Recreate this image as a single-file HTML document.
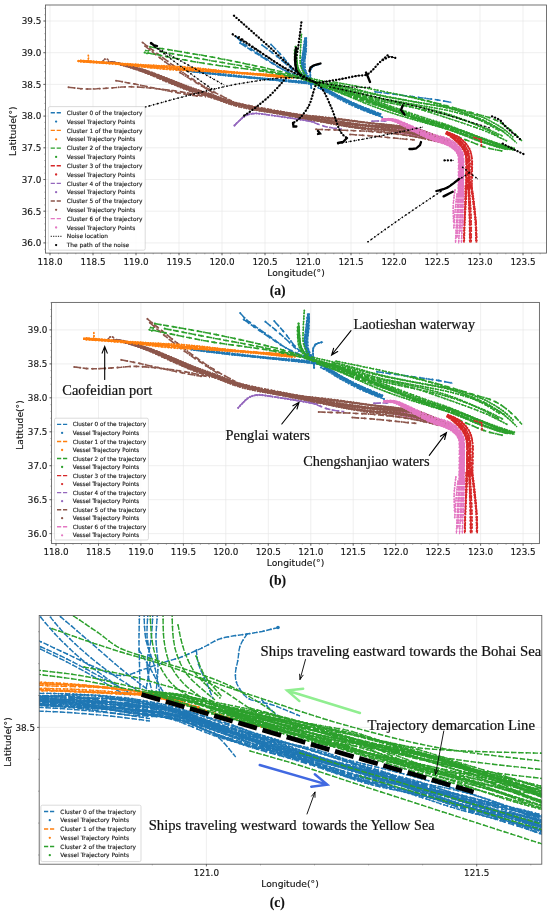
<!DOCTYPE html>
<html><head><meta charset="utf-8"><title>Vessel trajectory clustering</title>
<style>html,body{margin:0;padding:0;background:#fff}svg{display:block}text{stroke:#111;stroke-width:.12px}text.s{stroke-width:.2px}</style></head>
<body>
<svg width="550" height="916" viewBox="0 0 550 916" font-family="'DejaVu Sans','Liberation Sans',sans-serif" fill="#111">
<rect width="550" height="916" fill="#fff"/>
<defs><clipPath id="ca"><rect x="45.5" y="5" width="501" height="248.1"/></clipPath><clipPath id="cb"><rect x="51.6" y="302.4" width="487.8" height="241.2"/></clipPath><clipPath id="cc"><rect x="39.2" y="615.5" width="502.6" height="248.7"/></clipPath>
<path id="a_b_d1" d="M187 70.3l1.8 0.2 2.1 0.2 2.6 0.2 2.8 0.3 3.1 0.3 3.4 0.4 3.4 0.3 3.5 0.4 3.5 0.4 3.5 0.3 3.4 0.4 2.9 0.3 2.9 0.3 3 0.4 3.1 0.3 3.2 0.4 3.2 0.3 3.1 0.4 3.2 0.3 3.2 0.4 3.1 0.3 3.1 0.3 3 0.3 3 0.3 3.4 0.3 3.4 0.3 3.5 0.3 3.4 0.3 3.3 0.2 3.3 0.2 3.2 0.3 3.1 0.2 3 0.2 2.8 0.2 2.6 0.2 4 0.3 3.7 0.4 3.5 0.4 3.1 0.4 2.7 0.3 2.3 0.3 1.8 0.2M187 70.6l1.7 0.2 2.2 0.3 2.5 0.3 2.9 0.4 3.1 0.4 3.3 0.5 3.4 0.5 3.5 0.4 3.5 0.5 3.5 0.4 3.4 0.4 2.8 0.3 3 0.4 3 0.3 3.1 0.3 3.2 0.3 3.2 0.3 3.1 0.3 3.2 0.2 3.2 0.3 3.2 0.2 3 0.3 3.1 0.2 2.9 0.3 3.4 0.2 3.5 0.3 3.4 0.3 3.4 0.2 3.4 0.3 3.3 0.2 3.2 0.3 3 0.3 3 0.3 2.8 0.2 2.7 0.3 3.9 0.4 3.7 0.5 3.4 0.5 3.1 0.4 2.8 0.4 2.3 0.3 1.7 0.3M187 71l1.7 0.2 2.2 0.3 2.5 0.3 2.8 0.3 3.1 0.4 3.3 0.4 3.5 0.4 3.5 0.4 3.5 0.4 3.5 0.4 3.4 0.4 2.8 0.3 3 0.3 3 0.3 3.1 0.3 3.2 0.3 3.2 0.3 3.2 0.3 3.1 0.3 3.2 0.3 3.2 0.3 3 0.3 3.1 0.3 2.9 0.2 3.4 0.4 3.4 0.3 3.5 0.3 3.4 0.3 3.3 0.3 3.3 0.4 3.2 0.3 3.1 0.2 2.9 0.3 2.9 0.3 2.6 0.3 3.9 0.4 3.7 0.4 3.5 0.4 3.1 0.4 2.7 0.4 2.3 0.3 1.8 0.2M325.4 88.9l2.9 1.4 3 1.6 2.7 1.5 2.8 1.6 3.5 1.8 2.4 1.2 2.6 1.3 2.8 1.4 2.9 1.3 3 1.4 3.1 1.4 3.2 1.4 3.1 1.3 3.4 1.4 3.6 1.5 3.6 1.4 3.5 1.4 3.2 1.3M321.7 88.5l3.2 1.5 2.9 1.4 3 1.5 2.6 1.5 2.9 1.6 3.5 1.8 2.4 1.2 2.6 1.3 2.8 1.3 2.9 1.4 3.1 1.4 3.1 1.4 3.2 1.4 3.1 1.2 3.4 1.4 3.7 1.4 3.7 1.4 3.5 1.3 3.1 1.2M321.9 88.1l3.2 1.6 2.8 1.4 2.9 1.6 2.7 1.6 2.8 1.7 3.5 1.9 2.4 1.3 2.5 1.3 2.7 1.5 2.9 1.4 3 1.5 3.1 1.6 3.2 1.5 3 1.3 3.5 1.5 3.6 1.5 3.6 1.4 3.5 1.4M324.9 90.1l2.9 1.4 2.9 1.5 2.7 1.5 2.8 1.6 3.6 1.8 2.4 1.2 2.6 1.3 2.7 1.4 2.9 1.4 3.1 1.4 3.1 1.5 3.2 1.4 3 1.3 3.5 1.4 3.6 1.5 3.6 1.4 3.5 1.4 3.2 1.3M306.3 38.1l-0.2 3.8 -0.3 4.2 -0.3 3.9 -0.6 3.7 -0.6 3.6 -0.5 3.5 -0.2 3.2 0.2 3.7 0.7 3.4 1.2 3.1 2.1 3 2.6 2.7M305.3 41.9l-0.4 4.1 -0.5 3.9 -0.5 3.6 -0.6 3.7 -0.4 3.5 -0.1 3.3 0.4 3.8 0.9 3.4 1.3 3.1 2.4 2.9 2.7 2.6M304.8 41.8l-0.5 4.2 -0.6 3.9 -0.5 3.6 -0.7 3.6 -0.5 3.6 -0.3 3.4 0.4 3.9 0.8 3.6 1.4 3.3 2.5 3.1M311.5 88l-0.2-2.3 -0.3-3.3 -0.3-3.5 -0.2-2.9 -0.2-3.5 0.2-2.5 2.1-3.4 3.4-1.7 4.5-0.8"/>
<path id="a_b_d2" d="M187 70.6l1.7 0.2 2.2 0.3 2.5 0.3 2.9 0.3 3.1 0.4 3.3 0.4 3.4 0.5 3.5 0.4 3.5 0.4 3.5 0.4 3.4 0.4 2.9 0.4 2.9 0.3 3 0.3 3.1 0.3 3.2 0.4 3.2 0.3 3.2 0.3 3.1 0.4 3.2 0.3 3.1 0.3 3.1 0.3 3 0.3 3 0.3 3.4 0.4 3.4 0.3 3.5 0.4 3.4 0.3 3.3 0.3 3.3 0.4 3.2 0.3 3.1 0.3 2.9 0.3 2.8 0.2 2.7 0.3 3.9 0.4 3.7 0.4 3.5 0.4 3.1 0.4 2.7 0.3 2.3 0.3 1.8 0.2M187 71l1.7 0.2 2.1 0.3 2.6 0.3 2.8 0.3 3.1 0.4 3.3 0.4 3.5 0.4 3.5 0.4 3.5 0.4 3.5 0.4 3.4 0.4 2.8 0.2 3 0.3 3 0.3 3.1 0.3 3.2 0.2 3.2 0.3 3.2 0.3 3.2 0.2 3.1 0.3 3.2 0.2 3.1 0.3 3 0.2 2.9 0.3 3.5 0.3 3.4 0.2 3.4 0.3 3.4 0.3 3.4 0.3 3.3 0.2 3.2 0.3 3.1 0.2 2.9 0.3 2.8 0.3 2.7 0.2 3.9 0.4 3.7 0.4 3.5 0.4 3.1 0.4 2.7 0.4 2.3 0.3 1.8 0.2M322.1 87.6l3.3 1.4 2.9 1.4 3 1.5 2.7 1.5 2.9 1.6 3.5 1.8 2.4 1.1 2.6 1.3 2.8 1.3 2.9 1.3 3 1.4 3.2 1.4 3.2 1.3 3 1.3 3.5 1.3 3.6 1.4 3.6 1.4 3.5 1.4 3.2 1.2M325.5 88.8l2.9 1.4 3 1.6 2.6 1.5 2.9 1.6 3.5 1.9 2.3 1.2 2.6 1.4 2.7 1.4 2.9 1.4 3 1.5 3.1 1.5 3.1 1.5 3 1.4 3.4 1.5 3.6 1.5 3.7 1.5 3.4 1.4M316.2 84.7l2.8 1.3 3.2 1.4 3.2 1.5 3 1.4 2.9 1.6 2.7 1.5 2.9 1.6 3.5 1.8 2.3 1.2 2.6 1.3 2.8 1.4 2.9 1.4 3 1.4 3.1 1.5 3.1 1.4 3.1 1.4 3.4 1.4 3.6 1.5 3.6 1.5 3.4 1.5 3.2 1.3M318.2 87.7l3.1 1.6 3.2 1.6 2.8 1.5 2.9 1.6 2.6 1.6 2.9 1.6 3.5 1.9 2.4 1.2 2.6 1.3 2.7 1.4 3 1.4 3 1.4 3.2 1.5 3.2 1.4 3.1 1.2 3.5 1.4 3.6 1.3 3.7 1.4 3.5 1.3 3.2 1.1 2.7 1M306 38.1l-0.2 3.8 -0.4 4.2 -0.4 3.9 -0.5 3.6 -0.5 3.7 -0.5 3.5 -0.1 3.2 0.3 3.8 0.8 3.3 1.3 3 2.1 3 2.6 2.7M306.4 41.9l-0.1 4.2 -0.1 4 -0.4 3.7 -0.5 3.6 -0.4 3.5 0 3 0.2 3.6 0.6 3.2 1.1 2.8 1.8 3.1 2.3 2.8M304.9 38.1l-0.6 3.7 -0.6 4.2 -0.4 3.8 -0.5 3.6 -0.6 3.6 -0.5 3.7 -0.1 3.4 0.5 3.9 0.9 3.6 1.5 3.3 2.5 3 2.9 2.5M311.2 88l-0.2-2.3 -0.3-3.3 -0.2-3.5 -0.2-2.9 -0.2-3.5 0.3-2.6 2-3.5 3.6-1.6 4.5-0.8"/>
<path id="a_b_sp" d="M236.5 37l1.6 1.6 2.3 2.4 3.6 3 2 1.4 2.3 1.6 2.5 1.7 2.7 1.8 2.8 1.8 2.8 1.8 2.9 1.9 2.6 1.7 2.7 1.8 2.8 1.9 2.8 1.8 2.8 1.9 2.8 1.8 2.6 1.6 2.5 1.5 3 1.7 2.8 1.5 2.7 1.4 2.6 1.2 2.6 1.1 2.7 1.1 3.6 1.3 3.8 1.2 3.7 1 3.2 0.9 2.2 0.6M240 43l1.7 1.1 2.2 1.4 2.7 1.7 2.9 1.9 3.1 2 3.2 2.1 3.2 2 3 1.8 2.5 1.6 2.6 1.5 2.5 1.6 2.6 1.6 2.6 1.6 2.6 1.6 2.8 1.5 2.8 1.5 3 1.5 2.9 1.3 3.3 1.4 3.4 1.4 3.6 1.4 3.6 1.4 3.4 1.3 3.2 1.1 2.8 1.1 2.5 0.9 1.8 0.7M271 44.4l1.6 1.7 2.4 2.4 2.7 2.8 2.8 3 2.5 2.7 2.2 2.7 2.2 2.7 2.2 2.7 2.2 2.6 2.2 2.3 3.2 2.5 3.5 2.3 3.1 1.9 2.2 1.3M262 45l1.5 1.2 2.1 1.5 2.5 1.9 2.7 2 2.8 2.2 2.8 2.1 2.6 2.1 2.6 2.2 2.8 2.4 2.8 2.5 2.7 2.4 2.5 2.2 2.1 1.9 1.5 1.4M375 91.8l1.9 0.2 2.4 0.3 2.8 0.4 3.3 0.4 3.5 0.5 3.6 0.4 3.8 0.5 3.7 0.5 2.8 0.4 3.1 0.4 3.2 0.4 3.3 0.4 3.3 0.4 3.4 0.5 3.3 0.4 3.2 0.4 3.1 0.5 2.8 0.3 2.5 0.4 4.1 0.6 3.8 0.6 3.2 0.6 2.8 0.5 2.3 0.4 1.8 0.3"/>
<path id="a_o_d2" d="M80.7 60.4l2.7 0.2 3 0.2 3.2 0.2 3.5 0.3 3.8 0.3 4 0.3 4.1 0.4 2.5 0.2 2.7 0.3 2.8 0.3 2.9 0.2 3 0.3 3.2 0.3 3.2 0.4 3.3 0.3 3.3 0.3 3.3 0.3 3.4 0.2 3.3 0.3 3.2 0.2 3.2 0.2 3.1 0.2 3 0.2 2.9 0.2 2.7 0.1 3.6 0.2 3.4 0.2 3.3 0.2 3.1 0.1 3.1 0.2 3 0.1 2.9 0.2 2.9 0.1 2.9 0.2 2.9 0.1 2.9 0.2 3 0.2 3 0.2 3.1 0.3 3.1 0.2 3.2 0.3 3.1 0.2 3.1 0.3 3.2 0.3 3.1 0.3 3.1 0.3 3.1 0.3 3 0.3 3 0.3 3 0.3 2.9 0.3 3.4 0.3 3.4 0.3 3.4 0.4 3.4 0.3 3.4 0.3 3.2 0.2 3.2 0.3 3.1 0.2 3 0.2 2.8 0.2 2.7 0.2 4 0.3 3.9 0.2 3.6 0.3 3.3 0.2M80.7 60.7l2.7 0.1 3 0.2 3.2 0.2 3.5 0.3 3.8 0.3 4 0.3 4.1 0.4 2.5 0.3 2.6 0.2 2.8 0.3 3 0.3 3 0.3 3.2 0.4 3.2 0.3 3.3 0.3 3.3 0.3 3.3 0.3 3.3 0.3 3.3 0.2 3.3 0.2 3.2 0.2 3.1 0.2 3 0.2 2.9 0.1 2.7 0.1 3.6 0.2 3.4 0.1 3.3 0.1 3.1 0.2 3.1 0.1 3 0.1 2.9 0.2 2.9 0.1 2.9 0.2 2.9 0.2 2.9 0.2 3 0.2 3 0.2 3.1 0.3 3.1 0.2 3.2 0.3 3.1 0.3 3.1 0.3 3.2 0.3 3.1 0.2 3.1 0.3 3.1 0.3 3 0.2 3 0.3 3 0.2 2.9 0.2 3.4 0.3 3.5 0.2 3.4 0.2 3.4 0.3 3.3 0.2 3.3 0.1 3.2 0.2 3.1 0.2 3 0.2 2.8 0.1 2.7 0.2 4 0.3 3.9 0.3 3.6 0.4 3.3 0.3 2.9 0.4M78.2 61.3l2.4 0.2 2.7 0.1 3 0.2 3.3 0.2 3.5 0.2 3.7 0.2 4 0.2 4.2 0.3 2.5 0.2 2.6 0.2 2.8 0.2 3 0.2 3 0.2 3.2 0.3 3.2 0.2 3.3 0.3 3.3 0.3 3.3 0.3 3.3 0.4 3.3 0.3 3.3 0.3 3.2 0.3 3.1 0.3 3 0.3 2.8 0.3 2.7 0.2 3.6 0.4 3.4 0.3 3.3 0.2 3.1 0.3 3.1 0.3 3 0.2 2.9 0.2 2.9 0.2 2.9 0.2 2.9 0.2 2.9 0.2 3 0.2 3 0.1 3.1 0.2 3.1 0.2 3.2 0.1 3.1 0.2 3.2 0.2 3.1 0.1 3.1 0.2 3.1 0.2 3.1 0.1 3.1 0.2 3 0.2 3 0.2 2.9 0.2 3.4 0.2 3.4 0.2 3.4 0.3 3.4 0.3 3.4 0.2 3.2 0.3 3.2 0.3 3.1 0.3 3 0.3 2.8 0.3 2.7 0.2 4 0.4 3.8 0.4 3.7 0.4 3.3 0.3M80.6 61.8l2.7 0.1 3 0.2 3.2 0.3 3.6 0.2 3.7 0.2 4 0.3 4.2 0.3 2.4 0.2 2.7 0.2 2.8 0.2 2.9 0.3 3.1 0.2 3.1 0.3 3.3 0.3 3.2 0.4 3.3 0.3 3.4 0.4 3.3 0.3 3.3 0.4 3.2 0.3 3.2 0.4 3.1 0.3 3 0.3 2.8 0.3 2.8 0.3 3.5 0.3 3.4 0.2 3.3 0.3 3.2 0.2 3 0.2 3 0.2 3 0.1 2.9 0.2 2.9 0.1 2.9 0.1 2.9 0.1 3 0.1 3 0.1 3.1 0.1 3.1 0.1 3.2 0.1 3.1 0.1 3.2 0.1 3.1 0.1 3.1 0.2 3.1 0.1 3.1 0.2 3.1 0.2 3 0.2 3 0.2 2.9 0.2 3.4 0.3 3.4 0.2 3.4 0.4 3.4 0.3 3.3 0.3 3.3 0.4 3.2 0.3 3.1 0.4 2.9 0.3 2.9 0.3 2.6 0.3 4 0.4 3.9 0.3 3.6 0.3 3.3 0.3 2.9 0.2"/>
<path id="a_o_d1" d="M80.7 60.6l2.7 0.1 3 0.2 3.2 0.3 3.5 0.2 3.8 0.3 4 0.3 4.1 0.3 2.5 0.2 2.7 0.2 2.8 0.3 2.9 0.2 3.1 0.2 3.1 0.3 3.2 0.2 3.3 0.2 3.3 0.2 3.4 0.2 3.3 0.2 3.3 0.1 3.3 0.2 3.2 0.1 3.1 0.1 3 0.1 2.9 0.2 2.7 0.1 3.6 0.1 3.4 0.2 3.3 0.2 3.1 0.1 3.1 0.2 3 0.2 2.9 0.2 2.9 0.3 2.9 0.2 2.9 0.2 2.9 0.3 3 0.3 3 0.3 3.1 0.3 3.1 0.4 3.1 0.3 3.1 0.4 3.2 0.4 3.1 0.3 3.1 0.4 3.1 0.3 3.1 0.3 3 0.4 3 0.3 3 0.2 2.9 0.3 3.4 0.3 3.4 0.3 3.4 0.3 3.4 0.3 3.4 0.2 3.2 0.3 3.2 0.2 3.1 0.2 3 0.2 2.8 0.1 2.7 0.2 4.1 0.3 3.8 0.2 3.6 0.4 3.3 0.3 2.9 0.2M78.3 60.6l2.4 0.1 2.7 0.2 3 0.2 3.2 0.2 3.5 0.3 3.8 0.2 4 0.3 4.1 0.3 2.5 0.2 2.7 0.2 2.8 0.2 2.9 0.2 3.1 0.3 3.1 0.2 3.2 0.3 3.3 0.2 3.3 0.3 3.4 0.3 3.3 0.2 3.3 0.3 3.2 0.2 3.2 0.3 3.1 0.2 3 0.3 2.9 0.2 2.7 0.2 3.6 0.3 3.4 0.2 3.3 0.3 3.1 0.2 3.1 0.3 3 0.2 2.9 0.2 2.9 0.2 2.9 0.2 2.9 0.2 2.9 0.3 3 0.2 3 0.2 3.1 0.2 3.1 0.2 3.1 0.3 3.2 0.2 3.1 0.2 3.1 0.3 3.2 0.2 3.1 0.2 3.1 0.2 3 0.3 3 0.2 3 0.2 2.9 0.2 3.4 0.3 3.4 0.3 3.5 0.2 3.3 0.3 3.4 0.3 3.3 0.2 3.1 0.3 3.1 0.2 3 0.3 2.8 0.2 2.7 0.2 4 0.4 3.9 0.3 3.6 0.4 3.3 0.3 2.9 0.2 2.4 0.3M78.3 61.2l2.3 0.2 2.7 0.2 3 0.2 3.3 0.2 3.5 0.2 3.7 0.2 4 0.2 4.2 0.2 2.5 0.1 2.6 0.1 2.9 0.1 2.9 0.1 3.1 0.2 3.1 0.1 3.3 0.2 3.2 0.1 3.4 0.2 3.3 0.2 3.3 0.3 3.3 0.2 3.3 0.3 3.2 0.3 3.1 0.3 3 0.3 2.8 0.3 2.7 0.3 3.6 0.4 3.4 0.3 3.2 0.4 3.2 0.4 3.1 0.3 2.9 0.4 3 0.3 2.8 0.3 2.9 0.3 2.9 0.3 2.9 0.3 3 0.2 3 0.3 3.1 0.3 3.1 0.2 3.1 0.2 3.2 0.3 3.1 0.2 3.2 0.2 3.1 0.2 3.1 0.2 3.1 0.2 3 0.2 3 0.2 3 0.2 2.9 0.3 3.4 0.2 3.5 0.3 3.4 0.2 3.4 0.3 3.3 0.3 3.3 0.3 3.2 0.3 3 0.4 3 0.3 2.8 0.3 2.7 0.2 4 0.4 3.9 0.3 3.6 0.3 3.3 0.3M88 61l0.6-3.5 -0.4-3"/>
<path id="a_g_sp" d="M148 53l1.7 0.3 1.9 0.4 2.3 0.4 2.5 0.5 2.7 0.5 2.9 0.6 3.1 0.6 3.2 0.6 3.3 0.6 3.5 0.7 3.5 0.6 3.5 0.7 3.5 0.6 3.5 0.7 3.5 0.6 3.4 0.6 3.3 0.6 3.2 0.5 3 0.5 3.1 0.5 3.2 0.5 3.2 0.4 3.2 0.4 3.2 0.5 3.2 0.4 3.2 0.4 3.2 0.4 3.2 0.3 3.1 0.4 3.1 0.4 3 0.4 3 0.3 2.9 0.4 2.8 0.4 2.7 0.3 2.7 0.4 2.5 0.4 4 0.6 3.7 0.7 3.6 0.6 3.4 0.6 3.3 0.6 3.1 0.7 3 0.6 2.9 0.6 2.7 0.6 2.7 0.5 2.6 0.6 4 0.9 3.8 0.9 3.5 0.9 3.2 0.9 2.8 0.8 2.4 0.6 1.8 0.5M150 46.8l1.7 0.3 2 0.3 2.3 0.4 2.6 0.4 2.8 0.4 3 0.5 3.2 0.5 3.3 0.5 3.4 0.6 3.6 0.5 3.5 0.6 3.6 0.6 3.6 0.6 3.6 0.6 3.5 0.6 3.4 0.6 3.3 0.5 3.1 0.6 3.1 0.6 3.1 0.5 3.2 0.6 3.2 0.6 3.2 0.7 3.2 0.6 3.2 0.6 3.2 0.6 3.1 0.7 3.2 0.6 3.1 0.6 3 0.7 3 0.6 2.9 0.6 2.9 0.6 2.7 0.6 2.7 0.5 2.5 0.6 3.6 0.8 3.5 0.8 3.3 0.8 3.2 0.7 3 0.7 3 0.8 2.8 0.7 2.7 0.7 2.6 0.7 2.5 0.6 2.4 0.7 2.4 0.7 4 1.2 3.8 1.2 3.5 1.3 3.2 1.2 2.8 1 2.4 0.9 1.8 0.7M160 51.5l1.7 0.3 2 0.4 2.3 0.4 2.6 0.5 2.9 0.5 3 0.5 3.2 0.6 3.4 0.6 3.4 0.6 3.5 0.7 3.5 0.6 3.5 0.6 3.4 0.6 3.4 0.6 3.2 0.6 3 0.5 3.1 0.6 3.2 0.5 3.2 0.5 3.2 0.6 3.3 0.5 3.2 0.6 3.3 0.5 3.3 0.6 3.2 0.5 3.2 0.6 3.1 0.5 3.1 0.5 2.9 0.6 2.9 0.5 2.8 0.5 3.6 0.7 3.6 0.7 3.5 0.7 3.4 0.7 3.3 0.7 3.2 0.7 3.1 0.6 3 0.7 2.8 0.6 2.7 0.6 2.5 0.6 2.3 0.5 4.8 1.2 3.9 1.1 3.1 0.9 2.4 0.7 1.8 0.6M448 133l2 0.8 2.9 1.1 3.3 1.3 3.6 1.4 3.7 1.4 3.5 1.3 3 1.2 3.6 1.4 3.2 1.3 3.1 1.2 3 1.1 3.1 1 3.5 0.9 3.7 0.8 3.6 0.8 3 0.6 2.2 0.4M410 96.5l1.8 0.4 2.3 0.6 2.7 0.7 3.1 0.7 3.3 0.9 3.5 0.8 3.5 0.9 3.4 0.9 3.3 0.8 3.1 0.8 3.2 0.9 3.3 0.8 3.2 0.9 3.2 0.9 3.2 0.8 3.2 0.9 3.1 0.9 3.1 0.8 3 0.9 3.4 0.9 3.4 1 3.4 0.9 3.3 0.9 3.3 0.9 3.1 0.9 2.9 1 2.7 1.1 3.3 1.5 2.9 1.6 2.6 1.7 2.5 1.7 2.4 1.8 2.3 1.8 2.8 2.4 2.9 2.7 2.6 2.6 2.1 2.2 1.6 1.6"/>
<path id="a_g_d1" d="M147 53.5l-2.5-1 1-2 3.5 0.5M311.4 80.1l4.1 1.2 4.1 1.1 3.5 0.8 3.6 0.9 4 1.1 2.8 1 3 1.2 3.1 1.2 3.1 1.2 3 1.3 2.5 1 2 0.9 2.3 1 3.2 1.3 4.7 2 2.1 0.9 2.3 1 2.7 1.1 2.8 1.2 3.1 1.3 3.1 1.3 3.3 1.3 3.2 1.3 3.3 1.2 3.3 1.3 3.1 1.1 3.1 1.1 2.8 1 2.6 0.9 2.4 0.8 4.3 1.3 3.6 1.1 3.1 1 2.7 0.8 2.7 0.7 2.6 0.7 3 0.8 3.1 0.8 3.2 0.8 3.2 0.8 3.2 0.8 3.1 0.8 3 0.8 3 0.8 3.3 0.9 3.1 1 3.1 1 3 1 2.9 0.9 2.8 1 3.2 1.1 2.9 1.1 2.8 1.1 2.9 1 3.3 1.2 2.6 0.9 2.8 1 2.9 1.1 3 1 3 1 2.8 1 2.7 0.8 3.8 1.2 3.9 1.2 3.6 1 3.2 0.8M315.1 82.5l4.1 1.2 3.5 1 3.6 0.8 4 1.2 2.7 0.9 3 1.1 3.1 1.1 3.2 1.1 3.1 1.1 2.5 0.9 2.1 0.8 2.3 0.8 3.2 1.1 4.9 1.7 2.1 0.7 2.5 0.9 2.7 0.9 2.9 1 3.1 1.1 3.2 1.1 3.3 1.1 3.3 1.2 3.4 1.1 3.3 1.1 3.1 1.1 3.1 1.1 2.8 0.9 2.6 0.9 2.4 0.8 4.2 1.5 3.6 1.2 3 1 2.8 0.8 2.6 0.9 2.6 0.8 2.9 0.9 3.1 0.9 3.2 0.9 3.1 1 3.2 0.9 3 0.9 3.1 0.9 2.9 0.9 3.2 1 3.2 1.1 3 1.1 3 1 2.8 1.1 2.8 1 3.1 1.2 2.9 1.2 2.8 1.1 2.9 1.2 3.3 1.2 2.5 1 2.8 1.1 2.9 1.1 3 1.1 2.9 1.1 2.9 1 2.7 0.9 3.8 1.2 3.9 1.1 3.7 1M314.8 83.3l4.1 1.4 3.5 1 3.5 0.9 4 1.2 2.8 0.9 3 1 3.1 1 3.2 1.1 3.1 1 2.5 0.9 2.1 0.6 2.4 0.8 3.3 1 4.9 1.5 2.1 0.7 2.5 0.8 2.7 0.8 3 1 3.1 1 3.2 1 3.4 1.1 3.3 1.1 3.4 1.1 3.2 1.1 3.2 1.1 3.1 1 2.8 1 2.6 0.9 2.3 0.9 4.3 1.5 3.5 1.2 3 1.1 2.7 1 2.6 0.9 2.6 0.9 2.9 1 3.1 1.1 3.1 1 3.1 1.1 3.1 1 3 1.1 3 1 2.8 1 3.2 1.2 3.1 1.2 3 1.2 2.9 1.1 2.8 1.2 2.8 1.1 3.1 1.2 2.8 1.2 2.8 1.2 2.9 1.3 3.3 1.2 2.6 1 2.8 1 3 1 3 1 3 0.9 2.9 0.9 2.8 0.8 3.9 0.9 4 0.8M314.7 83.5l4.2 1.2 3.5 0.9 3.6 0.8 4 1.1 2.8 0.8 3 1 3.2 1 3.1 1 3.1 1.1 2.6 0.8 2.1 0.7 2.3 0.8 3.3 1.1 4.8 1.7 2.2 0.7 2.4 0.9 2.7 1 2.9 1 3 1.2 3.2 1.2 3.3 1.2 3.3 1.3 3.3 1.2 3.2 1.3 3.1 1.2 3 1.2 2.8 1.1 2.6 1 2.3 0.9 4.2 1.6 3.6 1.3 3 1.1 2.7 1 2.6 0.9 2.7 0.9 2.8 0.9 3.2 1 3.1 1 3.1 1 3.2 0.9 3 0.9 3 1 2.9 0.9 3.2 1.1 3.1 1.1 3 1 2.9 1.1 2.9 1.1 2.7 1 3.1 1.3 2.8 1.1 2.8 1.2 3 1.2 3.2 1.3 2.7 1 2.8 0.9 3 1.1 3 1 3 1 2.9 0.9 2.8 0.8 3.9 1 4 0.8M314.8 83.3l4.1 1.4 3.5 1.1 3.5 1.1 3.9 1.3 2.6 1.1 3 1.2 3 1.3 3.1 1.4 3 1.3 2.4 1.1 2.1 0.8 2.3 1 3.1 1.4 4.8 2 2.1 0.8 2.3 1 2.7 1.1 2.9 1.1 3 1.2 3.2 1.2 3.3 1.2 3.3 1.2 3.3 1.2 3.3 1.1 3.2 1.1 3.1 0.9 2.9 1 2.6 0.8 2.4 0.7 4.3 1.3 3.6 1.1 3.1 0.9 2.8 0.8 2.6 0.7 2.7 0.8 3 0.8 3.1 0.9 3.2 0.9 3.2 0.8 3.1 0.9 3.1 0.9 3 0.9 2.8 0.9 3.3 1 3.1 1.1 3 1.1 2.9 1.1 2.8 1 2.8 1.1 3.1 1.1 2.8 1.2 2.8 1.1 3 1.2 3.3 1.2 2.7 0.9 2.8 0.9 3 1 3 0.9 3.1 0.9 2.9 0.9 2.8 0.7 4 0.8 4 0.8 3.8 0.6 3.2 0.5M309.2 78.1l4 0.9 4.3 0.9 2.9 0.6 3 0.6 3.3 0.7 3.9 0.9 2.5 0.6 2.8 0.7 3 0.7 3 0.8 3.2 0.8 3.3 0.8 3.3 0.9 2.9 0.7 3 0.8 3 0.8 3.2 0.9 3.1 0.8 3.2 0.8 3.3 0.8 3.2 0.7 2.9 0.7 2.7 0.6 2.8 0.6 2.8 0.6 2.9 0.5 3.1 0.6 3.3 0.6 3.5 0.7 3.8 0.7 2.7 0.5 2.8 0.6 3 0.5 3.2 0.5 3.2 0.6 3.4 0.5 3.3 0.6 3.4 0.5 3.4 0.6 3.4 0.5 3.3 0.6 3.2 0.5 3 0.6 3 0.5 3.5 0.8 3.5 0.9 3.4 0.8 3.3 0.9 3.3 0.9 3.1 0.9 3 1 2.9 0.9 2.8 1 2.7 0.9 2.6 0.9 3.7 1.7 3.3 1.7 3.1 1.6 2.8 1.6 2.6 1.5 2.3 1.5 2.4 1.5 2.9 2.3 2.7 2.2 2.4 2.1 2.1 2M330 85.1l2.5 0.7 2.7 0.8 3 0.8 3 0.9 3.2 0.9 3.2 0.9 3.3 0.9 2.9 0.8 2.9 0.9 3.1 0.8 3.1 0.8 3.2 0.9 3.2 0.8 3.3 0.8 3.3 0.7 2.9 0.6 2.8 0.5 2.8 0.6 2.8 0.4 3 0.5 3 0.6 3.3 0.5 3.5 0.6 3.8 0.7 2.7 0.5 2.8 0.5 3 0.5 3.2 0.6 3.2 0.5 3.3 0.6 3.4 0.6 3.4 0.6 3.4 0.6 3.3 0.6 3.3 0.6 3.1 0.6 3.1 0.6 2.9 0.6 3.5 0.8 3.4 0.8 3.4 0.9 3.3 0.9 3.2 0.9 3.1 0.9 3 0.9 2.9 1 2.7 0.9 2.7 0.9 2.6 0.9 3.6 1.5 3.4 1.6 3 1.5 2.8 1.4 2.6 1.5 2.4 1.3 2.4 1.4 3 2.1M330.1 84.7l2.5 0.7 2.8 0.7 2.9 0.8 3.1 0.8 3.1 0.9 3.3 0.8 3.2 1 2.9 0.8 3 0.8 3.1 0.9 3.1 0.9 3.1 0.9 3.2 0.9 3.2 0.9 3.3 0.8 2.9 0.7 2.8 0.7 2.8 0.6 2.8 0.6 2.9 0.6 3 0.6 3.3 0.7 3.4 0.7 3.8 0.9 2.7 0.5 2.8 0.6 3 0.7 3.1 0.6 3.2 0.7 3.3 0.8 3.3 0.7 3.3 0.8 3.3 0.8 3.3 0.8 3.2 0.8 3.1 0.9 2.9 0.8 2.8 0.9 3.4 1.1 3.4 1.1 3.2 1.1 3.2 1.2 3 1.2 3 1.1 2.9 1.2 2.7 1.2 2.7 1.1 2.5 1.1 2.4 1.1 3.5 1.5 3.2 1.5 2.9 1.5 2.7 1.4 2.5 1.3 2.4 1.3 2.4 1.3M296.3 50.2l0.1 4.1 0.3 3.7 0.3 3.2 0.3 3 0.6 2.9 1 2.6 1.9 3.1 2.5 2.8 2.6 2.3 3 2 3.1 1.5M295.9 46.6l0.1 3.6 0.2 4.1 0.3 3.7 0.3 3.2 0.4 3.1 0.6 2.8 1 2.6 1.9 3.2 2.5 2.8 2.7 2.3 2.9 2.1M295.9 46.6l0.1 3.6 0 4.1 0.2 3.7 0.3 3.2 0.4 3.1 0.6 2.9 0.9 2.7 2 3.2 2.6 2.8 2.7 2.4 3 2 3.1 1.5M301.5 34.5l-0.2 2.1 -0.2 3 -0.2 3.5 -0.3 3.6 -0.1 3.3 -0.1 3.2 -0.2 3.2 -0.1 3.3 0.1 3 0.4 2.8 1.6 4.3 2.2 3.7 1.6 2.5"/>
<path id="a_g_d2" d="M310.9 81.5l4.1 1.2 4.1 1.2 3.6 0.9 3.5 0.8 4.1 1 2.8 0.9 3 0.9 3.2 1 3.2 1.1 3.1 1 2.5 0.8 2.2 0.7 2.3 0.7 3.3 1.1 4.8 1.5 2.2 0.7 2.4 0.8 2.8 0.9 2.9 0.9 3.1 1 3.2 1.1 3.4 1.1 3.3 1.1 3.3 1.2 3.3 1.1 3.2 1.1 3 1 2.9 1 2.6 0.9 2.3 0.8 4.3 1.5 3.5 1.2 3 1 2.8 0.9 2.5 0.9 2.7 0.9 2.9 0.9 3.1 1 3.1 1 3.1 0.9 3.1 1 3.1 0.9 3 1 2.9 1 3.2 1.1 3.1 1.2 3.1 1.1 2.9 1.2 2.8 1.1 2.8 1.1 3.1 1.3 2.8 1.2 2.8 1.3 2.9 1.2 3.2 1.3 2.6 1.1 2.7 1.1 2.9 1.1 3 1.2 2.9 1.1 2.9 1 2.7 0.9 3.8 1.2 3.9 1.1M315.2 82.3l4 1.3 3.5 1 3.5 1 4 1.2 2.8 1 2.9 1.1 3.1 1.2 3.2 1.2 3 1.1 2.5 1 2.1 0.8 2.3 0.8 3.2 1.2 4.9 1.8 2.1 0.7 2.4 0.9 2.7 1 2.9 1 3.1 1.2 3.2 1.1 3.3 1.2 3.3 1.2 3.3 1.2 3.3 1.2 3.1 1.1 3.1 1.1 2.8 1 2.6 0.9 2.3 0.8 4.3 1.4 3.6 1.2 3 1 2.8 0.9 2.6 0.8 2.6 0.9 2.9 0.9 3.2 0.9 3.1 0.9 3.2 0.9 3.1 0.9 3.1 0.9 3 0.8 2.9 0.9 3.3 1 3.1 1 3.1 1.1 2.9 1 2.9 1 2.8 0.9 3.1 1.2 2.9 1.1 2.9 1.1 2.9 1.1 3.3 1.1 2.6 0.9 2.8 1 3 1 2.9 1.1 3 0.9 2.9 1 2.7 0.8 3.9 1.1 3.9 1 3.7 0.9 3.2 0.7M314.5 84.2l4.1 1.5 3.5 1.1 3.5 1.1 3.9 1.2 2.7 1 2.9 1 3.1 1.2 3.2 1.1 3 1.2 2.6 0.8 2.1 0.8 2.3 0.8 3.3 1.1 4.8 1.6 2.2 0.7 2.4 0.8 2.7 0.9 3 1 3.1 1 3.2 1.1 3.3 1.1 3.4 1.1 3.3 1.1 3.3 1.2 3.2 1.1 3 1 2.9 1 2.6 0.9 2.3 0.8 4.3 1.5 3.5 1.2 3.1 1.1 2.7 0.9 2.6 0.9 2.7 0.8 2.9 1 3.1 1 3.1 1 3.1 1 3.1 1 3.1 0.9 3 1 2.8 0.9 3.2 1.1 3.1 1.1 3 1.1 3 1.1 2.8 1 2.8 1.1 3.1 1.1 2.8 1.1 2.8 1.2 3 1.1 3.3 1.2 2.7 0.8 2.8 0.9 3 1 3.1 0.9 3 0.9 2.9 0.8 2.8 0.7 4 0.9 4 0.7 3.8 0.7 3.2 0.5M314.6 83.8l4.1 1.5 3.5 1.1 3.5 1 3.9 1.2 2.8 0.9 2.9 1.1 3.1 1.1 3.2 1.1 3.1 1.1 2.5 0.9 2.1 0.7 2.4 0.7 3.2 1.1 4.9 1.6 2.2 0.7 2.4 0.8 2.7 1 2.9 0.9 3.1 1.1 3.2 1.2 3.3 1.1 3.3 1.2 3.4 1.3 3.2 1.2 3.1 1.2 3 1.1 2.9 1.1 2.5 1 2.4 0.9 4.2 1.6 3.5 1.3 3 1.1 2.8 1 2.5 0.9 2.7 0.9 2.9 0.9 3.1 1.1 3.2 0.9 3.1 1 3.1 0.9 3.1 0.9 3 0.8 2.9 0.9 3.2 1 3.1 1 3 1.1 3 1 2.9 1 2.7 1 3.1 1.1 2.9 1.2 2.8 1.1 3 1.2 3.2 1.3 2.7 0.9 2.8 1 3 1 3 1 3 1 2.9 1 2.7 0.8 4 1 4 0.9M333.5 81.9l2.8 0.5 3 0.6 3.2 0.6 3.2 0.6 3.3 0.6 3.3 0.6 3 0.5 3.1 0.7 3.1 0.6 3.2 0.6 3.2 0.6 3.2 0.6 3.2 0.6 3.3 0.6 2.8 0.6 2.8 0.6 2.7 0.5 2.8 0.6 2.9 0.6 3.1 0.6 3.3 0.7 3.5 0.7 3.8 0.9 2.7 0.6 2.8 0.6 2.9 0.7 3.1 0.8 3.3 0.7 3.2 0.8 3.3 0.9 3.4 0.8 3.3 0.9 3.3 0.9 3.2 1 3.1 0.9 3 0.9 2.8 1 3.4 1.2 3.4 1.3 3.2 1.2 3.2 1.3 3.1 1.3 3 1.2 2.9 1.2 2.8 1.2 2.7 1.2 2.6 1.2 2.4 1.1 3.6 1.8 3.2 1.7 2.9 1.6 2.8 1.6 2.5 1.5 2.4 1.5M330.4 83.6l2.5 0.6 2.8 0.7 2.9 0.8 3.1 0.8 3.2 0.8 3.2 0.8 3.3 0.9 2.9 0.7 3 0.8 3.1 0.8 3.1 0.8 3.2 0.7 3.2 0.8 3.3 0.7 3.3 0.7 2.8 0.6 2.8 0.6 2.8 0.5 2.8 0.5 3 0.5 3 0.5 3.3 0.6 3.5 0.6 3.9 0.7 2.6 0.5 2.9 0.4 3 0.6 3.2 0.5 3.2 0.6 3.3 0.5 3.4 0.6 3.4 0.6 3.4 0.6 3.3 0.7 3.3 0.6 3.1 0.6 3.1 0.7 2.9 0.7 3.5 0.9 3.4 1 3.4 1 3.2 1 3.2 1 3.1 1.1 2.9 1 2.9 1.1 2.7 1 2.6 1.1 2.6 1 3.6 1.7 3.3 1.7 2.9 1.7 2.8 1.6 2.5 1.6 2.4 1.5 2.3 1.4 2.9 2.2 2.7 2.1 2.4 1.9 2.2 1.9 2 1.7 3 2.9M317 82l2.9 0.7 2.9 0.7 3.3 0.9 3.8 1 2.5 0.7 2.8 0.9 2.9 0.8 3 1 3.1 1 3.2 1 3.3 1.1 2.8 0.9 3 1 3 1 3 1.1 3.2 1 3.1 1 3.3 1 3.2 1 2.9 0.7 2.9 0.7 2.7 0.6 2.9 0.6 2.9 0.6 3 0.6 3.2 0.6 3.5 0.7 3.8 0.7 2.6 0.6 2.9 0.5 3 0.6 3.1 0.6 3.2 0.6 3.3 0.7 3.4 0.6 3.3 0.7 3.3 0.7 3.3 0.8 3.2 0.7 3.1 0.8 3 0.7 2.8 0.8 3.4 0.9 3.4 1 3.3 1 3.1 1 3.2 1.1 3 1 2.9 1 2.8 1 2.7 1 2.6 0.9 2.5 0.9 3.6 1.4 3.3 1.3 3 1.3 2.7 1.2 2.6 1.3 2.5 1.2 2.5 1.1 3.2 1.6M322.7 84.1l3.2 1 3.8 1.1 2.5 0.8 2.7 0.8 2.9 0.9 3.1 0.9 3.1 0.9 3.3 0.9 3.2 0.9 2.9 0.8 3 0.8 3.1 0.8 3.1 0.8 3.2 0.8 3.2 0.8 3.3 0.8 3.3 0.7 2.9 0.6 2.8 0.6 2.8 0.5 2.9 0.6 2.9 0.6 3 0.6 3.2 0.7 3.5 0.8 3.7 1 2.6 0.7 2.8 0.8 3 0.8 3 0.9 3.2 0.9 3.2 0.9 3.3 1 3.2 1 3.3 1 3.2 1.1 3.1 1 3.1 0.9 2.8 1 2.8 0.9 3.3 1.1 3.3 1 3.3 1.1 3.1 1.1 3.1 1 3 1 2.9 1 2.8 1 2.7 0.9 2.6 0.9 2.4 0.9 3.6 1.3 3.2 1.2 3 1.2 2.7 1.2 2.6 1.2 2.5 1.2 2.4 1.1 3.2 1.5 2.9 1.4 2.6 1.3M295.4 46.6l0 3.7 0.1 4 0.2 3.7 0.4 3.2 0.4 3.2 0.7 2.9 1 2.7 2.1 3.2 2.6 2.8 2.7 2.3 3.1 1.9 3.2 1.5M294.6 50.3l-0.1 4.1 0.1 3.7 0.3 3.3 0.3 3.2 0.7 3.1 1.1 2.9 2.2 3.4 2.8 2.9 2.9 2.4 3.3 1.8 3.3 1.4"/>
<path id="a_r_d2" d="M446.9 132.1l3.6 1.5 3.3 1.3 3.4 1.7 3.4 2.3 3.4 2.8 3 3.4 2.6 4.1 1.2 3.2 0.8 3.4 0.5 3.9 0.2 2.9 0 3.1 0 3.1 -0.1 3.2 0 3.1 -0.1 3.2 -0.1 3.4 -0.1 3.4 -0.1 2.9M446.7 132.6l3.5 1.6 3.1 1.6 3.2 1.8 3.2 2.4 3.1 2.8 2.7 3.3 2.3 3.9 1 3 0.7 3.2 0.4 3.7 0.1 2.7 0 3 -0.1 3.2 -0.1 3.1 -0.1 3.1 -0.1 3.2 0 3.5 -0.1 3.4 0 2.9M446.7 132.7l3.4 1.7 2.9 1.9 2.9 2.2 3 2.4 2.9 2.8 2.6 3.2 2.1 3.7 1 2.7 0.7 3.1 0.4 3.6 0.1 2.7 0.1 2.9 -0.1 3.1 0 3.2 -0.1 3.1 0.1 3.2 0 3.5 0.1 3.4 0 2.9M446.5 133l3.4 1.7 2.9 1.9 2.9 2.1 3 2.4 2.9 2.8 2.6 3.1 2.1 3.7 0.9 2.7 0.6 3 0.4 3.6 0.1 2.7 -0.1 2.9 -0.1 3.1 -0.2 3.2 -0.1 3.1 -0.1 3.2 0 3.5 -0.1 3.4 0 2.9M446.4 133.3l3.2 1.9 2.9 1.9 2.7 2.2 2.9 2.5 2.8 2.8 2.4 3.1 2 3.5 0.8 2.5 0.5 2.9 0.4 3.5 0 2.6 0 2.9 -0.2 3.1 -0.1 3.2 -0.1 3.1 -0.1 3.2 0 3.5 0 3.4 0 2.8M446.3 133.4l3.2 2 2.7 2.1 2.6 2.4 2.8 2.5 2.6 2.8 2.3 3 1.9 3.4 0.8 2.4 0.5 2.7 0.4 3.5 0.1 2.5 0 2.9 -0.1 3.1 0 3.1 0 3.2 0 3.2 0.1 3.5 0.1 3.4 0.1 2.8M466 186l0 2.1 -0.1 2.8 -0.1 3.4 -0.2 3.6 -0.1 3.7 -0.2 3.4 -0.2 3.3 -0.2 3.4 -0.2 3.4 -0.2 3.4 -0.1 3.3 -0.2 3.2 -0.1 3.9 -0.2 4.1 -0.1 3.9 0 3.3 -0.1 2.3M469.1 186l0.1 2 0.3 2.9 0.2 3.3 0.3 3.6 0.3 3.7 0.2 3.5 0.2 3.3 0.1 3.4 0.2 3.4 0.1 3.4 0.1 3.3 0.1 3.2 0 3.9 0 4.1 0 3.9 -0.1 3.3 0 2.3M468 186l0.1 2.1 0.2 2.8 0.1 3.4 0.2 3.6 0.2 3.7 0.1 3.4 0.1 3.3 0.2 3.4 0.1 3.4 0.1 3.4 0.1 3.3 0 3.2 0.1 3.9 0 4.1 0.1 3.9 0 3.3 0 2.3M471.3 186l0.3 2 0.5 2.9 0.5 3.3 0.5 3.7 0.5 3.6 0.5 3.5 0.4 3.3 0.4 3.3 0.4 3.5 0.4 3.3 0.3 3.4 0.2 3.2 0.3 3.9 0.1 4.1 0.1 3.9 0 3.3 0.1 2.3"/>
<path id="a_r_d1" d="M447.1 131.9l3.6 1.3 3.3 1.4 3.5 1.7 3.4 2.3 3.3 2.9 3 3.5 2.5 4.1 1.1 3.3 0.7 3.4 0.4 4 0 2.8 -0.1 3.1 -0.2 3.1 -0.2 3.2 -0.2 3 -0.2 3.3 -0.2 3.4 -0.2 3.4 -0.2 2.9M446.9 132.2l3.5 1.6 3 1.8 3.1 2 3.1 2.5 3 2.9 2.6 3.3 2.2 3.9 0.9 2.9 0.7 3.1 0.3 3.8 0.1 2.6 -0.1 3 -0.1 3.1 -0.1 3.2 -0.1 3.1 -0.1 3.2 0 3.5 -0.1 3.4 0 2.9M446.9 132.3l3.4 1.6 3.1 1.8 3 2 3.2 2.4 2.9 2.9 2.7 3.4 2.1 3.9 1 2.8 0.6 3.2 0.3 3.7 0 2.6 -0.1 3 -0.1 3.1 -0.2 3.2 -0.1 3.1 -0.1 3.2 -0.1 3.5 -0.1 3.4 0 2.9M446.4 133.2l3.3 1.9 2.8 1.9 2.8 2.2 2.9 2.5 2.7 2.8 2.4 3.1 1.9 3.6 0.8 2.6 0.5 2.8 0.3 3.6 0.1 2.5 -0.1 2.9 -0.2 3.1 -0.1 3.1 -0.1 3.2 -0.1 3.2 0 3.5 0 3.4 0 2.8M446.1 133.7l3.2 2.1 2.7 2 2.7 2.3 2.8 2.4 2.6 2.7 2.4 3 2 3.4 0.8 2.4 0.6 2.7 0.4 3.5 0.1 2.5 0 2.9 0 3.1 -0.1 3.1 0 3.2 0.1 3.2 0 3.5 0.1 3.4 0.1 2.8M466.8 186l-0.1 2.1 -0.2 2.8 -0.1 3.4 -0.2 3.6 -0.2 3.7 -0.2 3.4 -0.2 3.3 -0.2 3.4 -0.2 3.4 -0.2 3.4 -0.1 3.3 -0.2 3.2 -0.1 3.9 -0.1 4.1 -0.1 3.9 -0.1 3.3 0 2.3M465.4 186l-0.1 2 0 2.9 -0.1 3.3 0 3.7 -0.1 3.6 0 3.5 -0.1 3.3 -0.1 3.4 -0.1 3.4 -0.1 3.4 0 3.3 -0.1 3.2 -0.1 3.9 -0.1 4.1 0 3.9 -0.1 3.3 0 2.3M468.6 186l0.1 2.1 0.1 2.8 0.2 3.4 0.2 3.6 0.1 3.7 0.2 3.4 0.1 3.3 0.1 3.4 0.1 3.4 0.1 3.4 0.1 3.3 0.1 3.2 0.1 3.9 0 4.1 0.1 3.9 0 3.3 0.1 2.3M471.8 185.9l0.3 2.1 0.4 2.8 0.5 3.4 0.5 3.6 0.4 3.7 0.4 3.4 0.4 3.4 0.3 3.3 0.3 3.5 0.3 3.4 0.2 3.3 0.2 3.2 0.1 3.9 0.1 4.1 0 3.9 0 3.3 0 2.3M470.8 186.1l0.3 2 0.4 2.9 0.5 3.3 0.5 3.6 0.5 3.7 0.4 3.4 0.4 3.3 0.4 3.4 0.4 3.4 0.4 3.4 0.3 3.3 0.2 3.2 0.2 4 0.1 4 0.1 3.9 0 3.3 0.1 2.3M474 137.5l3.5 1 3.5 1M481 139.5l0.3 3.5 0.2 4"/>
<path id="a_p_d2" d="M234.5 125.5l2.3-2.5 3.2-3 2.7-2.6 3.3-2.1 2.7-1 3.2-0.7 4.1-0.3 2.6 0.2 3 0.3 3.3 0.5 3.3 0.5 3.4 0.5 3.4 0.5 3.2 0.5 3.4 0.5 3.3 0.5 3.4 0.5 3.3 0.5 3.4 0.5 3.5 0.6 3.9 0.6 3.8 0.6 3.6 0.6 3 0.5 2.2 0.3"/>
<path id="a_p_d1" d="M234.5 125.5l2.4-2.4 3.2-3 2.7-2.5 3.3-2.1 2.7-1 3.1-0.7 4.1-0.3 2.6 0.2 3 0.3 3.2 0.4 3.4 0.5 3.4 0.5 3.4 0.4 3.2 0.5 3.4 0.4 3.3 0.5 3.4 0.5 3.3 0.5 3.4 0.5 3.6 0.5 3.8 0.6 3.8 0.7 3.6 0.6 3 0.5 2.2 0.4"/>
<path id="a_p_sp" d="M372 121.3l3.5-0.2 4.5-0.1 4.5 0 3.5 0M306 119.5l2.3 0.9 3.4 1.3 3.3 1.3 3 1.1 3 1.1 3 1 3 0.7 3 0.6 3 0.5 3.3 0.4 3.4 0.4 2.3 0.2"/>
<path id="a_br_d2" d="M115.5 62.6l4.6 0.9 2.5 0.6 2.7 0.7 3 0.7 3 0.9 3.2 0.8 3.1 1 3.2 0.9 3 1 3 1 3 1 3.1 1.2 3 1.1 3 1.2 2.9 1.2 3 1.2 2.9 1.1 2.9 1.2 2.9 1.2 2.9 1.1 2.8 1.2 2.8 1.1 2.9 1.2 2.7 1 2.8 1.1 3.1 1.1 3.1 1.1 3.1 1 3.1 1 3.1 1 3.1 1 3.1 1.1 3.1 1.1 3.1 1.1 3.2 1.1 3.1 1.1 3.1 1.1 3.1 1 3.1 0.9 3.1 0.8 3.1 0.8 3.1 0.7 3.1 0.7 3.1 0.6 3.1 0.6 3.1 0.6 3.1 0.6 3.1 0.6 3.1 0.5 3.1 0.5 3.2 0.5 3.1 0.4 3.2 0.5 3.2 0.5 3.2 0.5 3.3 0.5 3.3 0.4 3.3 0.5 3.2 0.5 3.3 0.4 3.2 0.4 3.1 0.3 3.2 0.3 3.1 0.3 3.1 0.3 3.1 0.3 3.1 0.3 3.2 0.4 3.1 0.3 3.2 0.4 3.1 0.3 3.1 0.4 3.2 0.4 3.1 0.4 3.1 0.4 3.1 0.4 3.1 0.4 3.1 0.5 3.1 0.4 3 0.4 3.1 0.4 3.1 0.5 3.1 0.4 3.1 0.4 3.1 0.4 3.1 0.4 3.1 0.4 3.2 0.4 3.2 0.5 3.3 0.5 3.3 0.6 3.3 0.5 3.2 0.5 2.9 0.5 2.7 0.5 3.8 0.9 3.1 0.9 2.9 0.9 3.1 1.1 2.8 0.9 3 1.1 3.1 1.1 3 1.1 3 1 3.9 1.4 4 1.4M111.6 61.9l4 0.5 4.5 0.9 2.5 0.6 2.8 0.7 2.9 0.7 3.1 0.9 3.1 0.9 3.2 0.9 3.1 1 3 1 3 1.1 3 1.1 3 1.2 3 1.3 2.9 1.2 3 1.3 2.9 1.2 2.9 1.2 2.9 1.2 2.9 1.2 2.9 1.2 2.8 1.2 2.8 1.1 2.8 1.1 2.8 1.1 2.8 1 3.2 1.1 3.1 1 3.1 0.9 3.1 1 3.2 0.9 3.1 0.9 3.1 0.9 3.2 1 3.1 1.1 3.2 1 3.1 1 3.2 1 3.1 0.9 3.1 0.8 3.1 0.8 3.1 0.7 3.1 0.6 3.1 0.7 3.1 0.6 3.1 0.6 3.1 0.6 3.1 0.6 3.1 0.5 3.1 0.6 3.1 0.5 3.1 0.6 3.1 0.6 3.2 0.5 3.2 0.6 3.2 0.6 3.3 0.6 3.2 0.7 3.3 0.6 3.2 0.6 3.2 0.6 3.2 0.5 3.1 0.5 3.1 0.5 3.1 0.5 3.1 0.5 3.1 0.6 3.1 0.5 3.1 0.5 3.1 0.5 3.1 0.5 3.2 0.5 3.1 0.5 3.1 0.5 3.1 0.4 3.1 0.5 3.1 0.4 3.1 0.4 3.1 0.4 3.2 0.4 3.1 0.4 3.1 0.3 3.1 0.3 3.1 0.3 3.1 0.3 3.1 0.2 3.1 0.3 3.2 0.2 3.1 0.3 3.2 0.3 3.3 0.3 3.4 0.4 3.3 0.3 3.2 0.4 3 0.3 2.7 0.4 3.8 0.7 3.1 0.8 2.9 0.8 3.2 0.9 2.9 0.9 3 1 3.1 1 3 1.1 3 1 3.8 1.4 4 1.5M111.5 62.2l4 0.5 4.5 0.9 2.6 0.5 2.7 0.7 3 0.7 3 0.8 3.2 0.8 3.2 0.8 3.2 0.9 3 0.9 3.1 1 3 1 3 1.1 3.1 1.2 3 1.2 2.9 1.2 3 1.1 2.9 1.2 2.9 1.2 2.9 1.2 2.8 1.2 2.8 1.2 2.9 1.2 2.7 1.2 2.8 1.1 2.7 1.1 3.1 1.2 3.1 1.2 3.1 1.1 3 1.1 3.1 1 3.1 1.1 3.1 1.1 3 1.2 3.1 1.2 3.1 1.1 3.2 1.2 3.1 1.1 3.1 1 3.1 0.9 3.1 0.9 3.1 0.8 3.1 0.7 3.1 0.6 3.2 0.6 3.1 0.6 3.1 0.6 3.1 0.6 3.1 0.5 3.1 0.5 3.1 0.5 3.1 0.5 3.2 0.5 3.2 0.5 3.2 0.5 3.2 0.6 3.3 0.5 3.3 0.6 3.2 0.5 3.3 0.6 3.2 0.5 3.1 0.6 3.1 0.6 3.1 0.5 3.1 0.6 3.1 0.5 3.1 0.6 3.1 0.5 3.1 0.6 3.1 0.5 3.2 0.5 3.1 0.5 3.1 0.5 3.1 0.4 3.2 0.4 3.1 0.4 3.1 0.4 3.1 0.3 3.2 0.3 3.1 0.3 3.1 0.2 3.1 0.2 3.2 0.2 3.1 0.1 3.1 0.1 3.1 0.1 3.2 0.1 3.1 0.1 3.2 0.2 3.2 0.1 3.3 0.2 3.4 0.2 3.4 0.2 3.2 0.3 3 0.3 2.7 0.3 3.9 0.7 3.2 0.8 2.9 0.8 3.2 1 2.8 1 3 1.1 3.1 1.1 3 1.2 2.9 1.2 3.8 1.6 3.9 1.7 3.5 1.6M111.5 62.5l3.9 0.7 4.5 1 2.5 0.7 2.7 0.7 2.9 0.8 3 0.9 3.1 1 3.2 1 3.1 1 3 1 2.9 1.1 3 1.1 3 1.1 3 1.2 3 1.2 3 1.2 2.9 1.2 3 1.1 2.9 1.2 2.9 1.1 2.8 1.1 2.9 1.2 2.8 1.1 2.9 1.1 2.8 1 2.8 1.1 3.1 1.1 3.2 1 3.1 1 3.1 1 3.1 1 3 1 3.1 1.1 3.2 1 3.1 1.2 3.1 1.1 3.1 1.1 3.1 1.1 3.1 1.1 3.2 0.9 3.1 0.9 3.1 0.8 3.1 0.8 3.1 0.7 3.1 0.6 3.1 0.7 3.1 0.6 3.1 0.7 3.1 0.6 3.1 0.5 3.1 0.6 3.2 0.5 3.1 0.5 3.2 0.5 3.2 0.5 3.2 0.6 3.3 0.5 3.3 0.5 3.3 0.5 3.2 0.5 3.2 0.4 3.2 0.5 3.1 0.4 3.2 0.5 3.1 0.4 3.1 0.4 3.1 0.4 3.1 0.4 3.1 0.5 3.2 0.4 3.1 0.4 3.2 0.4 3.1 0.4 3.1 0.3 3.2 0.4 3.1 0.4 3.1 0.3 3.1 0.4 3.1 0.3 3.1 0.4 3.2 0.3 3.1 0.4 3.1 0.3 3.1 0.3 3.1 0.2 3.1 0.3 3.1 0.3 3.1 0.3 3.2 0.4 3.2 0.3 3.3 0.4 3.3 0.4 3.3 0.5 3.2 0.4 3 0.4 2.6 0.4 3.8 0.8 3.1 0.8 2.8 0.8 3.2 1 2.9 0.9 3 1 3 1 3.1 1.1 3 1 3.9 1.4 4 1.4M115.5 62.9l4.5 0.9 2.5 0.6 2.7 0.7 2.9 0.8 3.1 0.9 3.1 1 3.1 1 3.1 1 3 1.1 3 1.2 2.9 1.2 2.9 1.2 3 1.4 2.9 1.3 3 1.3 2.9 1.3 2.9 1.2 2.9 1.2 2.8 1.2 2.9 1.2 2.8 1.2 2.9 1.1 2.8 1.1 2.8 1.1 2.8 0.9 3.2 1.1 3.2 1 3.1 0.9 3.2 0.9 3.1 0.8 3.1 0.9 3.2 0.9 3.1 1 3.2 0.9 3.1 1 3.2 1 3.2 1 3.1 0.9 3.1 0.8 3.1 0.8 3.2 0.8 3.1 0.7 3.1 0.6 3.1 0.7 3.1 0.6 3.1 0.7 3.1 0.7 3.1 0.6 3 0.6 3.1 0.7 3.1 0.6 3.1 0.6 3.2 0.6 3.2 0.6 3.2 0.7 3.3 0.6 3.2 0.6 3.3 0.6 3.2 0.6 3.2 0.5 3.2 0.5 3.1 0.5 3.2 0.5 3.1 0.4 3.1 0.4 3.1 0.5 3.1 0.4 3.1 0.4 3.2 0.4 3.1 0.4 3.1 0.4 3.2 0.4 3.1 0.4 3.1 0.3 3.2 0.4 3.1 0.4 3.1 0.4 3.1 0.4 3.1 0.4 3.1 0.4 3.1 0.4 3.1 0.4 3.1 0.4 3.1 0.3 3.1 0.4 3.1 0.5 3.1 0.4 3.1 0.5 3.2 0.5 3.3 0.5 3.3 0.6 3.3 0.6 3.1 0.5 2.9 0.6 2.6 0.5 3.7 0.8 3 0.8 2.8 0.8 3.1 1 2.9 0.8 3 0.9 3.1 0.9 3.1 1 3 0.8 4 1.2 4.1 1.2 3.6 1M111.5 62.4l4 0.7 4.4 1 2.5 0.6 2.7 0.8 2.9 0.9 3.1 0.9 3.1 1 3.1 1 3 1.1 3 1.1 3 1.1 2.9 1.2 2.9 1.2 3 1.3 2.9 1.3 3 1.3 2.9 1.3 2.9 1.2 2.9 1.2 2.8 1.2 2.9 1.2 2.8 1.2 2.9 1.2 2.8 1.1 2.8 1.1 2.8 1.1 3.2 1.1 3.1 1 3.2 1 3.1 1 3.1 0.9 3.1 0.9 3.1 1 3.1 1 3.2 1 3.1 1 3.2 1.1 3.2 0.9 3.1 1 3.2 0.8 3.1 0.8 3.2 0.6 3.1 0.7 3.2 0.6 3.1 0.5 3.1 0.6 3.1 0.5 3.2 0.6 3.1 0.5 3.1 0.5 3.1 0.4 3.1 0.5 3.1 0.5 3.2 0.5 3.2 0.5 3.3 0.5 3.3 0.5 3.2 0.6 3.3 0.5 3.3 0.5 3.2 0.5 3.1 0.5 3.2 0.5 3.1 0.5 3.1 0.4 3.1 0.5 3.1 0.5 3.1 0.5 3.1 0.5 3.1 0.5 3.2 0.5 3.1 0.5 3.1 0.5 3.1 0.4 3.1 0.5 3.1 0.5 3.2 0.5 3.1 0.5 3.1 0.4 3.1 0.5 3.1 0.4 3.1 0.5 3.1 0.4 3.1 0.5 3.1 0.4 3.1 0.4 3.1 0.4 3.1 0.5 3.1 0.4 3.1 0.5 3.3 0.6 3.3 0.5 3.3 0.6 3.1 0.6 2.9 0.5 2.6 0.6 3.7 0.7 2.9 0.8 2.8 0.8 3.1 1 2.9 0.8 3 0.9 3.1 0.9 3.1 1 3 0.8 3.9 1.2 4.1 1.2 3.7 1.1M111.5 62.7l3.9 0.7 4.5 1.1 2.4 0.6 2.7 0.8 2.9 0.8 3.1 0.9 3.1 1 3.1 1 3.1 1 3 1 2.9 1.1 3 1.1 3 1.2 2.9 1.2 3 1.2 3 1.2 3 1.2 2.9 1.2 2.9 1.1 2.9 1.2 2.8 1.1 2.9 1.2 2.8 1.1 2.9 1.1 2.8 1.1 2.8 1 3.2 1.1 3.1 1.1 3.1 1 3.1 0.9 3.1 1 3.1 1 3.1 1 3.1 1.1 3.1 1.1 3.1 1.1 3.2 1.1 3.1 1.1 3.1 1 3.2 0.9 3.1 0.9 3.1 0.8 3.1 0.7 3.2 0.7 3.1 0.7 3.1 0.7 3.1 0.6 3.1 0.7 3.1 0.6 3.1 0.6 3.1 0.6 3.1 0.5 3.1 0.6 3.2 0.6 3.2 0.6 3.2 0.6 3.3 0.6 3.2 0.6 3.3 0.6 3.2 0.5 3.2 0.6 3.2 0.6 3.1 0.6 3.1 0.6 3.1 0.6 3.1 0.6 3.1 0.5 3.1 0.6 3.1 0.5 3.1 0.5 3.1 0.6 3.2 0.5 3.1 0.5 3.1 0.4 3.2 0.5 3.1 0.4 3.1 0.4 3.2 0.4 3.1 0.3 3.1 0.4 3.1 0.3 3.1 0.3 3.2 0.3 3.1 0.3 3.1 0.3 3.1 0.2 3.1 0.3 3.1 0.3 3.1 0.3 3.2 0.4 3.3 0.3 3.4 0.4 3.2 0.5 3.2 0.4 2.9 0.4 2.6 0.5 3.7 0.6 3 0.7 2.8 0.7 3.1 0.9 2.9 0.7 3.1 0.9 3.1 0.9 3.1 0.9 3 0.9 3.9 1.2 4.1 1.3M111.5 62.7l3.9 0.7 4.4 1.1 2.5 0.7 2.7 0.7 2.9 0.9 3 0.9 3.1 1 3.1 1.1 3.1 1.1 3 1.1 2.9 1.1 2.9 1.2 3 1.2 2.9 1.3 3 1.3 2.9 1.2 2.9 1.3 2.9 1.2 2.9 1.2 2.9 1.2 2.9 1.1 2.8 1.2 2.9 1.2 2.8 1.1 2.8 1 2.8 1.1 3.2 1.1 3.2 1 3.1 1 3.1 0.9 3.2 0.9 3.1 0.9 3.1 1 3.1 1 3.2 1 3.1 1 3.2 1 3.1 1 3.2 0.9 3.2 0.8 3.1 0.8 3.2 0.7 3.1 0.6 3.1 0.6 3.2 0.6 3.1 0.5 3.1 0.6 3.1 0.6 3.1 0.5 3.1 0.5 3.1 0.5 3.2 0.6 3.1 0.5 3.2 0.5 3.2 0.6 3.2 0.6 3.3 0.6 3.2 0.6 3.3 0.6 3.2 0.5 3.2 0.6 3.2 0.7 3.1 0.6 3.1 0.7 3 0.6 3.1 0.7 3.1 0.6 3.1 0.7 3.1 0.6 3.1 0.7 3.1 0.7 3.1 0.6 3.1 0.7 3.1 0.6 3.1 0.6 3.1 0.6 3.1 0.6 3.1 0.5 3.2 0.5 3.1 0.5 3.1 0.6 3.1 0.5 3.1 0.4 3.1 0.4 3.1 0.4 3.1 0.4 3.1 0.4 3.1 0.4 3.1 0.5 3.1 0.4 3.3 0.4 3.3 0.5 3.3 0.5 3.1 0.4 2.9 0.5 2.5 0.4 3.6 0.6 2.9 0.5 2.8 0.6 3.1 0.8 3 0.6 3 0.6 3.2 0.7 3.1 0.7 3.1 0.7 4.1 0.9 4.2 0.9"/>
<path id="a_br_d1" d="M111.6 62l3.9 0.6 4.6 0.9 2.5 0.6 2.7 0.7 2.9 0.8 3.1 0.8 3.2 0.9 3.1 0.9 3.2 0.9 3 0.9 3 1 3.1 1.1 3 1.1 3 1.1 3.1 1.1 3 1.1 3 1.1 2.9 1.1 2.9 1.1 2.9 1.1 2.9 1.1 2.9 1.1 2.8 1.1 2.9 1.1 2.7 1 2.8 1 3.1 1.1 3.2 1.1 3 1 3.1 1 3.1 1 3.1 1 3.1 1 3.1 1.2 3.1 1.1 3.1 1.2 3.1 1.1 3.1 1.1 3.1 1.1 3.1 1 3 0.9 3.1 0.8 3.1 0.8 3.1 0.7 3.1 0.7 3.1 0.7 3.1 0.7 3.1 0.6 3.1 0.6 3 0.5 3.1 0.6 3.1 0.5 3.2 0.5 3.2 0.5 3.2 0.5 3.2 0.5 3.3 0.5 3.3 0.5 3.3 0.5 3.2 0.5 3.2 0.4 3.2 0.4 3.2 0.3 3.1 0.3 3.1 0.4 3.1 0.3 3.2 0.4 3.1 0.3 3.1 0.4 3.2 0.3 3.1 0.4 3.1 0.4 3.2 0.4 3.1 0.4 3.1 0.3 3.1 0.4 3.1 0.4 3.1 0.4 3.1 0.4 3.1 0.4 3.1 0.4 3.1 0.3 3.1 0.4 3.1 0.3 3.1 0.3 3.1 0.3 3.1 0.3 3.2 0.4 3.1 0.3 3.2 0.4 3.3 0.4 3.4 0.4 3.3 0.4 3.2 0.5 3 0.4 2.7 0.4 3.9 0.9 3.1 0.8 2.9 0.9 3.1 1 2.9 1 3 1.1 3.1 1.2 3 1.1 2.9 1.2 3.9 1.4 4 1.6 3.5 1.4M115.5 63.1l4.4 1 2.5 0.7 2.7 0.7 2.9 0.9 3 0.9 3.2 1 3.1 1 3.1 1 3 1.1 2.9 1 3 1.2 3 1.1 3 1.2 3 1.2 3 1.1 2.9 1.2 3 1.1 2.9 1.1 2.9 1.1 2.9 1.1 2.9 1.1 2.8 1 2.9 1.1 2.8 1 2.8 1 3.2 1 3.1 1 3.2 1 3.1 0.9 3.1 1 3.1 0.9 3.1 1 3.1 1.1 3.1 1.1 3.1 1.1 3.2 1.1 3.1 1.1 3.1 1.1 3.1 0.9 3.1 0.9 3.1 0.8 3.1 0.7 3.1 0.8 3.1 0.6 3.1 0.7 3.1 0.6 3.1 0.6 3.1 0.6 3.1 0.5 3.1 0.6 3.1 0.5 3.2 0.4 3.1 0.5 3.2 0.5 3.3 0.5 3.3 0.5 3.3 0.4 3.3 0.5 3.2 0.4 3.2 0.5 3.2 0.3 3.2 0.3 3.1 0.4 3.1 0.3 3.2 0.4 3.1 0.3 3.1 0.3 3.1 0.4 3.2 0.3 3.1 0.4 3.2 0.3 3.1 0.4 3.1 0.4 3.2 0.3 3.1 0.4 3.1 0.4 3.1 0.3 3.1 0.4 3.1 0.3 3.1 0.3 3.1 0.4 3.1 0.3 3.1 0.3 3.1 0.2 3.1 0.3 3.1 0.2 3.2 0.3 3.1 0.3 3.3 0.3 3.3 0.4 3.3 0.3 3.4 0.4 3.2 0.4 3 0.3 2.7 0.4 3.9 0.9 3.2 0.8 2.9 0.9 3.1 1 2.9 1.1 3 1.1 3 1.2 3.1 1.2 2.9 1.1 3.8 1.6 4 1.6M108.3 61.7l3.2 0.4 4 0.6 4.5 1 2.5 0.7 2.7 0.7 2.9 0.8 3.1 0.9 3.1 1 3.2 0.9 3.1 1 3 1 3 1 3 1.1 3 1.1 3 1.2 3 1.1 3 1.1 3 1.2 3 1.1 2.9 1.1 2.9 1.1 2.9 1.1 2.8 1.1 2.9 1.1 2.8 1.1 2.8 1.1 2.7 1.1 3.2 1.1 3.1 1.1 3.1 1.1 3 1 3.1 1.1 3.1 1 3.1 1.1 3.1 1.2 3 1.1 3.1 1.2 3.1 1.2 3.2 1.1 3.1 1 3.1 1 3.1 0.9 3.1 0.7 3.1 0.7 3.1 0.7 3.1 0.6 3.2 0.6 3.1 0.5 3.1 0.6 3.1 0.5 3.1 0.4 3.1 0.5 3.2 0.4 3.1 0.5 3.2 0.5 3.2 0.5 3.3 0.5 3.2 0.5 3.3 0.5 3.3 0.6 3.2 0.5 3.2 0.6 3.2 0.5 3.1 0.6 3.1 0.5 3.1 0.6 3.1 0.6 3.1 0.5 3.1 0.6 3.1 0.5 3.1 0.6 3.1 0.5 3.1 0.5 3.1 0.5 3.2 0.5 3.1 0.4 3.1 0.5 3.1 0.3 3.1 0.4 3.2 0.3 3.1 0.3 3.1 0.3 3.1 0.3 3.1 0.2 3.2 0.2 3.1 0.2 3.1 0.1 3.1 0.2 3.2 0.2 3.1 0.3 3.2 0.3 3.3 0.3 3.4 0.3 3.3 0.4 3.2 0.4 2.9 0.5 2.7 0.4 3.8 0.9 3.1 0.8 2.8 0.9 3.2 1 2.8 1 3 1.1 3 1.2 3.1 1.1 2.9 1.2 3.8 1.4 4 1.6M108.3 62.1l3.2 0.4 4 0.6 4.5 0.8 2.5 0.6 2.7 0.7 2.9 0.7 3.1 0.8 3.2 0.9 3.1 0.9 3.2 0.9 3 0.9 3 1 3 1.1 3.1 1.1 3 1.2 3 1.1 3 1.2 2.9 1.2 3 1.1 2.9 1.1 2.9 1.2 2.8 1.1 2.9 1.2 2.8 1.1 2.8 1.1 2.8 1.1 2.8 1 3.1 1.1 3.2 1.1 3 1 3.1 1 3.1 1 3.1 1 3.1 1.1 3.1 1.1 3.1 1.1 3.1 1.2 3.1 1.2 3.1 1.1 3.1 1 3.1 1 3.1 0.9 3.1 0.9 3.1 0.8 3.1 0.7 3.1 0.8 3.1 0.7 3 0.7 3.1 0.6 3.1 0.7 3.1 0.6 3.1 0.6 3.1 0.6 3.1 0.6 3.2 0.6 3.2 0.5 3.2 0.6 3.3 0.6 3.3 0.6 3.2 0.6 3.3 0.5 3.2 0.6 3.1 0.6 3.1 0.5 3.2 0.6 3 0.5 3.1 0.6 3.1 0.5 3.1 0.5 3.2 0.5 3.1 0.5 3.1 0.5 3.1 0.5 3.2 0.5 3.1 0.4 3.1 0.4 3.2 0.4 3.1 0.3 3.1 0.3 3.1 0.4 3.2 0.2 3.1 0.3 3.1 0.2 3.2 0.3 3.1 0.1 3.1 0.2 3.1 0.1 3.2 0.2 3.1 0.2 3.1 0.2 3.2 0.2 3.4 0.2 3.3 0.3 3.3 0.3 3.2 0.2 3 0.4 2.7 0.3 3.9 0.7 3.1 0.7 2.8 0.8 3.2 0.9 2.9 0.9 3 1 3.1 1.1 3 1.1 2.9 1.1 3.9 1.5 4 1.6 3.5 1.4M111.5 62.3l4 0.6 4.5 0.9 2.5 0.6 2.7 0.7 2.9 0.8 3.1 0.9 3.1 0.9 3.2 1 3.1 1 3 1 2.9 1.1 3 1.1 3 1.2 3 1.2 3 1.2 3 1.3 2.9 1.2 2.9 1.1 2.9 1.2 2.9 1.2 2.9 1.1 2.8 1.2 2.8 1.1 2.9 1.1 2.8 1.1 2.7 1.1 3.2 1.1 3.1 1 3.1 1.1 3.1 1 3.1 0.9 3.1 1 3.1 1.1 3.1 1 3.1 1.1 3.2 1.2 3.1 1.1 3.1 1 3.1 1.1 3.1 0.9 3.2 0.9 3.1 0.7 3.1 0.8 3.1 0.7 3.1 0.6 3.1 0.7 3.1 0.6 3.1 0.7 3.1 0.6 3.1 0.6 3.1 0.6 3.1 0.5 3.1 0.6 3.2 0.6 3.2 0.6 3.2 0.6 3.3 0.6 3.2 0.6 3.3 0.6 3.2 0.6 3.2 0.6 3.2 0.6 3.1 0.6 3.1 0.6 3.1 0.6 3.1 0.5 3.1 0.5 3.1 0.5 3.1 0.5 3.1 0.4 3.2 0.5 3.1 0.4 3.2 0.3 3.1 0.4 3.2 0.3 3.1 0.3 3.1 0.2 3.2 0.2 3.1 0.2 3.2 0.2 3.1 0.2 3.1 0.1 3.1 0.2 3.2 0.1 3.1 0.1 3.1 0.1 3.2 0.1 3.1 0.1 3.2 0.2 3.2 0.3 3.3 0.2 3.4 0.3 3.3 0.3 3.2 0.4 3 0.4 2.7 0.4 3.8 0.8 3.1 0.9 2.9 0.9 3.1 1 2.9 1 3 1.1 3 1.2 3 1.2 2.9 1.1 3.9 1.5 4 1.6 3.5 1.3M111.5 62.6l3.9 0.6 4.5 1 2.5 0.7 2.7 0.7 2.9 0.9 3 0.9 3.1 1 3.2 1 3 1 3 1 3 1.1 2.9 1.2 3 1.2 3 1.2 3 1.2 2.9 1.2 3 1.2 2.9 1.2 2.9 1.2 2.9 1.1 2.9 1.2 2.8 1.1 2.9 1.1 2.8 1.1 2.8 1.1 2.8 1 3.2 1.1 3.2 1 3.1 0.9 3.1 1 3.1 0.9 3.1 1 3.1 0.9 3.2 1 3.1 1.1 3.1 1 3.2 1.1 3.1 1 3.2 1 3.1 0.9 3.1 0.8 3.1 0.7 3.1 0.7 3.2 0.6 3.1 0.7 3.1 0.6 3.1 0.6 3.1 0.6 3.1 0.6 3.1 0.6 3.1 0.6 3.1 0.5 3.1 0.6 3.2 0.6 3.2 0.6 3.2 0.6 3.3 0.6 3.2 0.7 3.3 0.6 3.2 0.6 3.2 0.6 3.1 0.6 3.2 0.7 3 0.6 3.1 0.6 3.1 0.6 3.1 0.6 3.1 0.6 3.1 0.6 3.1 0.6 3.1 0.6 3.1 0.6 3.2 0.6 3.1 0.6 3.1 0.5 3.1 0.5 3.1 0.5 3.1 0.4 3.2 0.5 3.1 0.4 3.1 0.4 3.1 0.4 3.1 0.4 3.2 0.4 3.1 0.3 3.1 0.3 3.1 0.3 3.1 0.4 3.1 0.3 3.1 0.4 3.3 0.4 3.4 0.4 3.2 0.4 3.2 0.4 2.9 0.4 2.5 0.5 3.7 0.5 3 0.7 2.8 0.6 3.2 0.9 2.9 0.6 3 0.8 3.2 0.8 3.1 0.8 3 0.8 4 1 4.2 1.1M108.2 62.2l3.3 0.5 3.9 0.7 4.4 1.1 2.5 0.7 2.7 0.8 2.9 0.8 3 1 3.1 1 3.1 1 3.1 1 3 1 2.9 1.1 3 1.1 3 1.1 3 1.2 3 1.1 3 1.2 3 1.2 2.9 1.1 3 1.1 2.9 1.1 2.8 1.1 2.9 1.1 2.9 1.1 2.8 1.1 2.8 1.1 2.8 1 3.1 1.2 3.2 1.1 3.1 1 3 1.1 3.1 1 3.1 1.1 3 1.1 3.1 1.2 3.1 1.2 3.1 1.2 3.1 1.2 3.1 1.1 3.1 1.1 3.2 1 3.1 0.9 3.1 0.8 3.2 0.7 3.1 0.7 3.1 0.6 3.1 0.6 3.2 0.6 3.1 0.5 3.1 0.5 3.1 0.5 3.2 0.4 3.1 0.5 3.1 0.4 3.2 0.5 3.2 0.5 3.3 0.5 3.3 0.5 3.2 0.5 3.3 0.5 3.3 0.5 3.2 0.6 3.1 0.6 3.1 0.7 3.1 0.7 3.1 0.7 3 0.6 3.1 0.7 3.1 0.7 3.1 0.6 3.1 0.7 3.1 0.6 3.1 0.7 3.1 0.6 3.2 0.5 3.1 0.6 3.1 0.4 3.1 0.5 3.2 0.4 3.1 0.3 3.1 0.3 3.1 0.3 3.2 0.3 3.1 0.2 3.2 0.2 3.1 0.2 3.1 0.2 3.1 0.1 3.1 0.2 3.2 0.2 3.2 0.2 3.3 0.3 3.3 0.3 3.3 0.3 3.2 0.4 2.9 0.4 2.6 0.4 3.7 0.7 3 0.7 2.8 0.8 3.2 0.9 2.8 0.8 3.1 1 3 1 3.1 1 3 1 3.9 1.3 4 1.3M103 61l1.5-1.7 2.5-0.3 2 1.5"/>
<path id="a_br_sp" d="M142.5 42.4l1.5 1.1 1.9 1.5 2.3 1.7 2.5 1.9 2.7 2 2.9 2.2 2.9 2.2 2.8 2.1 2.8 2 2.5 1.9 2.7 2 2.7 2 2.7 1.9 2.6 2 2.7 1.9 2.6 1.9 2.6 1.8 2.6 1.8 2.5 1.7 2.8 1.8 2.7 1.8 2.7 1.7 2.6 1.6 2.7 1.6 2.6 1.6 2.5 1.4 2.6 1.5 3.1 1.7 3.2 1.7 3.3 1.6 3.2 1.6 2.8 1.4 2.4 1.1 1.8 0.9M145 46l1.6 1.3 2.1 1.7 2.5 2.1 2.9 2.3 2.9 2.3 3 2.3 2.3 1.7 2.3 1.8 2.5 1.8 2.6 1.9 2.6 1.9 2.6 1.9 2.6 1.8 2.5 1.7 2.9 1.9 3 1.9 2.9 1.9 3 1.8 2.9 1.7 2.7 1.7 2.6 1.6 3.6 2.2 3.5 2.1 3.2 1.9 2.7 1.6 2 1.2M68.4 87.3l2 0.2 2.7 0.3 3.2 0.4 3.5 0.4 3.6 0.3 3.6 0.1 3.1 0 3.2-0.1 3.4-0.1 3.4-0.2 3.3-0.2 3.4-0.2 3.2-0.2 3-0.2 2.9-0.2 2.8-0.3 2.8-0.2 3-0.2 3.1-0.1 3.4 0 2.9 0.1 3.1 0.1 3.2 0.2 3.4 0.3 3.3 0.2 3.4 0.3 3.4 0.4 3.2 0.3 3.1 0.3 3.3 0.4 3.3 0.4 3.2 0.4 3.2 0.4 3.1 0.5 3 0.4 3 0.5 2.9 0.5 3.4 0.6 3.5 0.7 3.5 0.8 3.3 0.7 2.9 0.7 2.5 0.6 1.9 0.4M116 80.7l2.2 0.4 3 0.5 3.6 0.6 3.7 0.7 3.5 0.6 3.1 0.6 3 0.6 3.1 0.7 3.6 0.7 4.2 0.9 2.5 0.5 2.8 0.6 3 0.6 3.2 0.6 3.3 0.7 3.2 0.7 3.3 0.6 3.1 0.6 2.9 0.6 2.7 0.5 3.7 0.7 3.6 0.6 3.4 0.6 3.2 0.5 2.9 0.4 2.4 0.4 1.8 0.3M316 129.3l2 0.1 2.6 0.1 3.1 0.1 3.4 0.1 3.7 0.1 3.8 0.1 3.7 0.1 3.5 0.2 3.2 0.1 3.3 0.1 3.1 0.1 3 0.2 3 0.1 3 0.1 3.1 0.2 3.2 0.2 3.3 0.2 2.8 0.2 2.9 0.3 2.9 0.2 3 0.3 3.1 0.3 3.1 0.3 3 0.3 3.1 0.3 3.1 0.4 3 0.4 3.1 0.4 3.4 0.6 3.4 0.5 3.5 0.6 3.5 0.6 3.3 0.6 3 0.5 2.7 0.5 2.3 0.4 1.8 0.3M350 134.5l2 0.1 2.7 0.2 3.2 0.2 3.5 0.2 3.7 0.3 3.6 0.2 3.3 0.3 3.1 0.3 3.1 0.2 3.1 0.3 3.1 0.3 3.1 0.3 3 0.3 3.1 0.3 3.3 0.3 3.5 0.3 3.5 0.4 3.4 0.3 3.2 0.3 2.6 0.2 1.9 0.2"/>
<path id="a_pk0_d1" d="M393.4 126.7l3-0.1 4.1 0 2.8 0 3.1 0.2 3.7 0.3 3.1 0.7 3.2 0.8 3.4 0.9 3.5 1.1 3.1 1.2 3.4 1.4 3.3 1.5 2.9 1.2 2 0.9M393.1 128.6l3 0.3 4.1 0.5 2.7 0.3 3.1 0.4 3.4 0.5 2.9 0.8 3.2 0.8 3.3 0.9 3.5 1 3 1 3.5 1.2 3.4 1.2 2.9 1 2.1 0.7M392.9 130.4l2.9 0.6 4 0.8 2.8 0.3 3 0.4 3.3 0.6 2.9 0.5 3.2 0.7 3.3 0.8 3.4 0.8 3.1 0.9 3.5 0.9 3.5 1.1 2.9 0.9 2.1 0.6M392.8 130.9l2.9 0.7 4 0.9 2.8 0.5 2.9 0.5 3.3 0.7 2.8 0.7 3.1 0.7 3.3 0.9 3.4 0.9 3.1 0.8 3.5 1 3.4 1 3 0.8 2.1 0.6"/>
<path id="a_pk0_d2" d="M393.1 128.5l3 0.2 4.1 0.3 2.8 0.1 3.1 0.3 3.5 0.4 3 0.6 3.1 0.7 3.4 0.9 3.5 1 3.1 1 3.5 1.2 3.3 1.2 3 1.1 2 0.7M393.2 128.4l2.9 0.3 4.1 0.5 2.7 0.3 3.1 0.3 3.5 0.6 2.9 0.6 3.2 0.8 3.3 0.9 3.5 1 3.1 1.1 3.4 1.2 3.4 1.2 2.9 1 2.1 0.7M392.8 131l2.9 0.6 4 0.8 2.8 0.4 3 0.4 3.3 0.7 2.8 0.5 3.2 0.7 3.3 0.8 3.4 0.8 3.1 0.9 3.5 1 3.4 1 3 0.9 2.1 0.6"/>
<path id="a_pk_d2" d="M382.3 119l3.4-0.1 3.8 0 3.4 0.3 3.8 1.1 3.7 1.5 3.6 1.6 2.8 1.1 2.8 1.2 2.8 1.2 2.8 1.2 3.7 1.4 3.8 1.4 3.6 1.3 3.8 1.2 3.7 1.1 3.6 1 3.4 0.9 3.4 0.9 3.2 1 3.8 1.9 3.3 2.1 4.8 4.4 3 4.9 1 3.1 0.3 4.1 0.1 2.8 -0.1 3.2 -0.1 3.5 -0.1 3.8 -0.2 3.9 -0.1 3.1 -0.2 3.5 -0.2 3.7 -0.1 3.6 -0.2 3.3 -0.1 2.8M382.3 118.9l3.4-0.1 3.8-0.1 3.4 0.3 4 0.9 3.7 1.4 3.7 1.5 2.8 1.1 2.8 1.3 2.8 1.2 2.7 1.2 3.7 1.6 3.7 1.5 3.6 1.4 3.7 1.3 3.6 1.2 3.6 1.2 3.3 1 3.4 1 3.1 1.1 3.7 2 3.2 2.1 4.6 4.3 2.8 4.8 0.9 2.8 0.3 4 0.1 2.7 -0.1 3.2 0 3.5 -0.1 3.8 -0.1 3.9 -0.1 3.1 -0.1 3.5 -0.1 3.7 -0.1 3.6 -0.1 3.3 -0.1 2.8M385.7 118.9l3.8 0 3.4 0.3 3.9 0.9 3.7 1.5 3.6 1.5 2.8 1.2 2.7 1.3 2.8 1.3 2.7 1.3 3.7 1.7 3.6 1.6 3.7 1.5 3.6 1.3 3.7 1.2 3.6 1.1 3.4 1.1 3.3 0.9 3.1 1 3.7 1.8 3.2 2 4.7 4.1 3 4.6 1 2.7 0.4 4.1 0.2 2.7 0.1 3.2 0.1 3.5 0.1 3.8 0 3.9 0.1 3.1 0 3.5 0 3.7 -0.1 3.6 0 3.4 -0.1 2.8M382.3 119.2l3.4-0.1 3.7 0 3.4 0.4 3.8 1.1 3.6 1.5 3.6 1.7 2.7 1.3 2.8 1.3 2.7 1.4 2.7 1.3 3.6 1.8 3.6 1.8 3.6 1.6 3.6 1.5 3.7 1.4 3.5 1.4 3.4 1.2 3.2 1.1 2.9 1.1 3.5 1.7 2.8 1.8 4.5 3.7 2.7 4.1 0.7 2 0.4 3.7 0.1 2.6 0 3.2 -0.1 3.5 0 3.8 -0.1 3.9 -0.1 3.1 -0.1 3.4 -0.1 3.7 -0.1 3.6 -0.1 3.3 -0.1 2.8M382.3 119.3l3.4 0 3.7 0 3.4 0.3 3.8 1.2 3.5 1.5 3.6 1.7 2.7 1.3 2.7 1.4 2.7 1.5 2.7 1.4 3.5 1.9 3.6 1.9 3.5 1.8 3.7 1.6 3.6 1.6 3.5 1.5 3.3 1.4 3.2 1.2 2.7 1.2 3.3 1.7 2.6 1.6 4.1 3.5 2.5 3.7 0.5 1.5 0.4 3.5 0 2.5 0.1 3.1 -0.1 3.5 0 3.8 0 3.9 -0.1 3 0 3.5 -0.1 3.7 0 3.6 -0.1 3.3M382.3 119.5l3.4-0.1 3.7 0 3.4 0.3 3.8 1.1 3.5 1.5 3.6 1.6 2.7 1.3 2.8 1.4 2.7 1.4 2.7 1.4 3.5 1.8 3.6 1.9 3.6 1.8 3.6 1.6 3.6 1.6 3.5 1.4 3.3 1.4 3.2 1.2 2.7 1.2 3.4 1.8 2.6 1.7 4.1 3.5 2.6 3.8 0.5 1.5 0.4 3.6 0.1 2.5 0 3.1 0 3.5 0 3.8 0 3.9 -0.1 3 -0.1 3.5 -0.1 3.7 -0.1 3.6 -0.1 3.3 -0.1 2.8M382.4 120l3.3 0 3.7 0.2 3.2 0.4 3.5 1.3 3.4 1.8 3.5 1.8 2.7 1.3 2.7 1.4 2.7 1.4 2.7 1.4 3.6 1.9 3.6 1.8 3.7 1.7 3.7 1.5 3.7 1.4 3.5 1.2 3.5 1.2 3.2 1 2.8 0.9 3.5 1.5 2.8 1.4 4.5 3.3 2.8 3.8 0.8 1.8 0.5 3.7 0.2 2.5 0.1 3.2 0.1 3.5 0.1 3.8 0 3.9 0 3.1 -0.1 3.5 -0.1 3.6 0 3.6 -0.1 3.4 -0.1 2.8"/>
<path id="a_pk_d1" d="M382.3 119.1l3.4-0.1 3.7 0.1 3.4 0.4 3.8 1.1 3.6 1.6 3.6 1.7 2.7 1.2 2.7 1.3 2.8 1.4 2.7 1.3 3.7 1.6 3.6 1.7 3.7 1.5 3.7 1.3 3.7 1.2 3.6 1.2 3.4 1 3.3 0.9 3 1 3.7 1.7 3.1 1.9 4.7 3.9 2.9 4.5 0.9 2.5 0.4 3.9 0.2 2.7 0.1 3.2 0 3.5 0.1 3.8 0 3.9 0 3.1 0 3.5 0 3.7 -0.1 3.6 0 3.3 0 2.8M382.3 119l3.4-0.2 3.8 0 3.4 0.4 3.9 1 3.6 1.6 3.6 1.6 2.7 1.3 2.7 1.4 2.7 1.4 2.7 1.4 3.6 1.7 3.6 1.7 3.7 1.6 3.6 1.5 3.7 1.3 3.5 1.2 3.4 1.1 3.3 1 3 1 3.6 1.8 3 1.8 4.6 3.8 2.9 4.3 0.8 2.4 0.5 3.8 0.2 2.7 0.1 3.2 0.1 3.5 0.1 3.8 0 3.9 0.1 3.1 0 3.5 0 3.7 0 3.6 -0.1 3.3 0 2.8M382.3 119.4l3.4 0 3.7 0.2 3.3 0.4 3.7 1.3 3.4 1.7 3.5 1.9 2.7 1.4 2.6 1.4 2.7 1.4 2.7 1.5 3.6 1.8 3.6 1.8 3.6 1.7 3.7 1.6 3.7 1.4 3.6 1.3 3.4 1.1 3.2 1 2.8 1 3.5 1.5 2.8 1.6 4.4 3.4 2.9 3.8 0.7 1.8 0.5 3.7 0.2 2.5 0.1 3.2 0.1 3.5 0.1 3.8 0 3.9 0 3.1 0 3.5 -0.1 3.6 0 3.6 -0.1 3.4 -0.1 2.8M382.3 119.1l3.4-0.1 3.7 0 3.4 0.4 3.8 1.2 3.6 1.6 3.5 1.7 2.7 1.4 2.7 1.4 2.7 1.4 2.7 1.4 3.6 1.8 3.6 1.7 3.7 1.6 3.6 1.5 3.7 1.3 3.6 1.2 3.4 1.1 3.3 1 2.9 1 3.6 1.7 2.9 1.7 4.6 3.7 2.9 4.1 0.8 2.3 0.5 3.8 0.2 2.6 0.1 3.2 0.1 3.5 0 3.8 0 3.9 -0.1 3.1 -0.1 3.5 -0.1 3.7 -0.1 3.6 -0.2 3.3 -0.1 2.8M382.3 119.2l3.4-0.1 3.7 0.1 3.4 0.4 3.7 1.2 3.5 1.7 3.5 1.8 2.7 1.4 2.7 1.5 2.7 1.4 2.6 1.5 3.6 1.8 3.6 1.8 3.6 1.7 3.7 1.5 3.7 1.4 3.6 1.3 3.4 1.2 3.2 1 2.8 1 3.5 1.6 2.9 1.6 4.4 3.5 2.8 3.9 0.8 2 0.5 3.7 0.1 2.5 0 3.2 0 3.5 0 3.8 -0.1 3.9 -0.2 3.1 -0.1 3.4 -0.3 3.7 -0.2 3.6 -0.2 3.3 -0.2 2.8M382.4 119.9l3.3 0 3.7 0.3 3.2 0.5 3.5 1.3 3.3 1.8 3.5 1.9 2.7 1.4 2.6 1.4 2.7 1.4 2.7 1.4 3.6 1.8 3.7 1.8 3.6 1.7 3.8 1.6 3.7 1.4 3.5 1.3 3.5 1.1 3.2 1.1 2.7 1 3.4 1.4 2.8 1.4 4.4 3.3 2.7 3.7 0.6 1.6 0.5 3.6 0.1 2.6 0 3.1 0 3.5 -0.1 3.8 -0.1 3.9 0 3 -0.2 3.5 -0.1 3.7 -0.1 3.6 -0.1 3.3M457 194l-0.3 2.3 -0.4 3.3 -0.4 3.8 -0.4 3.9 -0.4 3.7 -0.3 3.7 -0.3 3.9 -0.3 3.8 -0.2 3.3 -0.2 2.3M458.1 194l-0.1 1.9 -0.2 2.5 -0.1 3 -0.2 3.3 -0.2 3.5 -0.2 3.6 -0.2 3.5 -0.2 3.2 -0.2 3.2 -0.1 3.5 -0.2 3.6 -0.2 3.5 -0.1 3.3 -0.2 3 -0.1 2.5 -0.1 1.9M459.2 194l-0.1 2 -0.1 2.7 -0.2 3.2 -0.2 3.5 -0.2 3.7 -0.2 3.6 -0.1 3.3 -0.2 3.3 -0.2 3.6 -0.1 3.7 -0.2 3.5 -0.2 3.2 -0.1 2.7 -0.1 2M460.3 194l0 1.9 -0.1 2.5 0 3.1 -0.1 3.3 0 3.6 -0.1 3.6 -0.1 3.5 -0.1 3.3 -0.1 3.2 -0.2 3.5 -0.1 3.6 -0.2 3.6 -0.2 3.3 -0.2 3.1 -0.1 2.5 -0.1 1.9M461.4 194l0 2.1 -0.1 2.8 -0.1 3.4 0 3.7 -0.1 3.6 -0.1 3.4 -0.2 3.4 -0.2 3.6 -0.1 3.7 -0.2 3.4 -0.2 2.8 -0.1 2.1M462.5 194l0 1.9 -0.1 2.5 0 3 0 3.3 -0.1 3.5 -0.1 3.6 0 3.5 -0.1 3.2 0 3.2 -0.1 3.5 -0.1 3.6 -0.1 3.5 -0.1 3.3 -0.1 3 -0.1 2.5 0 1.9M463.6 194l-0.1 2.2 -0.2 3 -0.1 3.6 -0.2 3.7 -0.1 3.5 0 3.5 0 3.7 0 3.6 0.1 3 0 2.2M455 190l-0.3 2 -0.4 2.8 -0.4 3.3 -0.4 3.5 -0.2 3.4 -0.1 3.5 0.1 4 0.1 3.8 0.1 3.4 0.1 2.3"/>
<path id="a_k_n2" d="M234 15.7l1.4 1.2 1.7 1.5 1.9 1.7 2.3 2 2.4 2.1 2.5 2.2 2.7 2.4 2.8 2.4 2.7 2.5 2.8 2.4 2.7 2.4 2.6 2.3 2.5 2.2 2.4 2.2 2.5 2.2 2.5 2.3 2.5 2.4 2.5 2.3 2.5 2.4 2.5 2.3 2.4 2.3 2.4 2.1 2.4 2.1 2.2 2 2.2 1.8 2 1.6 3.7 2.7 3.5 2.2 3.4 2 3.1 1.6 2.7 1.4 2.3 1.2 1.8 0.9M232.7 34.3l1.6 1.1 2.1 1.3 2.5 1.6 2.8 1.9 3 1.9 3.2 2 3.1 2.1 3.2 2 3 2 2.8 1.8 2.6 1.7 2.6 1.7 2.6 1.7 2.5 1.7 2.5 1.7 2.5 1.7 2.6 1.6 2.6 1.6 2.7 1.6 2.8 1.6 2.7 1.4 3 1.5 3.1 1.6 3.2 1.5 3.3 1.5 3.1 1.5 3.1 1.3 2.8 1.3 2.4 1.1 2.2 0.9 1.6 0.8M301.4 22.3l-0.3 2.1 -0.3 2.8 -0.4 3.3 -0.5 3.7 -0.5 3.8 -0.5 3.6 -0.4 3.4 -0.5 3.2 -0.6 3.3 -0.6 3.2 -0.5 3.2 -0.5 3 -0.3 2.7 0 2.4 1.1 4.2 2 2.9 1.4 1.9M316.5 83l2.1-0.3 3-0.5 3.5-0.5 3.9-0.6 3.8-0.7 3.6-0.6 3.2-0.5 3.8-0.7 3.5-0.7 3.2-0.7 3-0.6 2.9-0.6 3.3-0.4 3-0.1 2.9-0.4 2.8-1.1 2.3-1.7 2.2-2.2 2.3-2.4 2.1-2.5 2.1-2.2 2.7-2.5 2.7-2.4 2.4-2.1 1.7-1.5M383 60l3.2-1.8 3.8-1.7 5.5 1.5M286 78l-1.3 1.5 -1.9 2.1 -2.1 2.5 -2.4 2.7 -2.5 2.7 -2.5 2.7 -2.3 2.3 -2.6 2.5 -2.8 2.4 -2.7 2.3 -2.8 2.2 -2.6 2.1 -2.5 2 -3 2.2 -3 2.2 -2.9 1.9 -2.4 1.5 -1.7 1.2M316.5 83l-0.9 2.5 -1.6 4.5 -0.8 2.6 -0.8 3.1 -1 3.4 -1.1 3.4 -1.3 3 -1.6 2.8 -1.8 2.8 -2 2.6 -1.9 2.3 -1.7 2 -4.1 3.3 -2.9 1.7M316.5 83l1.8 1.6 2.5 2.5 2.8 3.9 1.2 2.2 1.3 2.6 1.4 2.9 1.3 3.1 1.4 3.1 1.3 3.1 1.2 3 1.1 3 1.1 3.1 1.1 3.2 1 3 1 2.9 1 2.6 1 2.2 2.6 3.6 2.6 2.1 1.8 1.3M444.5 160.4l3 0 3.1 0 3 0M492 116.4l3.6 1.4 4.4 2.2 1.8 1.9 1.6 2.2 2.6 2.9 2.2 2 2.7 2.4 3 2.5 2.9 2.5 2.5 2.1 1.7 1.5M502.7 143.6l2.6 1.4 3.8 2 3.9 2 3.1 1.5 3.3 1.6 3 1.4 2.1 1"/>
<path id="a_k_n1" d="M239 36.8l1.6 1.1 2 1.4 2.3 1.7 2.7 1.8 2.8 2 3 2.1 3.1 2.2 2.9 2 2.9 2 2.7 1.9 2.7 1.8 2.8 1.9 2.9 2 2.9 2 2.8 1.9 2.7 1.9 2.6 1.7 2.2 1.5 1.9 1.3 1.5 1M145.5 107l1.7-0.5 2-0.5 2.3-0.6 2.5-0.8 2.8-0.7 3-0.9 3.2-0.8 3.3-0.9 3.4-1 3.4-0.9 3.5-0.9 3.4-0.9 3.4-0.9 3.4-0.9 3.2-0.8 2.8-0.7 2.8-0.7 2.9-0.7 2.9-0.7 2.9-0.8 2.9-0.7 2.9-0.7 3-0.7 3-0.7 3-0.7 3-0.7 3-0.7 3-0.6 2.9-0.6 3-0.6 3-0.6 3-0.5 3-0.5 3.1-0.5 3.2-0.5 3.2-0.5 3.2-0.5 3.3-0.5 3.2-0.5 3.2-0.4 3.2-0.4 3.2-0.4 3-0.3 3-0.3 2.9-0.3 2.8-0.2 2.7-0.1 2.5-0.2 2.3 0 4.6 0.2 4.2 0.5 3.8 0.8 3.3 0.9 3 0.9 2.6 0.9 2.2 0.8 1.8 0.5M150.7 43.5l1.4 1.1 1.9 1.4 2.2 1.7 2.4 1.9 2.7 2 2.8 2.1 2.8 2.2 2.8 2.1 2.7 2.1 2.6 1.9 2.5 1.9 2.6 1.9 2.7 2 2.6 2 2.7 2 2.6 1.9 2.5 1.9 2.5 1.7 2.2 1.7 2.1 1.5 3.8 2.7 3.5 2.5 3 2.1 2.5 1.7 1.8 1.3M155 47l1.5 0.8 2 1.1 2.2 1.2 2.5 1.3 2.7 1.5 2.9 1.6 3 1.6 3.1 1.7 3.2 1.7 3.1 1.7 3.1 1.7 2.9 1.6 2.8 1.5 2.8 1.5 2.9 1.7 3.1 1.7 3.1 1.7 3.2 1.8 3.1 1.7 3 1.7 2.9 1.6 2.7 1.5 2.5 1.4 2.2 1.3 2 1 1.5 0.9M338 143.6l1.7-0.3 2.4-0.4 3.4-0.6 4.5-0.8 2.2-0.4 2.4-0.4 2.7-0.5 2.8-0.5 3-0.5 3.1-0.6 3.3-0.6 3.4-0.6 3.5-0.7 3.6-0.7 2.8-0.6 3-0.6 3.3-0.7 3.5-0.7 3.6-0.7 3.6-0.8 3.6-0.7 3.5-0.8 3.4-0.7 3.2-0.7 2.9-0.6 2.6-0.6 2.2-0.4 1.8-0.4M368 241.8l1.4-1 1.7-1.2 1.9-1.4 2.2-1.6 2.4-1.7 2.6-1.9 2.7-1.9 2.8-2 2.8-2 2.9-2.1 2.9-2 2.9-2 2.8-2 2.3-1.6 2.4-1.6 2.5-1.7 2.5-1.7 2.6-1.8 2.6-1.8 2.6-1.8 2.7-1.7 2.6-1.8 2.7-1.8 2.5-1.7 2.6-1.7 2.5-1.7 2.4-1.6 2.3-1.5 2.2-1.5 3.2-2.1 3.1-2.1 3.2-2.1 3.1-2 3-1.9 2.8-1.9 2.7-1.7 2.4-1.6 2.1-1.4 1.9-1.2 1.5-1M462.7 167.3l1.8 1.4 2.7 2.1 2.8 2.2 3.2 2.5 3.4 2.6 2.4 1.9M330 87l1.6 0.4 2 0.4 2.2 0.5 2.5 0.5 2.7 0.6 3 0.6 3 0.7 3.2 0.7 3.3 0.7 3.4 0.8 3.4 0.7 3.5 0.8 3.4 0.7 3.3 0.8 3.3 0.7 3.2 0.7 3 0.7 2.9 0.7 2.9 0.6 2.9 0.7 2.9 0.6 2.8 0.7 2.8 0.6 2.9 0.7 2.8 0.6 2.9 0.7 2.9 0.7 2.9 0.7 3 0.7 2.9 0.7 3.1 0.8 3.1 0.8 3.1 0.8 3.2 0.9 2.8 0.8 3.1 0.8 3.1 0.9 3.3 1 3.4 1 3.5 1 3.4 1.1 3.6 1 3.5 1.1 3.4 1.1 3.4 1 3.3 1 3.2 1 3.1 0.9 2.9 0.9 2.7 0.9 2.5 0.7 2.2 0.7 1.9 0.6 1.7 0.5M315 82l1.8 0.3 2.3 0.4 2.8 0.4 3.1 0.5 3.3 0.6 3.5 0.5 3.5 0.6 3.4 0.5 3.3 0.4 3 0.3 3.3 0.3 3.4 0.2 3.5 0.1 3.5 0.1 3.3 0.1 3.1 0.1 2.8 0 2.3 0.1 1.8 0"/>
<path id="a_k_n3" d="M296 48l-0.2 2.2 -0.4 3.1 -0.3 3.5 -0.1 3.2 0.4 4.1 0.6 4.1 0.5 2.8M366 72.5l2 4.5 2 5M309.5 71l1-3.5 3-2 3.7-1.1 3.3-0.9M151 43l2.5 2 3.5 1M293 123l0.5 3.5 2.9 0M347 138l-4 4 -5 1M318 131l2 2.5 -2 0.5M402.7 105.5l-1.7 4.5 3.5 4.5M409.4 149l3 0 3.6-0.5 4-3.5 1-3M436.4 191l2.8-0.7 4-1.1 4.1-1.6 3.1-2 3.4-2.5 3.1-2.4 2.1-1.7M443.6 196.4l3-1.5 3.1-1.6 3-1.5"/>
<path id="c_b_c1" d="M13.8 693.2l5.2 0 6.2-0.1 6.9 0.1 7.1 0.2 4.6 0 4.7 0 5 0.1 5.1 0.1 5.3 0.1 5.4 0.2 5.6 0.2 5.7 0.3 4.7 0.3 4.9 0.4 5.1 0.3 5.1 0.4 5.2 0.4 5.3 0.4 5.2 0.4 5.1 0.5 5.1 0.4 4.9 0.5 5.1 1 5 0.8 5 0.9 4.9 0.9 5 0.9 4.9 1 5 1.1 5.1 1.3 5.1 1.3 5.2 1.4 5.1 1.6 5.1 1.7 5 1.7 5 1.9 5 1.8 5.1 1.8 5.1 1.8 5.4 1.8 4.5 1.4 4.8 1.5 4.9 1.5 5.1 1.5 5.1 1.6 5.1 1.5 5.1 1.5 5.1 1.6 4.9 1.5 4.9 1.4 4.6 1.5 5.5 1.7 5.5 1.6 5.4 1.7 5.2 1.5 5.2 1.6 5 1.5 4.8 1.4 4.5 1.3 4.4 1.3 5.7 1.5 4.9 1.3 4.3 1.1 4.4 1.2 5 1.3 6 1.5 4.3 1 4.5 1.2 4.9 1.2 5.1 1.2 5.2 1.3 5.4 1.3 5.4 1.4 5.4 1.3 5.2 1.4 5.2 1.3 5 1.3 5.1 1.4 5 1.4 5 1.4 5.1 1.4 5 1.5 5 1.5 5 1.5 4.9 1.5 5 1.6 5 1.5 5 1.7 4.9 1.6 5 1.6 4.9 1.7 4.9 1.6 5 1.7 4.9 1.6 4.9 1.6 4.9 1.6 5.2 1.6 5.5 1.8 5.7 1.7 5.8 1.7 5.7 1.7 5.4 1.5 5.1 1.4 4.5 1.3 3.8 1 3 0.8M25.2 697.7l6.8-0.3 7.1-0.4 4.5-0.3 4.8-0.4 4.9-0.3 5.2-0.4 5.3-0.4 5.5-0.2 5.6-0.2 5.7-0.1 4.7 0 5 0.2 5 0.2 5.2 0.4 5.2 0.5 5.2 0.6 5.2 0.7 5.1 0.7 5 0.9 4.8 0.8 5.1 1.4 5 1.3 4.9 1.2 4.8 1.2 4.9 1.2 4.8 1.2 4.9 1.3 4.9 1.4 5 1.5 5.1 1.5 4.9 1.7 5 1.8 4.9 1.8 4.9 1.9 5 1.9 5.1 1.9 5.2 1.9 5.4 1.8 4.7 1.4 4.8 1.4 5 1.4 5.1 1.3 5.2 1.3 5.2 1.3 5.2 1.2 5.2 1.1 5.1 1 4.9 1.1 4.8 0.9 5.7 1.1 5.6 1.1 5.5 1.2 5.4 1.1 5.3 1.1 5.1 1.2 4.8 1.3 4.6 1.2 4.4 1.3 5.7 1.7 4.7 1.5 4.3 1.5 4.3 1.6 4.7 1.9 5.8 2.3 4.1 1.7 4.3 1.8 4.7 2 4.8 2 5.1 2.1 5.1 2.1 5.2 2 5.2 1.9 5.1 1.8 5.1 1.7 5 1.5 5 1.5 5 1.3 5.1 1.3 5.1 1.2 5.1 1.2 5.1 1.1 5.1 1.1 5.1 1.1 5.1 1.1 5.1 1 5.2 1.1 5.1 1.2 5.1 1.1 5.1 1.2 5 1.1 5.1 1.2 5.1 1.2 5 1.2 5.1 1.2 5.2 1.2 5.6 1.3 5.8 1.4 5.9 1.4 5.7 1.5 5.5 1.4 5.1 1.4 4.5 1.2 3.8 1.2 3 0.9M13.8 696.8l5.2 0.1 6.2 0 6.8-0.1 7.1-0.1 4.5-0.2 4.8-0.2 4.9-0.3 5.2-0.2 5.3-0.3 5.4-0.2 5.7-0.1 5.7 0 4.7 0.2 4.9 0.3 5 0.3 5.1 0.5 5.2 0.7 5.2 0.7 5.2 0.8 5.1 0.8 5 0.8 4.8 0.9 5.1 1.1 5 1.1 5 1 4.9 1 4.8 0.9 4.9 1 5 1 4.9 1.2 5.1 1.3 5 1.5 5 1.6 5 1.8 4.9 2 4.9 2 4.9 2.1 5 2.1 5.2 2.1 5.3 2 4.6 1.5 4.8 1.6 5 1.4 5.1 1.4 5.2 1.2 5.2 1.2 5.2 1.1 5.3 1 5.1 1 4.9 0.9 4.8 0.9 5.7 1.2 5.6 1.2 5.5 1.3 5.3 1.4 5.2 1.4 5 1.5 4.7 1.4 4.6 1.5 4.3 1.4 5.7 1.8 4.7 1.4 4.3 1.4 4.4 1.3 4.9 1.5 6 1.7 4.2 1.2 4.5 1.3 4.8 1.3 5.1 1.4 5.2 1.5 5.2 1.6 5.3 1.7 5.3 1.7 5.1 1.8 5 1.9 4.9 1.9 4.9 1.9 4.9 1.9 4.8 1.9 4.9 1.9 4.9 1.9 4.9 1.7 5 1.7 4.9 1.5 5.1 1.5 5 1.3 5.1 1.3 5.1 1.2 5.1 1.1 5.1 1.2 5.1 1.1 5.1 1.1 5 1.1 5.1 1.2 5.1 1.1 5.2 1.3 5.6 1.4 5.8 1.5 5.9 1.4 5.7 1.4 5.5 1.4 5.1 1.1 4.6 1.1 3.9 0.8 3 0.6M10 695.3l3.8 0 5.2 0.1 6.2 0.1 6.9 0.2 7 0.4 4.5 0.2 4.8 0.2 4.9 0.2 5.1 0.2 5.3 0.2 5.4 0.2 5.6 0.3 5.7 0.2 4.7 0.1 4.9 0.2 5 0.2 5.2 0.1 5.2 0.2 5.2 0.2 5.3 0.3 5.1 0.2 5.1 0.4 4.8 0.4 5.2 0.8 5 0.7 5 0.9 4.9 0.9 4.9 1 5 1.1 4.9 1.2 4.9 1.4 5.1 1.5 5 1.7 5 1.7 5 1.9 4.9 2 4.9 1.9 5 2 5.1 1.9 5.2 1.8 5.4 1.7 4.6 1.4 4.8 1.4 5 1.4 5.1 1.4 5.1 1.3 5.2 1.4 5.2 1.5 5 1.4 5 1.4 4.8 1.5 4.7 1.5 5.5 1.7 5.4 1.8 5.3 1.9 5.2 1.8 5.1 1.8 4.9 1.7 4.7 1.6 4.5 1.6 4.3 1.5 5.6 1.8 4.7 1.6 4.3 1.4 4.4 1.3 4.9 1.5 6 1.7 4.2 1.2 4.6 1.3 4.8 1.3 5.1 1.3 5.2 1.4 5.3 1.4 5.4 1.5 5.3 1.5 5.2 1.5 5.1 1.6 5 1.5 5 1.6 4.9 1.6 5 1.7 4.9 1.7 4.9 1.6 5 1.7 4.9 1.7 5 1.7 4.9 1.6 5 1.6 5 1.5 5 1.5 5 1.5 5 1.4 5 1.4 5.1 1.3 5 1.3 5.1 1.2 5 1.3 5.3 1.2 5.6 1.4 5.8 1.4 5.9 1.4 5.7 1.4 5.5 1.5 5.1 1.3 4.5 1.3 3.8 1 3 0.9M13.7 700.7l5.2 0.1 6.2 0.1 6.8 0.1 7 0 4.5 0.2 4.7 0.1 4.9 0.1 5.1 0.1 5.3 0.1 5.4 0.1 5.5 0.1 5.7 0.1 4.7 0.1 4.9 0.1 5 0.1 5.2 0.1 5.2 0 5.2 0.1 5.3 0.1 5.1 0.1 5.1 0.1 4.9 0.1 5.2 0.4 5.1 0.4 5 0.5 5 0.5 4.9 0.7 5 0.7 4.9 0.9 5.1 1.1 5.1 1.3 5.1 1.3 5.1 1.6 5 1.7 4.9 1.9 4.9 2.1 5 2.1 5 2.1 5 2.2 5.3 2.2 4.4 1.9 4.7 2 4.8 2 4.9 2 5 2.1 4.9 2.1 5 2.1 4.9 2 4.8 2 4.7 1.8 4.6 1.8 5.4 2 5.4 1.9 5.3 1.8 5.3 1.6 5.1 1.5 5 1.4 4.9 1.2 4.6 1.1 4.4 1 5.8 1.3 4.9 1 4.4 0.8 4.6 0.9 5.1 0.8 6.2 1 4.3 0.7 4.7 0.8 5 0.7 5.2 0.9 5.4 0.9 5.5 0.9 5.4 1.1 5.5 1.1 5.3 1.2 5.2 1.2 5.1 1.3 5 1.4 5 1.4 5 1.5 5 1.6 4.9 1.6 5 1.7 4.9 1.7 4.9 1.8 4.9 1.8 4.9 1.8 4.9 1.9 4.9 1.9 4.8 1.9 4.9 1.9 4.9 2 4.8 1.9 4.9 1.9 4.9 1.9 4.8 1.9 5.1 1.9 5.5 2 5.6 2.1 5.7 2 5.6 2 5.4 1.9 5 1.6 4.5 1.5 3.7 1.1 3 0.9M10 699.1l3.8 0 5.1 0 6.2-0.1 6.9 0 7 0.1 4.5 0 4.7 0.1 5 0 5.1 0.1 5.2 0.1 5.4 0.2 5.6 0.2 5.7 0.3 4.6 0.2 4.9 0.3 5 0.3 5.2 0.4 5.2 0.4 5.2 0.4 5.2 0.5 5.1 0.5 5 0.5 4.8 0.6 5.2 0.8 5 0.7 5 0.8 4.9 0.8 4.8 0.9 4.9 1 4.9 1 4.9 1.2 5 1.3 5 1.4 5 1.6 4.9 1.8 4.9 1.8 4.9 1.9 5 1.9 5.1 2 5.2 1.9 5.4 1.8 4.7 1.5 4.8 1.6 4.9 1.5 5 1.6 5.2 1.5 5.1 1.6 5.1 1.5 5.1 1.5 4.9 1.5 4.9 1.4 4.6 1.4 5.6 1.6 5.5 1.5 5.4 1.5 5.3 1.5 5.2 1.3 5 1.4 4.8 1.2 4.7 1.2 4.3 1.1 5.8 1.4 4.8 1.3 4.4 1.1 4.4 1.1 5 1.3 6 1.5 4.3 1.2 4.5 1.2 4.8 1.3 5.1 1.5 5.1 1.5 5.3 1.7 5.3 1.6 5.3 1.8 5.1 1.8 5 1.7 4.9 1.8 5 1.8 4.9 1.8 4.9 1.8 4.9 1.7 4.9 1.8 4.9 1.8 5 1.7 4.9 1.6 5 1.6 4.9 1.6 5 1.5 5.1 1.4 5 1.4 5 1.3 5.1 1.2 5.1 1.2 5.1 1.1 5.1 1.1 5.1 1.1 5.3 1 5.7 1.1 5.9 1.2 5.9 1.2 5.8 1.2 5.6 1.2 5.1 1.2 4.5 1.1 3.9 1 3 0.8M25.1 700l6.9-0.2 7-0.1 4.5 0 4.7 0 4.9 0.1 5.1 0.1 5.3 0.2 5.4 0.3 5.5 0.4 5.7 0.5 4.6 0.4 4.9 0.4 5 0.5 5.1 0.4 5.2 0.5 5.2 0.5 5.1 0.4 5.2 0.4 5 0.3 4.8 0.3 5.3 0.5 5 0.4 5.1 0.4 4.9 0.4 4.9 0.5 5 0.6 4.9 0.7 5.1 0.9 5.1 1.1 5.1 1.3 5 1.5 5 1.7 4.9 1.8 5 1.9 4.9 2 5.1 2.1 5.1 2 5.4 2 4.5 1.6 4.8 1.6 4.9 1.6 5.1 1.5 5.1 1.6 5.1 1.4 5.2 1.5 5.1 1.4 5 1.3 4.8 1.3 4.7 1.3 5.6 1.6 5.5 1.5 5.4 1.6 5.2 1.7 5.1 1.6 5 1.6 4.7 1.7 4.5 1.6 4.2 1.5 5.6 2.1 4.6 1.8 4.3 1.6 4.2 1.6 4.9 1.9 5.8 2.1 4.2 1.5 4.4 1.5 4.8 1.6 5 1.6 5.2 1.6 5.2 1.5 5.4 1.6 5.3 1.5 5.2 1.5 5.1 1.5 5 1.5 5 1.5 5 1.5 4.9 1.6 5 1.6 4.9 1.7 5 1.7 4.9 1.7 4.9 1.8 5 1.7 4.9 1.7 4.9 1.7 5 1.7 4.9 1.6 5 1.6 5 1.5 5 1.5 5 1.3 5.1 1.3 5.1 1.3 5.3 1.2 5.6 1.2 5.9 1.3 5.9 1.3 5.8 1.2 5.6 1.2 5.1 1.2 4.5 1.1 3.9 0.9 3 0.8M13.8 699.2l5.1-0.2 6.2-0.1 6.9-0.1 7 0 4.5 0.1 4.7 0 5 0.1 5.1 0.1 5.2 0.1 5.5 0.2 5.5 0.2 5.7 0.3 4.7 0.2 4.8 0.3 5.1 0.4 5.1 0.3 5.2 0.4 5.2 0.5 5.2 0.5 5.1 0.5 5 0.5 4.8 0.6 5.2 0.8 5 0.7 5 0.8 4.9 0.7 4.9 0.9 4.8 1 4.9 1 4.9 1.2 5 1.4 5 1.5 4.9 1.7 4.9 1.8 4.9 1.9 4.9 2 5 2 5 2 5.2 2 5.4 2 4.6 1.6 4.8 1.6 5 1.6 5 1.6 5.1 1.6 5.1 1.6 5.1 1.6 5.1 1.5 4.9 1.5 4.8 1.5 4.6 1.5 5.5 1.7 5.5 1.6 5.4 1.7 5.2 1.6 5.2 1.6 4.9 1.5 4.8 1.4 4.6 1.4 4.3 1.3 5.6 1.8 4.8 1.5 4.3 1.3 4.3 1.4 4.9 1.6 6 1.8 4.2 1.3 4.5 1.3 4.8 1.5 5 1.5 5.2 1.6 5.3 1.6 5.3 1.6 5.3 1.6 5.2 1.6 5.1 1.5 4.9 1.6 5 1.5 5 1.5 5 1.6 5 1.5 4.9 1.6 5 1.5 5 1.6 5 1.5 5 1.5 5 1.5 5 1.6 4.9 1.5 5 1.5 5 1.5 5 1.5 5 1.4 5.1 1.5 5 1.4 5 1.4 5.2 1.4 5.6 1.5 5.9 1.5 5.8 1.4 5.8 1.5 5.5 1.3 5.1 1.2 4.6 1.1 3.8 0.9 3 0.7M25.1 699.3l6.9 0.3 7 0.4 4.5 0.2 4.7 0.2 4.9 0.1 5.1 0.2 5.2 0.1 5.5 0.1 5.5 0.2 5.7 0.2 4.6 0.2 4.9 0.2 5 0.4 5.1 0.4 5.2 0.6 5.2 0.6 5.1 0.8 5.1 0.8 4.9 1 4.8 0.9 5.1 1.1 5.1 1 4.9 0.9 4.8 1 4.8 0.9 4.8 1 4.8 1 4.8 1.1 5 1.1 4.9 1.4 4.8 1.4 4.9 1.6 4.9 1.8 5 1.8 5 1.8 5.1 2 5.3 2 5.4 1.9 4.6 1.7 4.8 1.7 4.9 1.7 5 1.8 5.1 1.7 5.1 1.7 5.1 1.7 5 1.5 5 1.5 4.8 1.3 4.7 1.2 5.6 1.5 5.5 1.3 5.5 1.3 5.4 1.2 5.2 1.2 5.1 1.2 4.8 1.2 4.7 1.2 4.3 1.1 5.7 1.6 4.8 1.5 4.3 1.3 4.3 1.4 5 1.5 5.9 1.9 4.2 1.3 4.5 1.3 4.8 1.4 5.1 1.4 5.2 1.3 5.4 1.4 5.4 1.3 5.4 1.2 5.3 1.2 5.2 1.2 5.1 1.1 5.1 1.2 5 1.3 5.1 1.3 5 1.4 5 1.5 5 1.5 5 1.6 4.9 1.7 4.9 1.7 5 1.7 4.9 1.8 4.9 1.7 4.9 1.8 5 1.6 4.9 1.7 5 1.5 5 1.5 5 1.5 5 1.4 5.2 1.4 5.6 1.5 5.8 1.6 5.8 1.7 5.7 1.6 5.4 1.7 5 1.6 4.5 1.4 3.8 1.3 2.9 1M13.7 701l5.2-0.2 6.2-0.1 6.8-0.1 7.1 0 4.4 0.2 4.7 0.2 4.9 0.2 5.1 0.2 5.3 0.3 5.4 0.3 5.5 0.3 5.6 0.4 4.7 0.3 4.9 0.4 5 0.3 5.1 0.3 5.2 0.4 5.2 0.3 5.2 0.4 5.1 0.3 5 0.4 4.9 0.3 5.2 0.5 5 0.5 5 0.4 5 0.6 4.9 0.5 4.9 0.7 4.9 0.8 5 1 5 1.2 5.1 1.3 4.9 1.6 5 1.7 4.9 1.8 4.9 2 4.9 2 5.1 2.1 5.1 2.1 5.4 2.1 4.5 1.8 4.7 1.8 4.9 1.8 5 1.9 5 1.9 5 1.9 5.1 1.8 4.9 1.9 4.9 1.7 4.7 1.7 4.6 1.7 5.4 1.9 5.4 1.9 5.4 1.8 5.2 1.7 5.1 1.6 4.9 1.6 4.8 1.5 4.6 1.4 4.3 1.3 5.6 1.8 4.7 1.5 4.3 1.4 4.3 1.4 5 1.6 5.9 1.9 4.2 1.3 4.6 1.3 4.8 1.5 5 1.5 5.1 1.6 5.3 1.6 5.3 1.6 5.3 1.6 5.2 1.5 5.1 1.5 5 1.5 5 1.4 5 1.4 5.1 1.4 5 1.3 5.1 1.4 5 1.2 5.1 1.2 5.1 1.2 5.1 1.2 5.1 1.1 5.1 1.1 5.2 1 5.1 1.1 5.1 1 5.2 1 5.1 1 5.1 1.1 5.1 1 5.1 1 5.4 1.1 5.6 1.2 5.9 1.2 5.9 1.4 5.8 1.3 5.5 1.3 5.1 1.3 4.5 1.2 3.8 1.1 3 0.8M13.7 700.5l5.2 0.6 6.2 0.7 6.8 0.8 7 0.8 4.4 0.5 4.7 0.6 4.8 0.6 5.1 0.5 5.2 0.5 5.4 0.4 5.4 0.4 5.6 0.5 4.7 0.3 4.8 0.3 5 0.4 5.1 0.3 5.2 0.4 5.2 0.4 5.1 0.4 5.1 0.4 5 0.4 4.8 0.4 5.2 0.3 5.2 0.2 5 0.2 4.9 0.3 4.9 0.3 4.9 0.3 4.9 0.5 5 0.5 5 0.7 5.1 0.9 5.1 1.2 5.1 1.2 5 1.5 5.1 1.6 5 1.7 5.2 1.9 5.2 1.9 5.3 2 4.5 1.7 4.7 1.9 4.9 2 4.9 2 4.9 2.1 5 2.1 5 2.1 4.9 2 4.8 1.9 4.7 1.9 4.5 1.7 5.5 2 5.4 1.9 5.3 1.8 5.2 1.7 5.1 1.6 5 1.6 4.7 1.5 4.6 1.4 4.3 1.3 5.6 1.9 4.7 1.6 4.2 1.4 4.4 1.5 4.9 1.6 6 1.9 4.2 1.2 4.6 1.2 4.8 1.2 5.2 1.2 5.3 1.1 5.4 1.1 5.5 1 5.5 0.8 5.4 0.9 5.3 0.7 5.2 0.8 5.2 0.8 5.2 0.8 5.2 1 5.1 1 5.1 1.1 5.1 1.2 5.1 1.3 5 1.5 4.9 1.5 5 1.7 4.9 1.7 4.9 1.8 4.9 1.9 4.9 1.9 4.9 1.9 4.9 1.8 4.8 1.9 4.9 1.8 4.9 1.8 5.1 1.9 5.5 1.9 5.7 2 5.7 2.1 5.6 2 5.3 1.9 5 1.9 4.4 1.6 3.7 1.4 2.9 1.1M18.9 703.8l6.2-0.1 6.7 0 7 0.1 4.5 0.2 4.7 0.2 4.9 0.2 5 0.2 5.3 0.2 5.4 0.3 5.5 0.2 5.6 0.4 4.6 0.3 4.9 0.3 5 0.3 5.1 0.4 5.2 0.4 5.1 0.5 5.2 0.4 5.1 0.5 4.9 0.6 4.9 0.5 5.2 0.5 5.1 0.4 4.9 0.5 4.9 0.6 4.9 0.6 4.8 0.7 4.8 0.8 4.9 0.9 4.9 1.1 5 1.3 4.9 1.4 4.9 1.6 4.9 1.7 5 1.7 5 1.7 5.2 1.8 5.4 1.7 5.5 1.6 4.7 1.3 4.9 1.3 5 1.2 5.2 1.3 5.2 1.3 5.2 1.3 5.2 1.3 5.1 1.2 5 1.3 4.9 1.3 4.7 1.2 5.5 1.5 5.5 1.5 5.4 1.6 5.3 1.5 5.2 1.5 4.9 1.6 4.8 1.4 4.6 1.5 4.3 1.4 5.6 1.8 4.7 1.6 4.2 1.5 4.4 1.5 4.8 1.7 5.9 2.1 4.2 1.4 4.4 1.5 4.8 1.7 4.9 1.7 5.2 1.7 5.2 1.8 5.2 1.8 5.3 1.7 5.2 1.7 5 1.7 4.9 1.6 5 1.7 5 1.6 4.9 1.6 5 1.6 5 1.6 4.9 1.6 5 1.6 5 1.5 4.9 1.6 5 1.6 5 1.6 4.9 1.7 5 1.6 4.9 1.7 5 1.6 4.9 1.7 5 1.7 4.9 1.7 5 1.7 5.1 1.7 5.5 1.9 5.7 1.9 5.8 1.9 5.6 1.9 5.4 1.8 5 1.6 4.5 1.5 3.7 1.2 2.9 1M10 701.8l3.7 0.1 5.2 0 6.2 0 6.8-0.1 7 0 4.5 0.1 4.7 0.2 4.9 0.1 5.1 0.2 5.2 0.3 5.4 0.4 5.5 0.5 5.6 0.7 4.6 0.6 4.9 0.7 4.9 0.8 5.1 0.8 5.1 0.9 5.1 0.9 5.1 0.9 5 0.9 5 0.9 4.7 0.8 5.2 0.6 5.1 0.6 4.9 0.5 4.9 0.5 4.8 0.5 4.8 0.6 4.8 0.7 4.9 0.8 4.9 1 4.8 1.3 4.8 1.5 4.8 1.7 4.8 1.9 4.8 2.1 5 2.1 5 2.2 5.3 2.2 5.4 2.1 4.7 1.7 4.8 1.7 4.9 1.7 5.1 1.6 5.1 1.6 5.2 1.5 5.1 1.4 5.1 1.4 5 1.3 4.9 1.3 4.6 1.2 5.6 1.5 5.5 1.5 5.4 1.6 5.3 1.5 5.1 1.6 4.9 1.6 4.8 1.6 4.5 1.6 4.2 1.4 5.6 2.1 4.6 1.8 4.2 1.6 4.3 1.6 4.9 1.7 5.9 2 4.2 1.3 4.6 1.4 4.8 1.3 5.1 1.4 5.2 1.4 5.3 1.4 5.4 1.3 5.4 1.4 5.2 1.4 5.1 1.4 5.1 1.4 5 1.5 4.9 1.5 5 1.6 5 1.6 4.9 1.6 5 1.7 4.9 1.6 5 1.7 4.9 1.6 5 1.5 5 1.5 5 1.5 5.1 1.3 5 1.4 5.1 1.2 5.1 1.3 5.1 1.2 5.1 1.1 5.1 1.2 5.3 1.2 5.7 1.3 5.8 1.4 5.9 1.5 5.7 1.5 5.5 1.5 5 1.4 4.5 1.3 3.8 1.1 3 0.9M25.1 704l6.7 0.4 7 0.4 4.4 0.4 4.7 0.4 4.9 0.3 5.1 0.3 5.2 0.2 5.4 0.2 5.5 0.1 5.6 0.1 4.7 0 4.8 0.1 5.1 0 5.1 0.1 5.2 0.2 5.2 0.3 5.2 0.3 5.1 0.4 4.9 0.5 4.9 0.5 5.2 0.5 5 0.6 5 0.6 4.9 0.6 4.8 0.6 4.9 0.7 4.8 0.8 4.9 0.9 5 1 5 1.2 4.9 1.3 5 1.5 4.9 1.6 5 1.7 5 1.9 5.1 1.9 5.3 2 5.3 2.1 4.6 1.7 4.7 1.9 4.9 1.9 4.9 2 5 2 5 2 5 2 5 1.8 4.8 1.8 4.8 1.7 4.5 1.6 5.5 1.8 5.4 1.8 5.4 1.7 5.3 1.6 5.1 1.6 4.9 1.6 4.8 1.6 4.5 1.5 4.2 1.5 5.6 2 4.6 1.9 4.2 1.6 4.2 1.8 4.9 1.9 5.8 2.2 4.2 1.5 4.5 1.5 4.8 1.5 5 1.5 5.2 1.4 5.4 1.4 5.4 1.2 5.4 1.2 5.3 1.1 5.2 1 5.2 1.1 5.1 1 5.1 1.1 5.1 1.1 5.1 1.2 5.1 1.2 5 1.3 5.1 1.3 5.1 1.3 5 1.3 5 1.3 5.1 1.3 5.1 1.2 5.1 1.2 5.1 1.2 5.1 1 5.1 1.1 5.2 1 5.1 1 5.1 0.9 5.4 1.1 5.7 1.1 5.8 1.3 5.9 1.5 5.7 1.5 5.5 1.5 5 1.6 4.5 1.4 3.7 1.3 2.9 1"/>
<path id="c_b_c2" d="M10 696.1l3.8 0.3 5.2 0.4 6.2 0.4 6.8 0.5 7 0.6 4.5 0.3 4.7 0.3 4.9 0.4 5.1 0.4 5.3 0.4 5.4 0.4 5.5 0.5 5.6 0.5 4.7 0.4 4.9 0.4 5 0.5 5.1 0.4 5.2 0.5 5.2 0.4 5.1 0.4 5.2 0.3 5 0.3 4.8 0.3 5.3 0.4 5.1 0.3 5 0.3 5 0.3 4.9 0.3 5 0.4 5 0.5 5.1 0.7 5.2 0.8 5.3 0.9 5.3 1.1 5.2 1.2 5.1 1.4 5.2 1.4 5.1 1.5 5.1 1.6 5.3 1.6 5.3 1.7 4.5 1.5 4.8 1.6 4.8 1.7 5 1.8 5 1.9 4.9 2 5 2.1 4.9 2 4.8 2.1 4.7 2 4.4 2 5.4 2.3 5.3 2.3 5.2 2.2 5.1 2 5 1.9 4.9 1.8 4.8 1.7 4.5 1.5 4.3 1.4 5.6 1.7 4.8 1.4 4.3 1.3 4.4 1.2 5 1.3 6.1 1.5 4.2 1 4.6 1.1 4.9 1.1 5.2 1.1 5.3 1.2 5.4 1.1 5.4 1.2 5.4 1.1 5.4 1.1 5.2 1 5.2 1.1 5.1 1 5.1 1 5.2 1 5.1 1.1 5.1 1 5.2 1 5.1 1 5.1 1.1 5.1 1.1 5.1 1.2 5.1 1.2 5.1 1.3 5 1.4 5 1.5 4.9 1.6 5 1.6 4.9 1.8 4.8 1.8 4.9 1.9 5 2.1 5.3 2.3 5.6 2.4 5.5 2.4 5.5 2.5 5.3 2.3 4.8 2.1 4.4 1.9 3.7 1.5 2.9 1.2M10 695.2l3.8 0.1 5.2 0 6.2 0 6.9 0.1 7 0.2 4.6 0 4.7 0.1 4.9 0.1 5.2 0.1 5.2 0.2 5.5 0.2 5.6 0.2 5.6 0.4 4.7 0.3 4.9 0.4 5 0.4 5.2 0.4 5.2 0.5 5.2 0.5 5.2 0.5 5.1 0.5 5 0.6 4.8 0.6 5.2 0.8 5 0.8 5 0.8 4.9 0.8 4.9 0.9 5 0.9 4.9 1 5 1.1 5.1 1.3 5.1 1.3 5.1 1.5 5 1.7 5 1.7 5 1.8 5 1.8 5.2 1.7 5.2 1.8 5.4 1.6 4.6 1.4 4.8 1.3 5 1.4 5.1 1.4 5.1 1.4 5.2 1.4 5.1 1.5 5.1 1.4 5 1.3 4.9 1.4 4.6 1.4 5.6 1.6 5.5 1.6 5.3 1.6 5.3 1.6 5.2 1.5 4.9 1.5 4.8 1.5 4.6 1.4 4.3 1.4 5.7 1.6 4.7 1.5 4.4 1.3 4.3 1.4 4.9 1.5 6 1.8 4.1 1.3 4.5 1.4 4.8 1.5 5 1.5 5.2 1.6 5.3 1.6 5.3 1.6 5.3 1.6 5.2 1.5 5.1 1.5 5 1.5 5 1.5 5 1.4 5 1.5 5 1.4 5.1 1.4 5 1.5 5 1.4 5 1.3 5.1 1.4 5 1.4 5 1.3 5.1 1.4 5 1.3 5 1.4 5.1 1.3 5 1.4 5 1.3 5.1 1.3 5 1.3 5.2 1.3 5.6 1.4 5.8 1.5 5.8 1.5 5.7 1.4 5.5 1.5 5.1 1.3 4.5 1.2 3.9 1 2.9 0.8M19 696.8l6.2 0.1 6.8 0.2 7.1 0.3 4.5 0.2 4.7 0.2 4.9 0.1 5.1 0.2 5.3 0.1 5.4 0.1 5.6 0 5.7 0 4.7 0 4.9 0 5.1 0 5.2 0 5.2 0.1 5.3 0 5.2 0.2 5.2 0.2 5 0.3 4.9 0.4 5.2 0.8 5 0.8 5 0.9 4.9 1 4.9 1 4.9 1.2 4.9 1.3 5 1.3 5 1.6 5.1 1.5 5.1 1.7 5 1.7 4.9 1.8 5 1.9 5 1.8 5.1 1.8 5.3 1.7 5.4 1.7 4.5 1.4 4.8 1.5 5 1.6 5 1.6 5.1 1.6 5 1.7 5.1 1.8 5 1.8 4.8 1.8 4.8 1.7 4.5 1.7 5.5 2 5.3 2 5.4 1.8 5.2 1.8 5.1 1.6 4.9 1.6 4.8 1.4 4.6 1.3 4.4 1.3 5.7 1.5 4.8 1.3 4.3 1.2 4.4 1.3 5 1.3 6 1.7 4.2 1.2 4.5 1.4 4.8 1.4 5 1.5 5.2 1.6 5.2 1.7 5.3 1.7 5.3 1.6 5.2 1.6 5.1 1.5 5 1.4 5 1.4 5.1 1.3 5.1 1.3 5.1 1.1 5.1 1.2 5.1 1.1 5.1 1.1 5.1 1 5.1 1.1 5.1 1.1 5.2 1.2 5 1.1 5.1 1.3 5.1 1.3 5 1.3 5 1.4 5 1.5 5 1.4 4.9 1.4 5.2 1.5 5.6 1.6 5.8 1.5 5.8 1.6 5.7 1.4 5.5 1.3 5.2 1.2 4.5 1.1 3.9 0.8 3 0.7M18.9 700.2l6.2 0 6.8 0.1 7.1 0 4.5 0.1 4.7 0.1 4.9 0 5.1 0.1 5.2 0.1 5.5 0.1 5.5 0.1 5.7 0.2 4.7 0.1 4.8 0.2 5.1 0.2 5.1 0.3 5.2 0.2 5.2 0.3 5.2 0.4 5.2 0.4 5 0.4 4.8 0.4 5.2 0.6 5.1 0.6 5 0.6 4.9 0.7 4.9 0.7 4.9 0.9 4.9 0.9 5 1.1 5 1.2 5.1 1.4 5.1 1.5 4.9 1.6 5 1.7 5 1.7 5.1 1.8 5.1 1.7 5.3 1.7 5.5 1.6 4.6 1.2 4.9 1.3 5 1.3 5.1 1.3 5.2 1.3 5.2 1.3 5.1 1.2 5.2 1.3 5 1.3 4.9 1.3 4.7 1.2 5.5 1.6 5.5 1.5 5.4 1.6 5.3 1.6 5.2 1.5 4.9 1.6 4.8 1.5 4.5 1.4 4.3 1.5 5.7 1.8 4.7 1.6 4.3 1.4 4.3 1.5 4.9 1.6 5.9 2 4.1 1.4 4.4 1.5 4.8 1.6 5 1.7 5.1 1.7 5.2 1.7 5.3 1.7 5.3 1.7 5.2 1.7 5 1.6 5 1.6 5 1.5 5 1.6 4.9 1.5 5 1.6 5 1.5 5 1.6 5 1.5 4.9 1.6 5 1.6 5 1.5 5 1.6 4.9 1.7 5 1.6 4.9 1.6 5 1.7 4.9 1.7 4.9 1.7 5 1.6 4.9 1.7 5.1 1.7 5.5 1.8 5.7 1.9 5.8 1.9 5.6 1.8 5.5 1.7 5 1.6 4.5 1.4 3.7 1.1 3 0.9M10 696.3l3.8 0.2 5.2 0.1 6.2 0.3 6.8 0.2 7.1 0.3 4.5 0.2 4.7 0.1 4.9 0.1 5.1 0.1 5.3 0.1 5.4 0.2 5.6 0.2 5.7 0.2 4.7 0.3 4.8 0.3 5.1 0.4 5.1 0.5 5.2 0.5 5.2 0.6 5.1 0.7 5.1 0.7 5 0.9 4.8 0.8 5.1 1.1 5 1 4.9 1 4.9 1.1 4.8 1 4.8 1.1 4.9 1.2 4.8 1.3 4.9 1.3 5 1.5 4.9 1.6 4.9 1.7 4.9 1.7 4.9 1.8 5.1 1.9 5.1 1.8 5.3 1.7 5.5 1.7 4.7 1.4 4.8 1.5 5 1.5 5 1.5 5.2 1.6 5.1 1.5 5.1 1.6 5 1.7 4.9 1.6 4.8 1.5 4.6 1.5 5.5 1.8 5.4 1.8 5.4 1.7 5.3 1.6 5.1 1.5 5 1.4 4.8 1.4 4.6 1.2 4.4 1.1 5.7 1.5 4.8 1.2 4.4 1.1 4.4 1.1 5.1 1.3 6 1.4 4.3 1.1 4.6 1.1 4.8 1.2 5.1 1.3 5.2 1.4 5.3 1.4 5.4 1.5 5.3 1.6 5.2 1.5 5.1 1.5 5 1.5 5 1.4 5 1.5 5.1 1.4 5 1.5 5 1.3 5.1 1.4 5 1.2 5.1 1.3 5.1 1.2 5 1.2 5.1 1.2 5.1 1.1 5.1 1.2 5.1 1.2 5.1 1.2 5.1 1.2 5 1.2 5 1.3 5.1 1.3 5.2 1.4 5.5 1.5 5.8 1.6 5.8 1.7 5.7 1.7 5.4 1.6 5 1.5 4.5 1.3 3.8 1.1 3 0.9M18.9 699.4l6.2 0.2 6.9 0.1 7 0.3 4.5 0.2 4.7 0.3 4.9 0.3 5 0.3 5.3 0.4 5.4 0.6 5.5 0.5 5.6 0.7 4.6 0.5 4.9 0.6 5 0.5 5.1 0.5 5.1 0.5 5.2 0.3 5.2 0.3 5.1 0.2 5.1 0.2 4.8 0 5.3 0.1 5.1 0.1 5.1 0 5 0.2 5 0.2 4.9 0.4 5 0.6 5.1 0.8 5.1 1.1 5.1 1.3 5.1 1.5 4.9 1.8 4.9 2 4.9 2.1 4.9 2.2 5 2.2 5.1 2.2 5.2 2.2 4.6 1.8 4.7 1.7 4.9 1.8 5 1.7 5 1.7 5.1 1.7 5.1 1.6 5 1.7 5 1.5 4.8 1.6 4.6 1.6 5.4 1.8 5.4 1.9 5.3 1.9 5.2 1.8 5.1 1.8 4.9 1.7 4.7 1.6 4.6 1.5 4.3 1.4 5.6 1.6 4.8 1.4 4.4 1.1 4.4 1.1 5.1 1.1 6.1 1.2 4.4 0.7 4.6 0.8 5 0.8 5.2 0.9 5.4 0.9 5.5 0.9 5.5 1.1 5.4 1.1 5.3 1.2 5.1 1.4 5.1 1.4 5 1.4 5 1.6 4.9 1.6 5 1.6 4.9 1.7 5 1.7 4.9 1.7 4.9 1.6 5 1.7 4.9 1.7 5 1.6 4.9 1.7 5 1.7 4.9 1.7 4.9 1.8 4.9 1.8 4.9 1.8 4.9 1.9 4.8 1.8 5.1 2 5.5 2.1 5.6 2.1 5.7 2.2 5.6 1.9 5.4 1.8 5 1.6 4.5 1.2 3.8 1.1 3 0.7M10 697.1l3.8 0.1 5.2 0.2 6.2 0.1 6.8 0.2 7.1 0.3 4.5 0 4.7 0.1 4.9 0 5.1 0 5.3 0 5.4 0.1 5.6 0.1 5.7 0.3 4.7 0.3 4.8 0.4 5 0.5 5.2 0.6 5.1 0.8 5.2 0.8 5.1 1 5.1 1 4.9 1 4.8 1 5.1 1.2 5 1 4.9 1 4.9 0.9 4.8 1 4.8 0.9 4.8 1 4.9 1 4.9 1.2 5 1.4 4.9 1.6 4.8 1.7 4.9 1.8 4.9 2 4.9 2.1 5.1 2.2 5.2 2.1 5.3 2.2 4.6 1.7 4.8 1.8 4.9 1.8 5 1.7 5.1 1.7 5.1 1.5 5.2 1.5 5.1 1.4 5 1.3 4.9 1.1 4.7 1.1 5.6 1.3 5.6 1.3 5.5 1.3 5.3 1.3 5.2 1.3 5.1 1.3 4.8 1.3 4.6 1.3 4.3 1.2 5.6 1.7 4.8 1.5 4.3 1.3 4.4 1.4 4.9 1.4 6.1 1.6 4.2 1.1 4.6 1.1 4.9 1.1 5.1 1.1 5.3 1.1 5.5 1 5.5 1.1 5.4 1 5.4 1.1 5.2 1.1 5.1 1.2 5 1.3 5.1 1.3 5 1.4 5 1.5 5 1.5 5 1.6 4.9 1.6 5 1.5 5 1.6 5 1.6 5 1.5 5 1.4 5 1.5 5 1.4 5 1.3 5.1 1.4 5 1.3 5 1.4 5 1.3 5.2 1.5 5.5 1.7 5.7 1.8 5.7 1.9 5.7 2 5.3 2 4.9 1.8 4.5 1.7 3.7 1.4 2.9 1M25.1 700.4l6.8 0 7.1 0.2 4.4 0.1 4.7 0.2 4.9 0.2 5.1 0.3 5.3 0.4 5.4 0.4 5.5 0.5 5.6 0.6 4.6 0.5 4.9 0.6 4.9 0.6 5.1 0.6 5.2 0.7 5.1 0.6 5.2 0.6 5.1 0.6 4.9 0.6 4.8 0.5 5.3 0.5 5 0.5 5 0.4 5 0.4 4.8 0.4 4.9 0.5 4.9 0.6 5 0.8 5 0.9 5 1.1 5 1.4 5 1.5 5 1.6 5 1.8 5 1.8 5.1 2 5.2 1.9 5.4 2 4.6 1.6 4.7 1.7 4.9 1.7 5 1.8 5.1 1.8 5 1.8 5.1 1.7 5 1.7 4.9 1.6 4.8 1.5 4.6 1.5 5.5 1.7 5.5 1.7 5.4 1.5 5.3 1.6 5.2 1.4 4.9 1.4 4.9 1.4 4.5 1.3 4.4 1.2 5.6 1.7 4.8 1.4 4.3 1.4 4.3 1.4 5 1.5 5.9 1.9 4.2 1.3 4.5 1.4 4.8 1.5 5 1.6 5.2 1.5 5.3 1.6 5.3 1.5 5.3 1.5 5.3 1.4 5.1 1.4 5.1 1.2 5 1.3 5.1 1.2 5.1 1.2 5.1 1.2 5.1 1.1 5.1 1.2 5.1 1.2 5 1.2 5.1 1.3 5.1 1.3 5 1.4 5 1.4 5 1.5 5 1.5 4.9 1.6 5 1.7 4.9 1.7 4.9 1.7 5 1.7 5.1 1.8 5.5 1.9 5.7 1.9 5.7 1.9 5.6 1.8 5.5 1.7 5 1.5 4.5 1.4 3.8 1.1 3 0.8M10 699.9l3.7 0.1 5.2 0.3 6.2 0.3 6.8 0.3 7 0.5 4.5 0.4 4.7 0.4 4.9 0.4 5 0.5 5.3 0.5 5.3 0.6 5.5 0.6 5.6 0.7 4.6 0.5 4.9 0.6 4.9 0.6 5.1 0.7 5.1 0.6 5.2 0.7 5.1 0.7 5.1 0.7 4.9 0.7 4.8 0.7 5.2 0.5 5.1 0.5 4.9 0.4 4.9 0.5 4.9 0.6 4.8 0.6 4.8 0.7 4.8 0.8 4.9 0.9 4.9 1.3 4.9 1.4 4.9 1.6 4.9 1.6 4.9 1.8 5.1 1.7 5.2 1.8 5.3 1.8 5.6 1.7 4.7 1.3 4.9 1.4 5 1.3 5.1 1.4 5.2 1.4 5.2 1.3 5.1 1.4 5.1 1.3 5 1.3 4.9 1.3 4.7 1.2 5.6 1.5 5.5 1.4 5.4 1.5 5.3 1.4 5.2 1.4 5 1.3 4.9 1.3 4.6 1.3 4.3 1.2 5.7 1.5 4.8 1.4 4.3 1.2 4.4 1.3 5 1.4 6 1.7 4.2 1.2 4.5 1.3 4.8 1.4 5.1 1.5 5.1 1.5 5.3 1.6 5.3 1.7 5.3 1.6 5.2 1.7 5 1.6 5 1.7 4.9 1.7 5 1.7 4.9 1.7 4.9 1.7 4.9 1.8 5 1.7 4.9 1.8 4.9 1.8 4.9 1.8 4.9 1.8 4.9 1.8 4.9 1.8 4.9 1.8 4.9 1.7 4.9 1.8 5 1.8 4.9 1.7 5 1.7 4.9 1.6 5.2 1.7 5.5 1.7 5.8 1.8 5.8 1.7 5.7 1.6 5.5 1.5 5 1.4 4.6 1.2 3.8 1 3 0.7M18.9 701.5l6.2-0.2 6.8-0.1 7-0.1 4.5 0.2 4.7 0.1 4.9 0.2 5.1 0.2 5.3 0.3 5.3 0.4 5.6 0.4 5.6 0.5 4.6 0.5 4.9 0.5 5 0.5 5.1 0.6 5.1 0.5 5.2 0.6 5.1 0.5 5.1 0.6 5 0.5 4.8 0.6 5.2 0.5 5.1 0.5 5 0.4 4.9 0.5 4.9 0.5 4.8 0.6 4.9 0.6 5 0.8 5 1 5.1 1.1 5 1.3 4.9 1.5 5 1.6 5 1.7 5.1 1.7 5.2 1.8 5.2 1.8 5.5 1.8 4.6 1.4 4.8 1.6 4.9 1.5 5.1 1.6 5 1.7 5.2 1.6 5 1.6 5.1 1.6 4.9 1.6 4.8 1.5 4.6 1.5 5.5 1.7 5.5 1.7 5.4 1.6 5.2 1.6 5.2 1.5 5 1.4 4.8 1.4 4.6 1.3 4.3 1.2 5.7 1.7 4.7 1.4 4.4 1.3 4.3 1.3 5 1.5 5.9 1.9 4.2 1.3 4.5 1.4 4.8 1.5 4.9 1.7 5.2 1.7 5.2 1.8 5.2 1.9 5.2 1.8 5.2 1.9 5 1.8 4.9 1.8 4.9 1.8 4.9 1.8 4.9 1.8 4.9 1.7 4.9 1.7 5 1.7 4.9 1.7 5 1.6 5 1.6 4.9 1.6 5 1.5 5 1.5 5 1.5 5 1.5 5 1.5 5 1.5 5 1.5 5 1.5 5 1.5 5.2 1.5 5.6 1.7 5.7 1.7 5.8 1.8 5.7 1.7 5.4 1.7 5 1.6 4.5 1.4 3.8 1.2 2.9 0.9M25.1 699.2l6.9 0.5 7 0.6 4.4 0.5 4.7 0.5 4.9 0.6 5.1 0.6 5.2 0.7 5.3 0.8 5.5 0.7 5.6 0.8 4.6 0.7 4.8 0.7 5 0.7 5.1 0.7 5.1 0.7 5.1 0.7 5.2 0.7 5 0.8 4.9 0.7 4.8 0.8 5.2 0.6 5.1 0.6 4.9 0.6 4.9 0.6 4.8 0.7 4.7 0.7 4.7 0.9 4.8 1.1 4.8 1.2 4.7 1.5 4.7 1.7 4.7 1.9 4.7 1.9 4.9 2.1 4.9 2 5.2 2.1 5.3 2 5.6 2 4.7 1.5 4.9 1.4 5 1.5 5.1 1.3 5.2 1.4 5.2 1.3 5.2 1.2 5.2 1.2 5 1.2 4.9 1.2 4.7 1.1 5.6 1.3 5.6 1.4 5.4 1.4 5.4 1.4 5.1 1.4 5 1.3 4.8 1.4 4.6 1.3 4.4 1.2 5.6 1.8 4.7 1.4 4.3 1.4 4.4 1.4 4.9 1.5 6 1.8 4.2 1.1 4.6 1.3 4.9 1.3 5 1.3 5.3 1.3 5.4 1.2 5.4 1.3 5.4 1.2 5.3 1.2 5.2 1.1 5.1 1.2 5.1 1.1 5.1 1.1 5.1 1.2 5.1 1.2 5 1.3 5.1 1.2 5.1 1.3 5 1.4 5 1.4 5 1.4 5 1.5 5 1.5 5 1.5 5 1.5 5 1.6 5 1.5 4.9 1.6 5 1.4 5 1.5 5.2 1.5 5.6 1.5 5.8 1.6 5.8 1.5 5.8 1.4 5.5 1.4 5.1 1.2 4.5 1.2 3.9 0.9 3 0.8M25.1 702.9l6.8 0 7 0 4.4 0.1 4.7 0.2 4.9 0.1 5.1 0.2 5.3 0.2 5.3 0.2 5.6 0.3 5.6 0.3 4.6 0.4 4.9 0.3 5 0.4 5.1 0.5 5.2 0.5 5.1 0.5 5.2 0.6 5 0.7 5 0.7 4.8 0.7 5.2 0.7 5 0.7 5 0.7 4.8 0.7 4.8 0.9 4.8 0.9 4.8 1 4.7 1.1 4.9 1.3 4.8 1.5 4.7 1.7 4.8 1.8 4.8 1.9 4.8 2 5 2.1 5.1 2 5.3 2 5.5 1.9 4.7 1.6 4.9 1.5 5 1.5 5 1.6 5.2 1.5 5.1 1.5 5.2 1.5 5 1.4 5 1.5 4.8 1.4 4.7 1.3 5.5 1.7 5.4 1.7 5.4 1.6 5.3 1.6 5.1 1.6 4.9 1.6 4.8 1.5 4.5 1.4 4.3 1.4 5.6 2 4.7 1.6 4.2 1.5 4.3 1.5 4.9 1.7 6 2 4.2 1.4 4.5 1.4 4.8 1.5 5 1.5 5.2 1.5 5.3 1.6 5.3 1.5 5.3 1.5 5.3 1.4 5.1 1.4 5 1.3 5.1 1.3 5 1.2 5.1 1.3 5.1 1.2 5 1.2 5.1 1.3 5.1 1.2 5.1 1.2 5.1 1.2 5 1.2 5.1 1.2 5.1 1.3 5.1 1.3 5 1.2 5.1 1.4 5 1.3 5.1 1.3 5 1.4 5 1.4 5.3 1.4 5.5 1.6 5.8 1.6 5.8 1.7 5.7 1.6 5.5 1.6 5 1.5 4.5 1.3 3.8 1.1 3 0.9M10 703.1l3.7 0.2 5.2 0.3 6.2 0.4 6.7 0.5 7 0.5 4.4 0.4 4.7 0.4 4.9 0.4 5 0.3 5.3 0.3 5.3 0.2 5.5 0.3 5.6 0.3 4.7 0.2 4.8 0.3 5 0.4 5.1 0.4 5.2 0.5 5.1 0.6 5.1 0.7 5.1 0.8 4.9 0.8 4.7 0.8 5.2 0.6 5.1 0.6 4.9 0.6 4.9 0.6 4.8 0.5 4.8 0.6 4.8 0.7 4.8 0.7 4.9 0.9 4.9 1.2 4.8 1.3 4.8 1.5 4.9 1.7 4.9 1.9 5 2 5.1 2 5.3 2.2 5.4 2.2 4.6 1.8 4.8 1.8 4.9 1.9 4.9 1.8 5.1 1.8 5.1 1.8 5.1 1.6 5 1.5 5 1.5 4.8 1.3 4.7 1.3 5.6 1.4 5.5 1.5 5.4 1.4 5.3 1.5 5.2 1.4 5 1.5 4.7 1.4 4.6 1.5 4.3 1.3 5.5 2 4.7 1.6 4.2 1.5 4.4 1.5 4.9 1.7 6 1.8 4.2 1.2 4.6 1.1 4.9 1.2 5.1 1.2 5.3 1.2 5.4 1.1 5.5 1.2 5.4 1.1 5.3 1.2 5.1 1.3 5.1 1.3 5 1.4 5 1.5 5 1.5 4.9 1.7 5 1.6 4.9 1.7 5 1.7 4.9 1.7 5 1.6 4.9 1.6 5 1.5 5 1.5 5 1.5 5 1.4 5.1 1.5 5 1.4 5 1.5 5 1.4 5 1.6 5.2 1.6 5.5 1.8 5.7 2 5.7 2 5.6 2 5.4 2 4.9 1.7 4.5 1.6 3.7 1.2 3 1M18.9 705l6.2 0.2 6.7 0.1 7 0.2 4.4 0.2 4.7 0.3 4.9 0.3 5 0.3 5.2 0.4 5.4 0.4 5.5 0.5 5.6 0.6 4.6 0.5 4.8 0.6 4.9 0.6 5.1 0.7 5.1 0.8 5.2 0.7 5.1 0.7 5 0.7 4.9 0.7 4.8 0.6 5.2 0.3 5.1 0.3 5 0.2 4.9 0.3 4.8 0.3 4.9 0.3 4.8 0.5 4.8 0.7 4.9 0.8 4.9 1.2 4.8 1.4 4.8 1.6 4.8 1.9 4.9 2 4.9 2.1 5.1 2.2 5.2 2.2 5.4 2.3 4.7 1.8 4.7 1.8 4.9 1.8 5 1.8 5.1 1.8 5.1 1.6 5.2 1.6 5 1.5 5 1.4 4.8 1.4 4.6 1.3 5.6 1.6 5.5 1.5 5.4 1.5 5.3 1.6 5.1 1.5 5 1.6 4.7 1.5 4.6 1.4 4.2 1.4 5.6 1.9 4.6 1.7 4.3 1.5 4.4 1.4 4.9 1.6 6 1.9 4.2 1.1 4.6 1.2 4.9 1.2 5.1 1.1 5.3 1.2 5.4 1.1 5.5 1.2 5.4 1.1 5.3 1.1 5.2 1.2 5.1 1.2 5 1.3 5.1 1.4 5 1.5 4.9 1.5 5 1.6 5 1.7 4.9 1.7 4.9 1.7 4.9 1.7 5 1.7 4.9 1.8 4.9 1.6 5 1.7 5 1.6 4.9 1.6 5 1.6 5 1.5 5 1.5 5 1.5 5.3 1.6 5.5 1.7 5.8 1.7 5.7 1.9 5.7 1.8 5.4 1.9 5 1.7 4.4 1.5 3.7 1.3 2.9 1"/>
<path id="c_b_cs" d="M36 611.5l1.8 2.1 2.3 2.9 2.9 3.5 3.1 3.7 3.3 3.9 3.4 3.9 3.2 3.5 2.8 2.9 2.9 3 3 2.9 3 3 3.1 2.9 3 2.8 3.1 2.8 3.1 2.7 3.5 2.9 3.5 2.8 3.5 2.7 3.6 2.7 3.6 2.6 3.6 2.6 3.7 2.7 3.5 2.5 3.7 2.7 4 2.8 3.9 2.7 3.7 2.6 3.3 2.3 2.8 1.9 2.1 1.5M46 611.5l1.6 1.9 2 2.6 2.4 3.1 2.8 3.4 2.9 3.5 3.2 3.6 3.1 3.4 2.9 2.9 3.1 3 3.2 3.1 3.4 3.2 3.4 3.1 3.4 3 3.3 2.9 3.3 2.8 3.6 3 3.6 2.9 3.5 2.7 3.5 2.7 3.5 2.6 3.6 2.5 3.7 2.6 4 2.7 4.4 2.8 4.4 2.8 4.4 2.7 4 2.4 3.3 2.1 2.5 1.5M34 643.8l2.4 1.1 3.1 1.4 3.7 1.6 4.1 1.8 4.4 2 4.5 2.1 4.5 2.1 4.3 2.1 3.7 1.9 3.9 1.9 3.9 2.1 3.9 2.1 4 2.1 4 2.1 3.9 2.2 3.9 2.1 3.8 2 3.9 2.1 4 2.2 4.2 2.3 4.1 2.2 3.9 2.2 3.7 2 3.3 1.8 2.8 1.5 2.1 1.2M34 646l2.4 1.1 3.1 1.5 3.7 1.8 4.1 1.9 4.4 2.1 4.5 2.2 4.5 2.2 4.3 2.2 3.8 2 3.9 2 4 2.2 4.1 2.2 4.1 2.2 4 2.2 3.9 2.2 3.7 2 3.5 2 4.3 2.5 4.3 2.5 4.1 2.5 3.9 2.3 3.4 2.1 2.8 1.8 2.2 1.3M55 612l1.9 1.6 2.4 2.1 2.9 2.4 3.2 2.8 3.4 2.9 3.7 3.1 3.7 3.2 3.7 3.2 3.6 3.1 3.4 2.9 3.1 2.7 3.6 3.1 3.4 3 3.4 3 3.4 2.9 3.3 2.9 3.2 2.9 3.3 2.8 3.2 2.7 3.2 2.7 3.8 3.1 4 3.2 4.1 3.2 4 3.1 3.7 2.9 3.4 2.6 2.9 2.2 2.1 1.7M139.5 612l-0.1 2.6 0 3.4 -0.1 4.2 -0.1 4.5 -0.1 4.7 -0.1 4.5 0 4.1 0 4.3 0.1 4.3 0.1 4.1 0.1 4.1 0.1 4.1 0.1 4.1 0.1 4.5 0.1 4.8 0.1 4.8 0.1 4.4 0 3.8 0.1 2.7M148 612l-0.2 3.1 -0.3 4.3 -0.3 5.2 -0.2 5.3 0 5.1 0.3 4 0.7 4 0.7 4.1 0.7 4.1 0.5 4.3 0.1 4.5 -0.2 4.3 -0.5 4.8 -0.7 5 -0.8 4.9 -0.7 4.5 -0.7 3.7 -0.4 2.8M153 612l-0.2 2.6 -0.2 3.4 -0.2 4.2 -0.3 4.5 -0.3 4.7 -0.4 4.5 -0.4 4.1 -0.7 4.3 -0.8 4.2 -0.9 4.1 -0.9 4 -0.5 4.2 -0.2 4.2 0.4 4.7 0.8 5.2 1 5.2 1.2 4.8 1 4.1 0.6 3M157.5 612l-0.2 2.6 -0.2 3.4 -0.3 4.2 -0.3 4.5 -0.3 4.7 -0.2 4.5 0 4.1 0.2 4.3 0.4 4.1 0.4 4 0.5 4.1 0.4 4.1 0.1 4.4 -0.1 4.2 -0.2 4.6 -0.4 4.9 -0.4 4.7 -0.4 4.3 -0.3 3.6 -0.2 2.7M144 612l0.1 2.5 0.1 3.5 0.1 4 0.2 4.5 0.4 4.7 0.4 4.6 0.7 4.2 1 4 1.2 4.1 1.4 4 1.5 4 1.4 4 1.4 4 1.1 3.9 1.1 4.8 1 5 1 5 0.8 4.5 0.6 3.9 0.5 2.8M139 650l1.5 2.4 2.1 3.3 2.4 3.9 2.6 4.3 2.4 4.1 2 3.6 2.1 3.9 2.1 4 2.1 3.9 1.9 3.6 1.8 3 3.3 4.6 2.8 3.3 1.9 2.1M278 627.5l-2.9 0.8 -4.2 1 -4.6 1.2 -4.3 1 -5 0.9 -4.9 0.8 -5.1 0.8 -4.2 0.6 -4.5 0.6 -4.4 0.6 -3.9 0.7 -4.3 0.8 -3.8 0.9 -3.9 1.3 -4.3 2.1 -4.5 2.6 -4.2 2.3 -3.7 1.8 -3.5 1.5 -3.8 1.7 -4.4 2 -4.7 2 -4.9 2 -3.8 1.2 -3.9 1.1 -4.1 1.2 -4.5 1.4 -4.1 1.4 -4.6 1.6 -4.6 1.6 -4.6 1.6 -4 1.4 -4.3 1.6 -3.9 1.6 -3.6 1.3 -3.5 0.8 -4.7 0.3 -4.4-0.3 -4.4-0.8 -3.6-0.9 -3.5-1.4 -5.9-2.7 -2.9-1.3 -3.5-1.6 -3.8-1.8 -4.1-2 -4.2-2 -4.3-2 -4.3-2 -4.1-2 -3.8-1.8 -4.3-2 -4.5-2.1 -4.5-2.1 -4.4-2.1 -4.1-1.9 -3.7-1.7 -3.1-1.5 -2.4-1.1M196.4 650l0.3 3.6 0.6 5.2 1.3 5.8 1.4 3.7 1.8 4 1.9 4.2 1.9 4 1.7 3.7 2.3 5.8 2 5.3 1.4 3.7M247 634l-2 3.1 -2.8 4.3 -2.2 4.6 -1 4.4 -0.5 4.6 -0.5 4.5 -0.9 4.3 -1 4.1 -0.6 4.1 -0.1 4 0.3 3.9 1.3 4.1 1.8 3.5 2.5 3.8 2.8 3.6 2.9 2.8 4.1 2.2 4.5 1.1 4.4 1 3.7 0.8 3.7 0.7 5.3 1.5 3.4 1.2 4.1 1.7 4.6 1.8 4.6 1.9 4.4 1.8 3.6 1.5 2.6 1.1M214 733l2.9 2.8 4 4 4.1 4.2 2.9 3.4 3.1 3.8 2.8 3.4 1.9 2.4M10 706.2l2.4 0.1 3 0.1 3.6 0.2 4 0.1 4.3 0.2 4.6 0.2 4.7 0.2 4.9 0.2 4.8 0.2 4.8 0.3 4.6 0.2 4.3 0.3 4.2 0.3 4.2 0.3 4.3 0.3 4.3 0.4 4.3 0.4 4.3 0.3 4.3 0.4 4.2 0.4 4.1 0.5 4 0.4 4 0.4 3.8 0.4 4.6 0.5 4.7 0.6 4.7 0.6 4.6 0.7 4.5 0.6 4.3 0.6 3.9 0.6 3.4 0.5 3 0.5 2.3 0.3M10 710.2l2.4 0.1 3 0.1 3.6 0.1 4 0.1 4.3 0.1 4.6 0.2 4.7 0.1 4.9 0.2 4.8 0.2 4.8 0.2 4.6 0.2 4.3 0.2 4.2 0.3 4.2 0.2 4.3 0.3 4.3 0.3 4.3 0.4 4.3 0.3 4.3 0.4 4.2 0.3 4.1 0.4 4 0.3 4 0.4 3.8 0.4 4.6 0.5 4.7 0.5 4.7 0.6 4.6 0.6 4.5 0.6 4.3 0.5 3.9 0.5 3.4 0.5 3 0.4 2.3 0.3M262 700l2.2 2.8 3.8 4.2 2.9 2.7 3.5 3.2 3.3 3 2.3 2.1"/>
<path id="c_o_cs" d="M150 694.5l2.2 0.6 2.9 0.9 3.3 0.9 3.8 1.1 4.1 1.1 4.3 1.3 4.5 1.3 4.5 1.2 4.5 1.3 4.4 1.3 4.1 1.2 3.9 1.1 3.5 1 4.5 1.3 4.3 1.2 4 1.2 3.8 1.1 3.7 1.1 3.6 1 3.6 1.1 3.7 1.1 3.8 1.1 4.1 1.2 4.3 1.3 4.6 1.4 4.5 1.3 4.3 1.3 4.1 1.3 3.7 1.1 3 0.9 2.4 0.7"/>
<path id="c_o_c1" d="M30.4 681.9l8.7 0.3 4 0.2 4.7 0.2 5.1 0.2 5.4 0.3 5.5 0.3 5.6 0.4 5.5 0.4 5.2 0.5 5.1 0.5 5.2 0.6 5.2 0.6 5.1 0.6 5.1 0.6 5 0.6 4.7 0.6 4.5 0.6 5.5 0.7 5.1 0.6 4.7 0.5 4.7 0.6 4.8 0.8 5.2 0.9 5.1 1 5.6 1.2 5.8 1.4 5.8 1.3 5.2 1.3 4.4 1.1 3.2 0.8M24.1 683l6.2 0.3 8.7 0.4 4.1 0.2 4.6 0.2 5.1 0.2 5.4 0.2 5.5 0.3 5.6 0.3 5.5 0.2 5.2 0.4 5.1 0.3 5.2 0.4 5.2 0.4 5.2 0.5 5.1 0.5 5 0.5 4.7 0.5 4.5 0.5 5.5 0.6 5.1 0.6 4.7 0.6 4.7 0.7 4.8 0.7 5.2 1 5 1.1 5.6 1.4 5.8 1.4 5.7 1.5 5.2 1.4 4.4 1.2 3.2 0.8M30.4 688.2l8.7 0.1 4 0.1 4.7 0.1 5.1 0.1 5.3 0.2 5.6 0.1 5.6 0.2 5.4 0.2 5.3 0.3 5.1 0.3 5.2 0.3 5.2 0.3 5.2 0.4 5 0.3 5 0.4 4.7 0.4 4.5 0.4 5.4 0.3 4.6 0.3 4.4 0.2 4.5 0.4 5.1 0.6 6 1.1 4.5 0.9 5 1.2 5.6 1.3 5.9 1.5 5.9 1.5 5.7 1.5 5.4 1.3 4.9 1.3 4 1 3.1 0.8M20 688.9l4.1 0.2 6.2 0.2 8.7 0.4 4.1 0.1 4.6 0.2 5.1 0.2 5.4 0.2 5.5 0.1 5.6 0.2 5.5 0.3 5.2 0.2 5.1 0.2 5.2 0.3 5.2 0.3 5.2 0.3 5.1 0.3 4.9 0.3 4.8 0.3 4.5 0.3 5.3 0.3 4.7 0.2 4.4 0.2 4.4 0.3 5.1 0.5 6 1 4.4 0.9 5.1 1.1 5.6 1.3 5.8 1.4 6 1.4 5.7 1.4 5.4 1.4 4.9 1.2 4.1 0.9 3 0.8"/>
<path id="c_o_c2" d="M20 682.7l4.1 0.2 6.2 0.3 8.7 0.4 4.1 0.2 4.6 0.2 5.1 0.1 5.4 0.2 5.5 0.2 5.6 0.1 5.5 0.2 5.3 0.3 5.1 0.2 5.2 0.4 5.2 0.4 5.2 0.5 5.1 0.4 4.9 0.6 4.8 0.5 4.5 0.6 5.5 0.7 5 0.6 4.8 0.6 4.7 0.8 4.8 0.8 5.2 1 5 1.1 5.6 1.3 5.8 1.5 5.7 1.4 5.3 1.3 4.4 1.2 3.2 0.7M19.9 683.8l4.1 0.3 6.2 0.5 8.7 0.7 4.1 0.2 4.6 0.3 5.1 0.2 5.4 0.2 5.5 0.1 5.6 0.2 5.5 0.1 5.2 0.1 5.2 0.2 5.2 0.2 5.2 0.3 5.2 0.3 5.1 0.4 4.9 0.4 4.8 0.5 4.5 0.5 5.5 0.6 5.1 0.6 4.7 0.6 4.7 0.6 4.8 0.8 5.2 1 5 1.1 5.6 1.3 5.8 1.5 5.7 1.4 5.2 1.3 4.4 1.2 3.2 0.7M20 688.1l4.1 0.3 6.3 0.4 8.6 0.7 4.1 0.3 4.6 0.3 5.1 0.4 5.4 0.3 5.5 0.3 5.6 0.4 5.4 0.2 5.3 0.3 5.1 0.2 5.2 0.1 5.2 0.2 5.2 0.1 5.1 0.1 4.9 0.2 4.8 0.1 4.5 0.2 5.4 0.1 4.6 0 4.4 0.1 4.5 0.3 5.1 0.5 6.1 0.9 4.4 0.8 5.1 1.2 5.6 1.3 5.8 1.4 6 1.5 5.7 1.5 5.4 1.4 4.8 1.3 4.1 1.1 3 0.7M24.1 690.2l6.2 0.2 8.7 0.3 4 0.1 4.7 0.1 5.1 0.1 5.4 0.2 5.5 0.2 5.6 0.1 5.4 0.3 5.3 0.2 5.1 0.2 5.2 0.3 5.2 0.2 5.1 0.3 5.1 0.3 5 0.2 4.7 0.3 4.6 0.3 5.3 0.2 4.7 0.2 4.3 0.1 4.5 0.2 5 0.6 6.1 0.9 4.4 0.8 5.1 1.1 5.5 1.3 5.9 1.3 5.9 1.5 5.8 1.4 5.4 1.3 4.8 1.2 4.1 1 3.1 0.8"/>
<path id="c_g_c1" d="M151.7 691.4l4.6 0.5 5.6 0.7 6.1 0.7 6.4 0.8 6.4 0.9 4.6 0.9 4.7 1 4.8 1.1 4.9 1 5.1 1.2 5.2 1.1 5.6 1.1 5.8 1.2 4.5 0.9 4.8 0.9 5 1 5.1 1.1 5.3 1 5.3 1.2 5.2 1.2 5.2 1.2 5.1 1.2 4.9 1.2 4.7 1.2 5.5 1.5 5.5 1.5 5.3 1.4 5.3 1.5 5.1 1.5 4.9 1.4 4.8 1.3 4.5 1.3 4.2 1.1 5.6 1.3 4.7 1 4.3 0.9 4.4 0.9 5.1 1 6.1 1.4 4.2 1.2 4.6 1.2 4.8 1.3 5.1 1.4 5.2 1.4 5.3 1.4 5.4 1.5 5.3 1.4 5.2 1.4 5.1 1.4 5 1.4 5 1.5 5 1.4 5 1.5 5 1.5 5 1.4 5 1.5 5 1.5 5 1.5 4.9 1.5 5 1.5 5 1.5 5 1.4 5 1.4 5.1 1.4 5 1.3 5.1 1.3 5.1 1.3 5.1 1.3 5.1 1.3 5.4 1.3 5.7 1.4 6 1.4 5.9 1.5 5.9 1.4 5.6 1.4 5.2 1.3 4.7 1.2 3.8 1.1 3.1 0.8M161.9 692.4l6.2 0.6 6.4 0.7 6.4 0.9 4.6 1 4.7 1.1 4.7 1.2 4.8 1.3 5 1.4 5.2 1.5 5.4 1.5 5.8 1.7 4.4 1.2 4.7 1.3 4.9 1.3 5.1 1.3 5.1 1.4 5.3 1.3 5.2 1.2 5.2 1.3 5.1 1.2 4.9 1.1 4.7 1 5.6 1.3 5.6 1.2 5.4 1.3 5.3 1.2 5.2 1.3 4.9 1.2 4.8 1.2 4.6 1.2 4.2 1.2 5.6 1.4 4.6 1.1 4.3 1 4.4 1.1 5 1.4 5.9 1.7 4.2 1.3 4.5 1.5 4.7 1.6 5 1.6 5.2 1.6 5.2 1.6 5.3 1.6 5.3 1.5 5.3 1.4 5.1 1.4 5 1.3 5 1.3 5.1 1.2 5 1.3 5.1 1.2 5 1.3 5.1 1.3 5 1.3 5 1.3 5.1 1.4 5 1.4 5 1.4 5 1.4 5 1.5 5 1.5 5 1.4 5 1.5 5.1 1.5 5 1.4 5 1.5 5.3 1.5 5.7 1.5 5.9 1.6 5.9 1.6 5.9 1.5 5.6 1.4 5.2 1.3 4.6 1.2 3.9 1 3 0.7M156 693.5l5.5 0.9 6.1 1.1 6.3 1.3 6.1 1.4 4.5 1.2 4.6 1.4 4.6 1.4 4.8 1.6 4.9 1.6 5.1 1.8 5.4 1.8 5.6 1.9 4.4 1.4 4.7 1.5 4.8 1.5 5.1 1.5 5.1 1.4 5.2 1.4 5.3 1.4 5.1 1.2 5.1 1.2 5 1.1 4.7 1 5.6 1.1 5.6 1.2 5.4 1.1 5.4 1.1 5.2 1.2 5 1.1 4.9 1 4.6 1 4.3 1 5.7 1.2 4.8 1 4.3 0.8 4.4 0.8 5 0.9 6 1.3 4.3 0.9 4.6 0.9 4.9 1 5.1 1 5.3 1 5.5 1 5.4 1 5.5 0.9 5.4 0.9 5.2 0.8 5.2 0.9 5.1 0.9 5.2 1 5.1 1 5.1 1.1 5.1 1.1 5 1.3 5.1 1.3 5 1.4 5 1.4 5 1.5 5 1.5 4.9 1.6 5 1.6 5 1.6 4.9 1.6 5 1.6 5 1.6 5 1.6 5 1.6 5.3 1.6 5.6 1.9 5.8 1.9 5.8 1.9 5.7 2 5.4 1.9 5 1.9 4.5 1.7 3.7 1.5 2.9 1.1M147.9 692.8l3.4 0.6 4.6 0.8 5.5 1 6.1 1.1 6.2 1.2 6.2 1.3 4.5 1.1 4.6 1.1 4.7 1.2 4.8 1.4 5 1.3 5.2 1.5 5.5 1.5 5.7 1.6 4.4 1.3 4.7 1.3 4.9 1.4 5 1.5 5.2 1.6 5.1 1.5 5.2 1.6 5.1 1.5 5 1.5 4.8 1.5 4.7 1.4 5.5 1.6 5.4 1.6 5.4 1.5 5.2 1.4 5.2 1.4 5 1.3 4.8 1.1 4.6 1.1 4.4 0.9 5.7 1.2 4.8 0.8 4.4 0.7 4.4 0.7 5 0.8 6.1 1.1 4.2 0.8 4.6 0.9 4.9 0.9 5.1 1.1 5.3 1.1 5.4 1.1 5.4 1.3 5.4 1.2 5.3 1.3 5.1 1.2 5 1.3 5.1 1.3 5 1.4 5 1.4 5 1.4 5 1.4 5 1.5 5 1.5 5 1.4 5 1.5 4.9 1.5 5 1.5 5 1.5 5 1.4 5 1.5 5 1.5 5 1.5 5 1.5 5 1.5 5 1.5 5.3 1.7 5.5 1.8 5.8 1.9 5.8 2 5.7 2 5.4 2 5 1.9 4.5 1.6 3.7 1.5 3 1.1M151.2 694.2l4.6 0.7 5.5 0.8 6.1 1 6.3 1.1 6.2 1.2 4.5 0.9 4.6 1.1 4.7 1.2 4.8 1.3 5 1.4 5.2 1.6 5.4 1.6 5.7 1.7 4.4 1.3 4.7 1.4 4.9 1.4 5 1.5 5.2 1.4 5.2 1.4 5.2 1.4 5.2 1.3 5 1.3 4.9 1.3 4.7 1.2 5.6 1.4 5.4 1.5 5.4 1.5 5.2 1.5 5.1 1.6 4.9 1.6 4.8 1.5 4.5 1.5 4.2 1.4 5.6 1.9 4.7 1.5 4.2 1.4 4.3 1.3 4.7 1.5 5.8 1.8 4.1 1.2 4.5 1.3 4.8 1.3 5 1.3 5.3 1.2 5.3 1.2 5.5 1.2 5.4 1.1 5.3 1 5.2 1 5.1 1.1 5.1 1 5.1 1.1 5.1 1.2 5 1.2 5.1 1.2 5 1.4 5 1.3 5 1.4 5 1.5 5 1.4 5 1.4 5 1.4 5.1 1.4 5 1.4 5 1.4 5 1.4 5 1.4 5 1.4 5.1 1.5 5.2 1.6 5.5 1.8 5.8 2 5.7 2.1 5.6 2.2 5.4 2.2 4.9 2 4.4 1.9 3.7 1.6 2.9 1.3M155.8 694.9l5.5 1 6 1.2 6.3 1.3 6.1 1.4 4.5 1 4.6 1.2 4.6 1.2 4.8 1.3 5 1.5 5.2 1.4 5.5 1.6 5.7 1.6 4.4 1.3 4.7 1.3 4.9 1.4 5 1.5 5.2 1.5 5.2 1.6 5.1 1.6 5.1 1.5 5 1.6 4.8 1.5 4.6 1.4 5.5 1.8 5.4 1.8 5.3 1.7 5.2 1.7 5.1 1.7 4.9 1.6 4.7 1.5 4.5 1.4 4.4 1.4 5.6 1.8 4.8 1.4 4.2 1.2 4.3 1.2 4.7 1.5 5.8 1.8 4 1.2 4.5 1.3 4.8 1.4 4.9 1.4 5.2 1.5 5.3 1.5 5.3 1.4 5.3 1.5 5.3 1.4 5.1 1.3 5 1.2 5.1 1.3 5 1.2 5.1 1.2 5 1.2 5.1 1.1 5 1.2 5.1 1.2 5.1 1.1 5.1 1.2 5.1 1.2 5 1.1 5.1 1.1 5.1 1.2 5.1 1.2 5 1.2 5.1 1.2 5.1 1.2 5 1.3 5.1 1.4 5.2 1.4 5.6 1.6 5.8 1.7 5.9 1.8 5.7 1.8 5.5 1.8 5.1 1.7 4.5 1.5 3.8 1.3 3 1M155.7 695.3l5.4 1.5 5.9 1.9 6.1 2 5.9 2.2 4.3 1.5 4.4 1.5 4.6 1.6 4.7 1.6 4.9 1.6 5.2 1.6 5.4 1.6 5.8 1.6 4.5 1.2 4.7 1.2 4.9 1.2 5.1 1.3 5.2 1.3 5.2 1.4 5.2 1.4 5.2 1.4 5 1.4 4.8 1.5 4.7 1.4 5.4 1.7 5.4 1.8 5.4 1.7 5.2 1.6 5.1 1.5 5 1.4 4.8 1.3 4.6 1.1 4.4 1.1 5.7 1.3 4.9 0.9 4.4 0.8 4.3 0.8 4.9 0.9 5.9 1.2 4.2 0.8 4.6 1 4.8 1 5.1 1.2 5.2 1.3 5.3 1.5 5.3 1.5 5.3 1.5 5.2 1.6 5 1.5 5 1.5 5 1.4 5 1.4 5 1.4 5 1.4 5 1.3 5.1 1.3 5 1.2 5 1.3 5.1 1.3 5 1.2 5.1 1.4 5 1.3 5 1.5 5 1.5 4.9 1.7 4.9 1.7 4.9 1.8 4.9 1.8 4.8 1.9 5.1 2.1 5.4 2.2 5.6 2.3 5.7 2.3 5.6 2.2 5.4 2 5 1.8 4.5 1.6 3.8 1.3 3 1M233.5 707.8l5.1 1 5.4 1.1 5.6 1 5.7 1.1 5.6 1.2 5.5 1.1 5.2 1.1 4.8 1 5.6 1.2 5.5 1.2 5.5 1.3 5.3 1.3 5.1 1.2 5 1.2 4.8 1.2 4.5 1.1 4.3 1.1 5.6 1.1 4.6 0.9 4.3 0.8 4.5 0.8 5.1 1 6.2 1.3 4.3 1.2 4.5 1.2 4.8 1.4 5.1 1.4 5.2 1.4 5.3 1.4 5.4 1.5 5.3 1.5 5.2 1.4 5.1 1.4 5 1.5 5 1.4 5 1.5 5 1.5 4.9 1.6 5 1.6 5 1.6 4.9 1.6 4.9 1.7 5 1.7 4.9 1.8 4.9 1.8 4.9 1.8 4.8 1.9 4.9 1.8 4.9 1.9 4.9 1.9 4.9 1.8 4.9 1.9 4.9 1.9 5.2 2 5.4 2.1 5.7 2.2 5.8 2.1 5.6 2.1 5.5 2 5 1.7 4.5 1.6 3.8 1.3 3 1M224.6 706.2l4 1.2 4.6 1.3 5 1.6 5.3 1.6 5.4 1.7 5.5 1.7 5.5 1.8 5.3 1.7 5.1 1.6 4.7 1.5 5.4 1.7 5.4 1.7 5.4 1.6 5.2 1.6 5.1 1.4 5 1.4 4.7 1.3 4.6 1.2 4.3 1 5.7 1.2 4.8 0.9 4.4 0.7 4.4 0.6 5 0.8 6.1 1 4.3 0.8 4.7 0.8 4.9 0.9 5.2 0.9 5.3 0.9 5.5 0.9 5.5 0.9 5.4 1 5.4 0.9 5.2 1 5.1 1 5.2 1 5.1 1.1 5 1.2 5.1 1.2 5 1.3 5.1 1.3 5 1.4 5 1.5 5 1.6 4.9 1.6 4.9 1.7 4.9 1.8 4.9 1.8 4.9 1.9 4.9 1.9 4.9 1.9 4.9 2 4.8 2.1 4.9 2 5.1 2.2 5.4 2.3 5.6 2.4 5.7 2.4 5.5 2.3 5.4 2.2 5 2 4.4 1.7 3.8 1.3 3 1.1M211.7 706.3l8.5 2.3 3.5 0.9 4.1 1 4.7 1.2 5 1.3 5.3 1.4 5.5 1.5 5.6 1.4 5.5 1.5 5.4 1.5 5.1 1.4 4.8 1.3 5.5 1.6 5.4 1.5 5.4 1.5 5.3 1.5 5.1 1.4 4.9 1.3 4.8 1.3 4.6 1.1 4.3 1.1 5.7 1.3 4.8 0.9 4.3 0.8 4.4 0.8 5 0.9 6.1 1.2 4.2 0.8 4.6 1 4.9 1 5.1 1 5.3 1.1 5.4 1 5.5 1.1 5.4 1.1 5.4 1.1 5.2 1 5 1.1 5.1 1.1 5.1 1.1 5.1 1.2 5.1 1.2 5 1.3 5 1.3 5.1 1.3 5 1.4 5 1.5 5 1.5 4.9 1.6 5 1.5 5 1.6 4.9 1.7 5 1.7 4.9 1.7 5 1.7 4.9 1.7 5 1.8 5.1 1.9 5.6 2 5.7 2.1 5.7 2.1 5.7 2 5.4 2 5 1.8 4.5 1.6 3.8 1.4 3 1M231.9 713.7l5.2 0.7 5.5 0.7 5.7 0.8 5.7 0.9 5.7 0.8 5.5 1 5.3 0.9 4.8 1 5.6 1.2 5.5 1.3 5.4 1.4 5.3 1.4 5.1 1.4 5 1.4 4.7 1.3 4.5 1.4 4.3 1.2 5.6 1.6 4.6 1.2 4.3 1.2 4.3 1.2 4.9 1.5 5.8 2.1 4.1 1.5 4.4 1.8 4.6 1.9 4.9 2 5 2.2 5.1 2.2 5.1 2.2 5.1 2.1 5.1 2.1 4.9 1.9 4.9 1.8 4.9 1.6 5 1.5 5 1.4 5.1 1.1 5.1 1.1 5.1 0.8 5.2 0.8 5.3 0.6 5.2 0.5 5.3 0.4 5.3 0.4 5.3 0.4 5.3 0.5 5.3 0.5 5.2 0.6 5.3 0.8 5.2 0.9 5.1 1.1 5.1 1.2 5.3 1.5 5.6 1.8 5.8 2 5.7 2.2 5.6 2.4 5.3 2.3 4.9 2.2 4.4 2 3.6 1.7 2.9 1.3M227.9 710.1l4.7 1.2 5 1.3 5.3 1.3 5.5 1.5 5.6 1.5 5.5 1.5 5.4 1.5 5.1 1.5 4.7 1.4 5.5 1.6 5.4 1.6 5.4 1.6 5.2 1.6 5.1 1.5 4.9 1.5 4.8 1.5 4.5 1.3 4.3 1.3 5.6 1.6 4.7 1.2 4.3 1.1 4.3 1.1 4.9 1.3 5.9 1.7 4.1 1.3 4.5 1.3 4.7 1.5 5 1.5 5.2 1.5 5.2 1.6 5.3 1.7 5.3 1.6 5.2 1.6 5 1.5 5 1.5 5 1.5 4.9 1.6 5 1.5 4.9 1.5 5 1.6 4.9 1.6 5 1.6 4.9 1.6 5 1.6 4.9 1.6 5 1.6 4.9 1.6 5 1.6 4.9 1.6 5 1.7 4.9 1.6 5 1.6 4.9 1.6 4.9 1.7 5.2 1.7 5.5 1.8 5.8 1.9 5.8 1.9 5.7 1.8 5.5 1.8 5.1 1.5 4.5 1.4 3.9 1.2 3 0.8M226.9 713.9l4.6 1.5 5 1.5 5.2 1.7 5.5 1.7 5.5 1.6 5.5 1.7 5.3 1.6 5.1 1.4 4.8 1.4 5.5 1.5 5.4 1.6 5.4 1.4 5.3 1.5 5.1 1.3 5 1.3 4.8 1.3 4.6 1.2 4.3 1.1 5.7 1.5 4.8 1.1 4.3 1.1 4.3 1 4.8 1.3 5.9 1.7 4.1 1.2 4.5 1.3 4.7 1.4 5 1.5 5.1 1.6 5.2 1.7 5.3 1.7 5.2 1.7 5.2 1.7 5 1.6 5 1.6 4.9 1.6 5 1.6 4.9 1.5 5 1.6 4.9 1.5 5 1.5 5 1.5 5 1.4 5 1.5 5 1.3 5 1.4 5 1.3 5.1 1.3 5 1.3 5 1.3 5.1 1.3 5 1.4 5 1.3 5 1.4 5.3 1.4 5.6 1.6 5.7 1.7 5.9 1.8 5.7 1.8 5.5 1.8 5.1 1.6 4.5 1.5 3.9 1.3 2.9 0.9M227.8 710.7l4.6 1.3 5 1.5 5.2 1.6 5.5 1.7 5.5 1.8 5.4 1.8 5.3 1.7 5.1 1.7 4.7 1.5 5.4 1.7 5.5 1.6 5.3 1.6 5.3 1.4 5.1 1.4 5 1.3 4.8 1.3 4.6 1.2 4.3 1.1 5.7 1.5 4.7 1.2 4.3 1.1 4.3 1.2 4.8 1.5 5.8 2 4 1.4 4.4 1.6 4.7 1.7 4.9 1.9 5 1.9 5.1 2 5.2 1.9 5.2 2 5.1 1.8 5.1 1.7 4.9 1.6 4.9 1.5 5 1.5 5 1.5 5 1.4 5 1.5 4.9 1.5 5 1.4 5 1.6 4.9 1.5 5 1.6 4.9 1.6 5 1.7 4.9 1.7 4.9 1.7 4.9 1.8 4.9 1.7 4.9 1.7 4.9 1.7 4.9 1.7 5.1 1.7 5.5 1.7 5.8 1.8 5.9 1.7 5.8 1.6 5.5 1.5 5.2 1.4 4.6 1.3 3.9 1 3 0.8"/>
<path id="c_g_c2" d="M156.3 692.2l5.5 0.6 6.2 0.8 6.4 1 6.2 1.1 4.6 1.2 4.6 1.2 4.7 1.4 4.8 1.4 4.9 1.5 5.2 1.6 5.4 1.6 5.8 1.5 4.4 1.2 4.7 1.2 5 1.2 5.1 1.1 5.2 1.1 5.3 1.1 5.3 1.1 5.3 1 5.1 0.9 5 1 4.7 0.9 5.7 1.1 5.5 1.1 5.5 1.2 5.3 1.2 5.2 1.2 5 1.2 4.8 1.2 4.5 1.1 4.3 1 5.6 1.2 4.7 0.9 4.3 0.7 4.5 0.7 5.1 0.9 6.2 1.1 4.3 1 4.6 1 4.9 1 5.2 1 5.3 1.1 5.4 1.1 5.4 1.1 5.4 1.2 5.3 1.1 5.2 1.2 5 1.3 5.1 1.3 5 1.4 5 1.5 5 1.5 4.9 1.5 5 1.6 5 1.6 4.9 1.6 5 1.7 4.9 1.6 5 1.6 5 1.5 4.9 1.5 5.1 1.5 5 1.5 5 1.4 5.1 1.5 5 1.4 5.1 1.5 5.3 1.6 5.6 1.7 5.8 1.9 5.8 2 5.7 2.1 5.4 2 5 2 4.4 1.7 3.7 1.5 2.9 1.2M151.5 692.4l4.6 0.6 5.6 0.6 6.1 0.8 6.4 0.8 6.3 1 4.6 0.9 4.7 1 4.7 1.1 4.9 1.1 5.1 1.2 5.2 1.3 5.5 1.3 5.8 1.5 4.4 1.1 4.8 1.1 4.9 1.3 5.1 1.3 5.1 1.3 5.2 1.4 5.3 1.4 5.1 1.4 5 1.4 4.9 1.4 4.6 1.3 5.6 1.5 5.4 1.5 5.4 1.5 5.3 1.4 5.1 1.4 5 1.4 4.7 1.2 4.6 1.2 4.3 1 5.6 1.3 4.7 0.9 4.4 0.8 4.4 0.9 5 1 6.1 1.3 4.2 1 4.6 1.1 4.9 1.2 5 1.3 5.3 1.2 5.3 1.3 5.4 1.4 5.4 1.3 5.2 1.3 5.2 1.2 5 1.3 5.1 1.2 5 1.3 5 1.3 5.1 1.3 5 1.4 5 1.3 5.1 1.4 5 1.4 5 1.4 5 1.4 5 1.4 5 1.5 5 1.5 5 1.5 5 1.5 5 1.5 5 1.6 5 1.6 5 1.6 5.2 1.7 5.6 1.9 5.7 2 5.8 2 5.7 2 5.5 1.9 5 1.7 4.5 1.6 3.8 1.3 3 1M148.3 690.9l3.4 0.5 4.6 0.7 5.5 0.9 6.1 1 6.3 1.1 6.3 1.2 4.5 1.1 4.6 1.2 4.7 1.3 4.9 1.3 5 1.4 5.2 1.5 5.4 1.6 5.7 1.7 4.4 1.4 4.6 1.5 4.8 1.7 5 1.8 5 1.9 5.1 2 5 2 5 1.9 4.9 1.9 4.8 1.8 4.5 1.6 5.5 1.8 5.4 1.7 5.4 1.5 5.2 1.4 5.2 1.2 5.1 1 4.9 0.9 4.7 0.8 4.4 0.7 5.8 0.9 4.9 0.6 4.4 0.5 4.4 0.5 5 0.7 6.2 0.9 4.3 0.6 4.6 0.8 4.9 0.9 5.2 0.8 5.3 1 5.5 0.9 5.5 0.9 5.5 0.8 5.4 0.9 5.2 0.8 5.2 0.9 5.1 0.9 5.2 1 5.1 1.1 5 1.2 5 1.3 5 1.6 5 1.6 4.9 1.8 4.8 2 4.8 2.1 4.8 2.3 4.7 2.3 4.8 2.3 4.7 2.4 4.8 2.3 4.7 2.4 4.8 2.3 4.8 2.2 4.8 2.1 5 2.2 5.4 2.3 5.6 2.3 5.7 2.2 5.7 2.1 5.4 2 5 1.9 4.5 1.6 3.8 1.3 2.9 1.1M151.7 691.4l4.6 0.5 5.6 0.7 6.1 0.9 6.3 1.3 6.2 1.5 4.5 1.4 4.5 1.5 4.6 1.6 4.7 1.7 4.9 1.8 5.1 1.9 5.3 1.9 5.7 1.8 4.4 1.4 4.7 1.4 4.8 1.5 5.1 1.5 5.1 1.5 5.2 1.5 5.2 1.5 5.1 1.6 4.9 1.6 4.9 1.6 4.5 1.5 5.5 1.9 5.3 1.9 5.3 1.8 5.2 1.8 5 1.7 5 1.5 4.7 1.4 4.6 1.2 4.4 1 5.8 1.2 4.8 0.8 4.4 0.6 4.5 0.6 4.9 0.6 6.1 0.8 4.3 0.5 4.7 0.6 5 0.7 5.1 0.8 5.4 0.9 5.4 1 5.5 1 5.4 1.1 5.3 1.2 5.2 1 5.1 1.1 5.1 1.1 5.1 1.1 5.1 1 5.1 1.1 5.1 1 5.1 1 5.1 1.1 5.1 1.1 5.1 1.2 5 1.3 5.1 1.4 4.9 1.5 5 1.7 4.9 1.8 4.9 1.9 4.8 2 4.8 2.2 4.8 2.2 4.8 2.3 5 2.4 5.3 2.6 5.5 2.7 5.6 2.6 5.5 2.5 5.3 2.3 4.9 2.1 4.5 1.8 3.7 1.5 2.9 1.2M161.5 694.8l6 1 6.3 1.2 6.2 1.3 4.5 1.2 4.6 1.2 4.7 1.3 4.7 1.5 5 1.6 5.1 1.7 5.4 1.8 5.6 2 4.4 1.5 4.6 1.6 4.8 1.7 5 1.7 5 1.8 5.2 1.7 5.1 1.8 5.1 1.6 5 1.6 4.8 1.5 4.6 1.4 5.5 1.6 5.5 1.6 5.3 1.5 5.3 1.4 5.2 1.3 5 1.3 4.8 1.2 4.6 1.1 4.4 1 5.7 1.4 4.8 1.1 4.3 1 4.3 1 4.8 1.1 5.9 1.5 4.2 1.1 4.5 1.1 4.8 1.2 5 1.3 5.2 1.4 5.4 1.3 5.3 1.3 5.4 1.3 5.3 1.3 5.1 1.1 5.1 1.1 5.1 1.1 5.1 1.1 5.1 1 5.1 1 5.1 1 5.2 1 5.1 1.1 5.1 1 5.1 1.2 5.1 1.1 5 1.2 5.1 1.3 5 1.3 5 1.5 5 1.5 5 1.5 4.9 1.7 4.9 1.7 5 1.9 5.1 1.9 5.4 2.2 5.6 2.3 5.7 2.4 5.6 2.3 5.3 2.3 4.9 2 4.5 1.8 3.7 1.5 2.9 1.2M151.1 694.5l4.6 1 5.4 1.3 6 1.5 6.1 1.7 6 1.9 4.4 1.2 4.5 1.4 4.6 1.5 4.7 1.5 4.9 1.7 5.2 1.7 5.4 1.8 5.7 1.8 4.4 1.3 4.7 1.5 4.8 1.4 5.1 1.4 5.1 1.4 5.3 1.4 5.2 1.4 5.2 1.2 5 1.3 5 1.1 4.7 1.2 5.5 1.3 5.5 1.4 5.4 1.3 5.3 1.4 5.2 1.4 5 1.3 4.7 1.3 4.6 1.3 4.3 1.2 5.7 1.7 4.8 1.4 4.2 1.1 4.3 1.2 4.7 1.4 5.8 1.8 4.1 1.2 4.5 1.3 4.7 1.4 5 1.4 5.2 1.4 5.3 1.4 5.4 1.4 5.3 1.3 5.3 1.4 5.1 1.2 5.1 1.2 5 1.2 5.1 1.3 5 1.2 5 1.3 5 1.4 5 1.4 5 1.4 5 1.5 5 1.5 4.9 1.6 5 1.6 5 1.6 4.9 1.6 4.9 1.6 5 1.6 4.9 1.7 4.9 1.6 5 1.6 4.9 1.6 5.2 1.6 5.5 1.8 5.8 1.8 5.8 1.8 5.8 1.7 5.5 1.7 5.1 1.6 4.6 1.3 3.8 1.2 3 1M212.3 704.2l8.4 2.3 3.5 0.9 4.2 1.1 4.6 1.1 5.1 1.3 5.3 1.2 5.6 1.2 5.7 1.2 5.6 1 5.5 1 5.2 0.9 4.9 0.8 5.7 0.9 5.6 0.8 5.6 0.9 5.4 0.8 5.3 0.9 5 0.8 4.9 0.9 4.6 0.8 4.3 0.9 5.6 0.9 4.7 0.8 4.3 0.7 4.5 0.8 5.1 1.1 6.2 1.5 4.2 1.3 4.5 1.4 4.8 1.6 5 1.7 5.1 1.7 5.2 1.8 5.3 1.8 5.2 1.7 5.2 1.7 5 1.7 4.9 1.6 5 1.6 4.9 1.6 5 1.6 4.9 1.6 5 1.6 5 1.6 4.9 1.6 5 1.6 4.9 1.7 4.9 1.7 5 1.6 4.9 1.7 5 1.6 4.9 1.7 5 1.6 5 1.6 5 1.5 5 1.5 5 1.5 5.3 1.4 5.7 1.5 5.9 1.5 6 1.4 5.9 1.4 5.7 1.2 5.3 1.1 4.7 0.9 3.9 0.8 3.1 0.7M224.6 706l4.2 1 4.6 1.1 5.1 1.2 5.3 1.3 5.6 1.3 5.6 1.3 5.5 1.3 5.5 1.4 5.1 1.2 4.8 1.2 5.5 1.4 5.5 1.4 5.4 1.4 5.3 1.4 5.1 1.4 5 1.3 4.7 1.4 4.6 1.2 4.2 1.2 5.6 1.5 4.6 1.1 4.3 1 4.4 1.1 4.9 1.3 6 1.7 4.2 1.3 4.5 1.5 4.7 1.5 5 1.6 5.2 1.6 5.2 1.7 5.3 1.6 5.3 1.6 5.2 1.5 5.1 1.5 5 1.4 5 1.3 5 1.3 5.1 1.3 5 1.2 5.1 1.2 5.1 1.2 5.1 1.2 5 1.1 5.1 1.1 5.1 1.1 5.1 1.1 5.2 1 5.1 1.1 5.1 1.1 5.1 1.1 5.1 1.1 5.2 1.2 5.1 1.2 5.1 1.2 5.4 1.4 5.7 1.5 5.8 1.6 6 1.7 5.8 1.7 5.5 1.6 5.1 1.6 4.5 1.5 3.9 1.2 2.9 1M224 708.2l4.2 1 4.6 1.1 5.1 1.1 5.4 1.1 5.6 1.2 5.7 1.1 5.6 1.1 5.4 1.2 5.2 1.1 4.8 1.1 5.6 1.3 5.5 1.3 5.4 1.5 5.3 1.4 5.1 1.5 4.9 1.4 4.7 1.4 4.5 1.3 4.3 1.3 5.6 1.4 4.7 1.1 4.3 0.9 4.4 0.9 5 1 6.1 1.4 4.2 1.1 4.6 1.1 4.8 1.2 5.1 1.3 5.2 1.3 5.3 1.4 5.4 1.5 5.3 1.5 5.2 1.6 5 1.5 5 1.6 4.9 1.7 4.9 1.7 4.9 1.7 4.9 1.7 5 1.7 4.9 1.7 4.9 1.6 5 1.6 5 1.5 5 1.5 5 1.4 5 1.3 5.1 1.3 5 1.3 5.1 1.2 5.1 1.3 5 1.2 5.1 1.4 5.1 1.4 5.3 1.5 5.6 1.7 5.7 1.8 5.9 2 5.7 1.9 5.4 1.9 5.1 1.7 4.5 1.6 3.8 1.2 3 1M211.1 708.5l8.6 1.9 3.5 0.7 4.2 0.9 4.8 0.8 5.1 0.9 5.4 1 5.7 0.9 5.7 1 5.6 1 5.5 1 5.2 1.1 4.9 1 5.5 1.3 5.6 1.3 5.4 1.3 5.2 1.4 5.2 1.4 4.9 1.4 4.8 1.4 4.5 1.2 4.3 1.2 5.6 1.5 4.7 1.1 4.2 1 4.4 1 5 1.2 5.9 1.6 4.2 1.3 4.5 1.3 4.8 1.5 4.9 1.6 5.2 1.8 5.2 1.7 5.2 1.9 5.2 1.9 5.1 1.9 5 1.9 4.8 1.8 4.9 1.9 4.9 1.8 4.9 1.8 4.9 1.8 4.9 1.7 4.9 1.6 5 1.5 5 1.5 5 1.3 5.1 1.3 5.1 1.1 5.1 1 5.1 1 5.2 0.9 5.1 0.9 5.2 0.8 5.2 0.9 5.2 0.9 5.2 0.9 5.4 1.1 5.8 1.2 5.9 1.4 5.9 1.5 5.9 1.6 5.5 1.7 5.1 1.5 4.6 1.5 3.8 1.2 2.9 1M227.1 713.2l4.7 0.8 5.2 0.9 5.4 1 5.6 1.1 5.7 1.1 5.6 1.1 5.5 1.2 5.2 1.1 4.8 1 5.6 1.3 5.5 1.2 5.5 1.2 5.3 1.1 5.2 1.1 5.1 1.1 4.8 0.9 4.6 1 4.4 0.8 5.7 1.1 4.7 0.8 4.3 0.8 4.4 0.8 5 1.2 6 1.7 4.2 1.3 4.4 1.6 4.7 1.8 4.9 2 4.9 2.2 5.1 2.3 5.1 2.4 5 2.4 5 2.4 4.9 2.3 4.7 2.1 4.9 2.1 4.8 2 4.8 1.9 4.9 1.7 5 1.7 4.9 1.5 5 1.4 5.1 1.4 5 1.2 5.1 1.2 5.1 1.1 5.1 1.1 5.1 1.1 5.1 1 5.1 1 5.1 1.1 5.1 1 5.2 1.1 5.1 1 5.4 1.2 5.7 1.1 6 1.3 6.1 1.2 5.9 1.1 5.7 1.1 5.3 1 4.7 0.9 4 0.8 3.1 0.6M207 707.4l4 1.2 8.5 2.6 3.4 1 4.1 1.3 4.6 1.4 5 1.5 5.3 1.6 5.4 1.7 5.5 1.7 5.5 1.7 5.3 1.7 5.1 1.6 4.7 1.5 5.4 1.7 5.5 1.7 5.3 1.6 5.2 1.6 5.1 1.6 5 1.4 4.7 1.4 4.6 1.3 4.4 1.2 5.6 1.5 4.8 1.2 4.4 1.1 4.3 1 4.7 1.2 5.9 1.5 4.2 1 4.5 1.1 4.8 1.2 5 1.2 5.3 1.3 5.3 1.3 5.3 1.4 5.4 1.3 5.3 1.3 5.1 1.3 5 1.2 5.1 1.2 5 1.3 5.1 1.2 5 1.3 5 1.3 5.1 1.3 5 1.4 5 1.3 5 1.3 5.1 1.4 5 1.3 5 1.4 5 1.4 5 1.3 5.1 1.4 5 1.4 5 1.4 5 1.4 5 1.5 5.3 1.5 5.6 1.6 5.8 1.7 5.9 1.8 5.7 1.6 5.6 1.6 5.1 1.5 4.6 1.3 3.9 1.1 3 0.9M230.9 717.8l5 1.4 5.3 1.4 5.5 1.4 5.6 1.4 5.6 1.3 5.4 1.3 5.2 1.2 4.8 1 5.6 1.3 5.5 1.3 5.4 1.3 5.3 1.3 5.2 1.3 5 1.2 4.8 1.3 4.6 1.2 4.3 1.1 5.7 1.5 4.7 1.3 4.3 1 4.3 1.1 4.8 1.3 5.9 1.7 4.1 1.1 4.5 1.2 4.8 1.3 5 1.4 5.2 1.4 5.3 1.4 5.4 1.4 5.3 1.3 5.3 1.3 5.1 1.3 5.1 1.2 5 1.2 5.1 1.3 5 1.2 5 1.4 5 1.3 5 1.4 5 1.5 5 1.5 5 1.6 4.9 1.5 5 1.7 4.9 1.7 4.9 1.7 4.9 1.7 4.9 1.7 4.9 1.8 4.9 1.8 4.9 1.7 4.9 1.8 5.1 1.9 5.5 1.9 5.7 2 5.8 2 5.7 2 5.4 1.8 5.1 1.7 4.5 1.5 3.9 1.2 3 1M210.6 710.1l8.5 2.5 3.5 1.1 4 1.2 4.6 1.4 5 1.5 5.3 1.6 5.5 1.6 5.5 1.6 5.5 1.7 5.3 1.6 5.1 1.5 4.7 1.4 5.5 1.6 5.4 1.7 5.4 1.6 5.2 1.6 5.1 1.5 5 1.5 4.7 1.4 4.6 1.4 4.3 1.2 5.7 1.8 4.8 1.3 4.2 1.2 4.3 1.2 4.7 1.5 5.7 1.8 4.1 1.2 4.5 1.4 4.7 1.4 5 1.6 5.1 1.5 5.2 1.7 5.3 1.6 5.2 1.7 5.2 1.6 5.1 1.6 4.9 1.5 5 1.5 5 1.5 4.9 1.5 5 1.5 5 1.5 4.9 1.5 5 1.5 5 1.4 5 1.5 5 1.5 5 1.4 5 1.4 5 1.4 5 1.4 5 1.4 5 1.3 5 1.4 5 1.4 4.9 1.4 5.3 1.5 5.5 1.6 5.8 1.7 5.9 1.6 5.8 1.7 5.5 1.6 5.2 1.4 4.6 1.3 3.8 1.1 3.1 0.9"/>
<path id="c_g_cs" d="M36 670l2.4 0.3 3 0.3 3.5 0.4 4 0.5 4.4 0.5 4.5 0.5 4.6 0.5 4.7 0.6 4.5 0.6 4.4 0.7 4 0.6 4.2 0.7 4.2 0.8 4.1 0.8 4.2 0.9 4.1 0.9 4 0.9 3.9 0.9 3.9 0.9 3.7 0.9 3.7 0.8 4.6 1.1 4.7 1.1 4.7 1.2 4.5 1.1 4.2 1.1 3.7 1 3.2 0.8 2.4 0.6M36 674l2.4 0.3 3 0.4 3.5 0.5 4 0.5 4.4 0.5 4.5 0.6 4.6 0.7 4.7 0.6 4.5 0.6 4.4 0.7 4 0.6 4.2 0.7 4.2 0.7 4.1 0.8 4.2 0.8 4.1 0.8 4 0.7 3.9 0.8 3.9 0.8 3.7 0.7 3.7 0.7 4.6 0.9 4.7 0.8 4.7 0.9 4.5 0.9 4.2 0.8 3.7 0.7 3.2 0.5 2.4 0.5M84 667l2.4 0.5 3.1 0.5 3.6 0.7 4.1 0.7 4.4 0.8 4.6 0.9 4.8 0.9 4.9 0.9 4.9 1 4.7 1.1 4.5 1 4.1 1 4.2 1.1 4.3 1.1 4.3 1.2 4.4 1.2 4.4 1.2 4.3 1.3 4.3 1.2 4.2 1.2 4 1.2 3.8 1.2 3.7 1.1 4.7 1.5 4.8 1.5 4.6 1.6 4.4 1.5 4.2 1.5 3.8 1.4 3.4 1.2 2.8 1 2.3 0.8M73.6 616l2.4 1.7 3.4 2.2 4 2.7 4.3 3 4.4 3 4.2 2.8 3.7 2.6 3.6 2.7 3.2 2.5 3.1 2.5 3.2 2.4 3.6 2.3 4.3 2.2 3.3 1.4 3.6 1.4 3.7 1.3 4 1.3 4.1 1.2 4.2 1.3 4.3 1.3 4.4 1.3 4.4 1.4 3.7 1.2 3.9 1.2 4 1.2 4.1 1.3 4.1 1.2 4.1 1.3 4.1 1.2 4 1.3 3.9 1.2 3.7 1.2 3.4 1.2 4.4 1.6 4.1 1.5 3.9 1.4 3.7 1.5 3.6 1.4 3.5 1.5 3.4 1.5 3.4 1.6 3.9 1.9 3.8 2 3.6 2 3.6 2.1 3.5 2 3.3 2 3.3 2 4.6 2.9 4.7 3 4.4 2.9 3.7 2.4 2.6 1.8M52 628.6l2.3 0.8 3 1.1 3.5 1.2 4 1.5 4.3 1.5 4.4 1.5 4.4 1.6 4.3 1.5 4.1 1.4 3.7 1.3 4 1.4 3.7 1.2 3.4 1.1 3.4 1.1 3.5 1.1 3.8 1.2 4.2 1.4 5 1.5 3.2 1 3.5 1 3.7 1.1 3.9 1.1 4 1.2 4.2 1.2 4.2 1.2 4.3 1.3 4.2 1.2 4.1 1.3 4.1 1.3 3.9 1.2 3.7 1.3 3.5 1.2 4.6 1.7 4.5 1.8 4.3 1.7 4.2 1.8 4 1.7 3.9 1.8 3.7 1.8 3.6 1.7 3.4 1.7 3.3 1.7 4.4 2.4 4.1 2.4 3.8 2.5 3.4 2.3 3.3 2.3 3.1 2.1 2.9 2 4.8 3.2 4.3 2.8 3.4 2.3 2.5 1.7M330 733l2.1 0.5 2.4 0.5 2.6 0.6 2.8 0.7 3.1 0.7 3.3 0.7 3.5 0.9 3.6 0.8 3.8 0.9 4 0.9 4 1 4.2 1 4.3 1 4.4 1 4.5 1 4.5 1 4.5 1 4.6 1 4.6 1 4.6 1 4.5 1 4.5 0.9 4.5 0.9 4.4 0.9 4.4 0.9 4.2 0.8 4.1 0.7 4 0.7 4.1 0.7 4.3 0.7 4.4 0.6 4.5 0.7 4.6 0.6 4.7 0.7 4.7 0.6 4.7 0.6 4.7 0.6 4.8 0.6 4.7 0.5 4.7 0.6 4.7 0.5 4.6 0.5 4.5 0.5 4.4 0.5 4.2 0.4 4.2 0.5 4 0.4 3.8 0.4 3.6 0.4 3.5 0.4 3.2 0.3 3 0.4 2.7 0.3 2.5 0.2 2.2 0.3M350 742l2.2 0.5 2.4 0.6 2.8 0.7 3 0.8 3.2 0.8 3.5 0.9 3.6 1 3.9 1 4 1 4.2 1.1 4.3 1.1 4.4 1.1 4.5 1.1 4.6 1.2 4.6 1.1 4.7 1.1 4.6 1.2 4.7 1.1 4.6 1 4.6 1.1 4.5 1 4.5 1 4.3 0.9 4.2 0.8 4.1 0.8 4.1 0.7 4.2 0.8 4.3 0.7 4.5 0.7 4.5 0.7 4.6 0.7 4.6 0.6 4.7 0.7 4.6 0.6 4.7 0.6 4.6 0.6 4.6 0.6 4.5 0.5 4.4 0.6 4.3 0.5 4.2 0.5 4 0.4 3.9 0.5 3.6 0.4 3.5 0.4 3.2 0.4 3 0.4 2.8 0.3 2.4 0.3 2.2 0.3M200 677.7l2.2 0.7 2.6 0.9 3 1.1 3.2 1.1 3.6 1.2 3.9 1.3 4.1 1.4 4.3 1.5 4.4 1.5 4.6 1.6 4.7 1.6 4.8 1.6 4.9 1.6 4.8 1.6 4.9 1.6 3.3 1.1 3.5 1.1 3.4 1.2 3.6 1.2 3.6 1.2 3.7 1.2 3.8 1.2 3.7 1.3 3.9 1.3 3.9 1.2 3.9 1.3 4 1.3 4 1.3 4 1.3 4.1 1.3 4 1.2 4.1 1.3 4.1 1.2 4.1 1.3 4.1 1.2 4.1 1.1 4.1 1.2 3.8 1 3.7 1.1 3.8 1 3.8 1.1 3.8 1 3.8 1 3.8 1.1 3.9 1 3.8 1 3.9 1 3.9 1 3.9 1 4 1 3.9 1 4 0.9 4.1 0.9 4 1 4.1 0.9 4.1 0.9 4.1 0.8 4.1 0.9 4.2 0.8 4.2 0.8 4.3 0.8 3.9 0.7 4.1 0.7 4.2 0.6 4.3 0.7 4.5 0.6 4.5 0.7 4.7 0.6 4.7 0.6 4.7 0.7 4.8 0.6 4.8 0.5 4.7 0.6 4.7 0.6 4.7 0.5 4.5 0.5 4.5 0.5 4.4 0.5 4.2 0.5 4.1 0.5 3.9 0.4 3.8 0.4 3.5 0.4 3.3 0.4 3 0.3 2.8 0.3 2.5 0.3 2.2 0.3M250 708l2.2 0.6 2.5 0.7 2.9 0.7 3.1 0.9 3.4 0.9 3.7 1 3.9 1.1 4.1 1.1 4.2 1.1 4.4 1.2 4.5 1.2 4.5 1.2 4.7 1.3 4.6 1.2 4.7 1.2 4.7 1.2 4.6 1.2 4.5 1.1 4.5 1.1 4.3 1 3.8 0.9 3.9 1 3.7 0.9 3.8 1 3.8 0.9 3.7 1 3.8 1 3.8 0.9 3.8 1 3.9 0.9 3.9 1 3.9 0.9 4 0.9 4.1 0.9 4.2 0.8 4.2 0.8 4.3 0.8 4.5 0.8 4.5 0.7 4.7 0.7 4.8 0.6 4.9 0.6 3.5 0.4 3.8 0.3 3.9 0.4 4 0.3 4.2 0.3 4.4 0.2 4.4 0.3 4.5 0.3 4.7 0.2 4.6 0.2 4.8 0.2 4.7 0.2 4.8 0.2 4.8 0.1 4.8 0.2 4.7 0.1 4.7 0.2 4.7 0.1 4.5 0.1 4.5 0.1 4.4 0.1 4.2 0.1 4.1 0.1 4 0.1 3.8 0.1 3.6 0.1 3.4 0.1 3.2 0.1 3 0 2.7 0.1 2.4 0.1 2.2 0.1M172 612l0.1 2.6 0.1 3.6 0.1 4.3 0.2 4.6 0.2 4.7 0.4 4.4 0.4 3.8 0.8 4.5 0.8 4.2 1.1 3.8 1.3 3.8 1.5 3.7 1.6 3.7 1.7 3.5 2 3.4 2.5 3.6 3.2 3.8 2.6 2.7 3.3 3 3.5 3.2 3.8 3.2 3.6 3.1 3.4 2.8 2.8 2.3 2 1.7M150 612l0.1 2.6 0.2 3.5 0.2 4.3 0.3 4.6 0.3 4.6 0.4 4.5 0.5 3.9 0.8 4.8 0.9 4.4 1.1 4.3 1.4 4.2 1.8 4.3 1.8 3.7 1.9 3.9 2.2 3.8 2.5 3.7 2.7 3.6 2.9 3.3 3 2.7 3.6 2.8 3.8 2.6 3.9 2.5 3.5 2.2 3 1.8 2.2 1.4M163 612l0 2.6 0.1 3.5 0 4.2 0.1 4.5 0.1 4.7 0.3 4.5 0.4 4 0.6 4.3 0.7 4.1 0.9 4.1 1 3.9 1.3 3.9 1.5 3.7 1.8 3.6 2 3.5 2.3 3.4 2.4 3.3 2.7 3.1 2.8 3.1 3.3 3.1 4 3.1 4.1 3 3.9 2.8 3.3 2.3 2.4 1.7M178 625l0.6 2.7 0.7 3.8 0.9 4.5 1.1 4.8 1.3 4.8 1.4 4.4 1.5 4.1 1.6 4 1.8 4 2 3.9 2.3 4 2.8 4 2.6 3.2 3.1 3.4 3.5 3.5 3.6 3.4 3.4 3.3 3.2 2.9 2.7 2.4 1.9 1.9M196 656l1.1 2.7 1.5 3.8 1.8 4.5 2.1 4.6 2.5 4.4 2.6 3.7 3.1 4 3.4 4.1 3.2 3.7 2.8 3.2 1.9 2.3M250 751l2.2 0.6 2.7 0.8 3.2 0.9 3.6 1 3.9 1.1 4.1 1.2 4.4 1.3 4.4 1.2 4.5 1.3 4.4 1.3 4.4 1.3 4.2 1.3 4 1.2 3.7 1.2 3.6 1.1 3.4 1.1 3.4 1.1 3.3 1.1 3.4 1.1 3.4 1.1 3.7 1.2 3.8 1.3 4 1.3 4.4 1.5 4.7 1.5 5.2 1.7 3.1 1 3.2 1 3.3 1.1 3.4 1.1 3.5 1.2 3.6 1.1 3.7 1.2 3.8 1.3 3.8 1.2 3.9 1.3 3.9 1.2 4.1 1.4 4 1.3 4.2 1.3 4.1 1.4 4.2 1.3 4.3 1.4 4.3 1.4 4.3 1.4 4.3 1.4 4.3 1.4 4.4 1.4 4.3 1.4 3.7 1.2 3.8 1.2 4 1.3 4.1 1.4 4.3 1.3 4.3 1.4 4.5 1.5 4.5 1.4 4.5 1.5 4.6 1.5 4.6 1.5 4.6 1.4 4.6 1.5 4.5 1.5 4.5 1.4 4.4 1.4 4.3 1.4 4.2 1.4 4.1 1.3 3.9 1.3 3.8 1.2 3.5 1.1 3.4 1.1 3.2 1 2.9 1 2.7 0.8 2.4 0.8 2.1 0.7M300 753l2.1 0.6 2.3 0.7 2.6 0.8 2.9 0.8 3.1 0.9 3.2 1 3.5 1 3.7 1.1 3.8 1.1 4 1.2 4.1 1.2 4.2 1.2 4.3 1.3 4.3 1.3 4.4 1.3 4.5 1.3 4.5 1.3 4.5 1.4 4.4 1.3 4.5 1.3 4.4 1.3 4.3 1.3 4.3 1.2 4.1 1.3 4.1 1.1 3.9 1.2 3.9 1.1 3.9 1.2 4 1.2 4.1 1.2 4.1 1.2 4.1 1.2 4.1 1.2 4.2 1.3 4.2 1.2 4.1 1.2 4.2 1.3 4.1 1.2 4.1 1.2 4.1 1.2 4 1.2 4 1.1 3.9 1.2 3.8 1.1 3.8 1.1 3.6 1.1 3.6 1.1 3.5 1 3.3 1 3.2 0.9 3.1 0.9 3 0.9 5.6 1.6 5.3 1.6 5.1 1.5 4.7 1.3 4.4 1.3 4.2 1.2 3.8 1.1 3.6 1.1 3.2 0.9 3 0.9 2.7 0.7 2.3 0.7 2.1 0.6M360 776l2.1 0.6 2.4 0.7 2.7 0.8 3 0.9 3.2 0.9 3.4 1 3.6 1.1 3.9 1.1 3.9 1.2 4.1 1.2 4.3 1.3 4.3 1.2 4.5 1.4 4.5 1.3 4.5 1.3 4.6 1.4 4.5 1.3 4.6 1.3 4.5 1.4 4.5 1.3 4.4 1.3 4.3 1.3 4.2 1.2 3.7 1.1 3.9 1.2 4.1 1.1 4.1 1.3 4.3 1.2 4.3 1.3 4.5 1.3 4.4 1.3 4.5 1.3 4.5 1.4 4.5 1.3 4.4 1.3 4.4 1.3 4.4 1.3 4.2 1.2 4.2 1.3 4 1.2 3.9 1.1 3.7 1.1 3.5 1 3.4 1 3.1 1 2.9 0.8 2.7 0.8 2.3 0.7 2.1 0.6"/>
</defs>
<rect x="45.5" y="5.0" width="501.0" height="248.1" fill="#fff"/>
<path d="M50.0 5.0V253.1M93.0 5.0V253.1M136.0 5.0V253.1M179.0 5.0V253.1M222.0 5.0V253.1M265.0 5.0V253.1M308.0 5.0V253.1M351.0 5.0V253.1M394.0 5.0V253.1M437.0 5.0V253.1M480.0 5.0V253.1M523.0 5.0V253.1M45.5 242.9H546.5M45.5 211.2H546.5M45.5 179.5H546.5M45.5 147.8H546.5M45.5 116.1H546.5M45.5 84.4H546.5M45.5 52.7H546.5M45.5 21.0H546.5" stroke="#e6e6e6" stroke-width="0.65" fill="none"/>
<g clip-path="url(#ca)"><g fill="none">
<use href="#a_b_d1" stroke="#1f77b4" stroke-width="1.15" stroke-dasharray="3.6 1.5"/>
<use href="#a_b_d1" stroke="#1f77b4" stroke-width="1.85" stroke-dasharray="0.01 2.6" stroke-linecap="round"/>
<use href="#a_b_d2" stroke="#1f77b4" stroke-width="1.15" stroke-dasharray="5 1.8"/>
<use href="#a_b_d2" stroke="#1f77b4" stroke-width="1.85" stroke-dasharray="0.01 3.2" stroke-linecap="round"/>
<use href="#a_b_sp" stroke="#1f77b4" stroke-width="1.50" stroke-dasharray="6 2.6"/>
<use href="#a_b_sp" stroke="#1f77b4" stroke-width="1.90" stroke-dasharray="0.01 6.3" stroke-linecap="round"/>
<use href="#a_p_d2" stroke="#9467bd" stroke-width="1.15" stroke-dasharray="5 1.8"/>
<use href="#a_p_d2" stroke="#9467bd" stroke-width="1.85" stroke-dasharray="0.01 3.2" stroke-linecap="round"/>
<use href="#a_p_d1" stroke="#9467bd" stroke-width="1.15" stroke-dasharray="3.6 1.5"/>
<use href="#a_p_d1" stroke="#9467bd" stroke-width="1.85" stroke-dasharray="0.01 2.6" stroke-linecap="round"/>
<use href="#a_p_sp" stroke="#9467bd" stroke-width="1.50" stroke-dasharray="6 2.6"/>
<use href="#a_p_sp" stroke="#9467bd" stroke-width="1.90" stroke-dasharray="0.01 6.3" stroke-linecap="round"/>
<use href="#a_pk0_d1" stroke="#e377c2" stroke-width="1.15" stroke-dasharray="3.6 1.5"/>
<use href="#a_pk0_d1" stroke="#e377c2" stroke-width="1.85" stroke-dasharray="0.01 2.6" stroke-linecap="round"/>
<use href="#a_pk0_d2" stroke="#e377c2" stroke-width="1.15" stroke-dasharray="5 1.8"/>
<use href="#a_pk0_d2" stroke="#e377c2" stroke-width="1.85" stroke-dasharray="0.01 3.2" stroke-linecap="round"/>
<use href="#a_br_d2" stroke="#8c564b" stroke-width="1.15" stroke-dasharray="5 1.8"/>
<use href="#a_br_d2" stroke="#8c564b" stroke-width="1.85" stroke-dasharray="0.01 3.2" stroke-linecap="round"/>
<use href="#a_br_d1" stroke="#8c564b" stroke-width="1.15" stroke-dasharray="3.6 1.5"/>
<use href="#a_br_d1" stroke="#8c564b" stroke-width="1.85" stroke-dasharray="0.01 2.6" stroke-linecap="round"/>
<use href="#a_br_sp" stroke="#8c564b" stroke-width="1.50" stroke-dasharray="6 2.6"/>
<use href="#a_br_sp" stroke="#8c564b" stroke-width="1.90" stroke-dasharray="0.01 6.3" stroke-linecap="round"/>
<use href="#a_o_d2" stroke="#ff7f0e" stroke-width="1.15" stroke-dasharray="5 1.8"/>
<use href="#a_o_d2" stroke="#ff7f0e" stroke-width="1.85" stroke-dasharray="0.01 3.2" stroke-linecap="round"/>
<use href="#a_o_d1" stroke="#ff7f0e" stroke-width="1.15" stroke-dasharray="3.6 1.5"/>
<use href="#a_o_d1" stroke="#ff7f0e" stroke-width="1.85" stroke-dasharray="0.01 2.6" stroke-linecap="round"/>
<use href="#a_g_sp" stroke="#2ca02c" stroke-width="1.50" stroke-dasharray="6 2.6"/>
<use href="#a_g_sp" stroke="#2ca02c" stroke-width="1.90" stroke-dasharray="0.01 6.3" stroke-linecap="round"/>
<use href="#a_g_d1" stroke="#2ca02c" stroke-width="1.15" stroke-dasharray="3.6 1.5"/>
<use href="#a_g_d1" stroke="#2ca02c" stroke-width="1.85" stroke-dasharray="0.01 2.6" stroke-linecap="round"/>
<use href="#a_g_d2" stroke="#2ca02c" stroke-width="1.15" stroke-dasharray="5 1.8"/>
<use href="#a_g_d2" stroke="#2ca02c" stroke-width="1.85" stroke-dasharray="0.01 3.2" stroke-linecap="round"/>
<use href="#a_r_d2" stroke="#d62728" stroke-width="1.15" stroke-dasharray="5 1.8"/>
<use href="#a_r_d2" stroke="#d62728" stroke-width="1.85" stroke-dasharray="0.01 3.2" stroke-linecap="round"/>
<use href="#a_r_d1" stroke="#d62728" stroke-width="1.15" stroke-dasharray="3.6 1.5"/>
<use href="#a_r_d1" stroke="#d62728" stroke-width="1.85" stroke-dasharray="0.01 2.6" stroke-linecap="round"/>
<use href="#a_pk_d2" stroke="#e377c2" stroke-width="1.15" stroke-dasharray="5 1.8"/>
<use href="#a_pk_d2" stroke="#e377c2" stroke-width="1.85" stroke-dasharray="0.01 3.2" stroke-linecap="round"/>
<use href="#a_pk_d1" stroke="#e377c2" stroke-width="1.15" stroke-dasharray="3.6 1.5"/>
<use href="#a_pk_d1" stroke="#e377c2" stroke-width="1.85" stroke-dasharray="0.01 2.6" stroke-linecap="round"/>
<use href="#a_k_n2" stroke="#000000" stroke-width="1.00" stroke-dasharray="1.5 1.2"/>
<use href="#a_k_n2" stroke="#000000" stroke-width="2.30" stroke-dasharray="0.01 3.3" stroke-linecap="round"/>
<use href="#a_k_n1" stroke="#000000" stroke-width="0.80" stroke-dasharray="1.2 1.4"/>
<use href="#a_k_n1" stroke="#000000" stroke-width="1.70" stroke-dasharray="0.01 4.2" stroke-linecap="round"/>
<use href="#a_k_n3" stroke="#000000" stroke-width="2.30" stroke-linecap="round"/>
</g></g>
<rect x="48.4" y="106.6" width="96.8" height="143.6" rx="1.5" fill="#fff" fill-opacity="0.8" stroke="#ccc" stroke-width="0.7"/>
<line x1="50.7" y1="112.8" x2="61.5" y2="112.8" stroke="#1f77b4" stroke-width="1.4" stroke-dasharray="4.2 1.8"/>
<text x="66.8" y="114.9" font-size="5.85">Cluster 0 of the trajectory</text>
<circle cx="56.1" cy="121.6" r="1.15" fill="#1f77b4"/>
<text x="66.8" y="123.7" font-size="5.85">Vessel Trajectory Points</text>
<line x1="50.7" y1="130.4" x2="61.5" y2="130.4" stroke="#ff7f0e" stroke-width="1.4" stroke-dasharray="4.2 1.8"/>
<text x="66.8" y="132.5" font-size="5.85">Cluster 1 of the trajectory</text>
<circle cx="56.1" cy="139.3" r="1.15" fill="#ff7f0e"/>
<text x="66.8" y="141.4" font-size="5.85">Vessel Trajectory Points</text>
<line x1="50.7" y1="148.1" x2="61.5" y2="148.1" stroke="#2ca02c" stroke-width="1.4" stroke-dasharray="4.2 1.8"/>
<text x="66.8" y="150.2" font-size="5.85">Cluster 2 of the trajectory</text>
<circle cx="56.1" cy="156.9" r="1.15" fill="#2ca02c"/>
<text x="66.8" y="159.0" font-size="5.85">Vessel Trajectory Points</text>
<line x1="50.7" y1="165.7" x2="61.5" y2="165.7" stroke="#d62728" stroke-width="1.4" stroke-dasharray="4.2 1.8"/>
<text x="66.8" y="167.8" font-size="5.85">Cluster 3 of the trajectory</text>
<circle cx="56.1" cy="174.5" r="1.15" fill="#d62728"/>
<text x="66.8" y="176.6" font-size="5.85">Vessel Trajectory Points</text>
<line x1="50.7" y1="183.4" x2="61.5" y2="183.4" stroke="#9467bd" stroke-width="1.4" stroke-dasharray="4.2 1.8"/>
<text x="66.8" y="185.5" font-size="5.85">Cluster 4 of the trajectory</text>
<circle cx="56.1" cy="192.2" r="1.15" fill="#9467bd"/>
<text x="66.8" y="194.3" font-size="5.85">Vessel Trajectory Points</text>
<line x1="50.7" y1="201.0" x2="61.5" y2="201.0" stroke="#8c564b" stroke-width="1.4" stroke-dasharray="4.2 1.8"/>
<text x="66.8" y="203.1" font-size="5.85">Cluster 5 of the trajectory</text>
<circle cx="56.1" cy="209.8" r="1.15" fill="#8c564b"/>
<text x="66.8" y="211.9" font-size="5.85">Vessel Trajectory Points</text>
<line x1="50.7" y1="218.6" x2="61.5" y2="218.6" stroke="#e377c2" stroke-width="1.4" stroke-dasharray="4.2 1.8"/>
<text x="66.8" y="220.7" font-size="5.85">Cluster 6 of the trajectory</text>
<circle cx="56.1" cy="227.5" r="1.15" fill="#e377c2"/>
<text x="66.8" y="229.6" font-size="5.85">Vessel Trajectory Points</text>
<line x1="50.7" y1="236.3" x2="61.5" y2="236.3" stroke="#444" stroke-width="1.2" stroke-dasharray="1.2 1.2"/>
<text x="66.8" y="238.4" font-size="5.85">Noise location</text>
<circle cx="56.1" cy="245.1" r="1.15" fill="#000"/>
<text x="66.8" y="247.2" font-size="5.85">The path of the noise</text>
<rect x="45.5" y="5.0" width="501.0" height="248.1" fill="none" stroke="#5a5a5a" stroke-width="0.85"/>
<path d="M50.0 253.1v2.2M93.0 253.1v2.2M136.0 253.1v2.2M179.0 253.1v2.2M222.0 253.1v2.2M265.0 253.1v2.2M308.0 253.1v2.2M351.0 253.1v2.2M394.0 253.1v2.2M437.0 253.1v2.2M480.0 253.1v2.2M523.0 253.1v2.2M45.5 242.9h-2.2M45.5 211.2h-2.2M45.5 179.5h-2.2M45.5 147.8h-2.2M45.5 116.1h-2.2M45.5 84.4h-2.2M45.5 52.7h-2.2M45.5 21.0h-2.2" stroke="#333" stroke-width="0.7" fill="none"/>
<path d="M50.0 253.1v1.2M58.6 253.1v1.2M67.2 253.1v1.2M75.8 253.1v1.2M84.4 253.1v1.2M93.0 253.1v1.2M101.6 253.1v1.2M110.2 253.1v1.2M118.8 253.1v1.2M127.4 253.1v1.2M136.0 253.1v1.2M144.6 253.1v1.2M153.2 253.1v1.2M161.8 253.1v1.2M170.4 253.1v1.2M179.0 253.1v1.2M187.6 253.1v1.2M196.2 253.1v1.2M204.8 253.1v1.2M213.4 253.1v1.2M222.0 253.1v1.2M230.6 253.1v1.2M239.2 253.1v1.2M247.8 253.1v1.2M256.4 253.1v1.2M265.0 253.1v1.2M273.6 253.1v1.2M282.2 253.1v1.2M290.8 253.1v1.2M299.4 253.1v1.2M308.0 253.1v1.2M316.6 253.1v1.2M325.2 253.1v1.2M333.8 253.1v1.2M342.4 253.1v1.2M351.0 253.1v1.2M359.6 253.1v1.2M368.2 253.1v1.2M376.8 253.1v1.2M385.4 253.1v1.2M394.0 253.1v1.2M402.6 253.1v1.2M411.2 253.1v1.2M419.8 253.1v1.2M428.4 253.1v1.2M437.0 253.1v1.2M445.6 253.1v1.2M454.2 253.1v1.2M462.8 253.1v1.2M471.4 253.1v1.2M480.0 253.1v1.2M488.6 253.1v1.2M497.2 253.1v1.2M505.8 253.1v1.2M514.4 253.1v1.2M523.0 253.1v1.2M531.6 253.1v1.2M540.2 253.1v1.2M45.5 249.2h-1.2M45.5 242.9h-1.2M45.5 236.6h-1.2M45.5 230.2h-1.2M45.5 223.9h-1.2M45.5 217.5h-1.2M45.5 211.2h-1.2M45.5 204.9h-1.2M45.5 198.5h-1.2M45.5 192.2h-1.2M45.5 185.8h-1.2M45.5 179.5h-1.2M45.5 173.2h-1.2M45.5 166.8h-1.2M45.5 160.5h-1.2M45.5 154.1h-1.2M45.5 147.8h-1.2M45.5 141.5h-1.2M45.5 135.1h-1.2M45.5 128.8h-1.2M45.5 122.4h-1.2M45.5 116.1h-1.2M45.5 109.8h-1.2M45.5 103.4h-1.2M45.5 97.1h-1.2M45.5 90.7h-1.2M45.5 84.4h-1.2M45.5 78.1h-1.2M45.5 71.7h-1.2M45.5 65.4h-1.2M45.5 59.0h-1.2M45.5 52.7h-1.2M45.5 46.4h-1.2M45.5 40.0h-1.2M45.5 33.7h-1.2M45.5 27.3h-1.2M45.5 21.0h-1.2M45.5 14.7h-1.2M45.5 8.3h-1.2" stroke="#666" stroke-width="0.5" fill="none"/>
<text x="50.0" y="264.9" text-anchor="middle" font-size="8.8">118.0</text>
<text x="93.0" y="264.9" text-anchor="middle" font-size="8.8">118.5</text>
<text x="136.0" y="264.9" text-anchor="middle" font-size="8.8">119.0</text>
<text x="179.0" y="264.9" text-anchor="middle" font-size="8.8">119.5</text>
<text x="222.0" y="264.9" text-anchor="middle" font-size="8.8">120.0</text>
<text x="265.0" y="264.9" text-anchor="middle" font-size="8.8">120.5</text>
<text x="308.0" y="264.9" text-anchor="middle" font-size="8.8">121.0</text>
<text x="351.0" y="264.9" text-anchor="middle" font-size="8.8">121.5</text>
<text x="394.0" y="264.9" text-anchor="middle" font-size="8.8">122.0</text>
<text x="437.0" y="264.9" text-anchor="middle" font-size="8.8">122.5</text>
<text x="480.0" y="264.9" text-anchor="middle" font-size="8.8">123.0</text>
<text x="523.0" y="264.9" text-anchor="middle" font-size="8.8">123.5</text>
<text x="41.3" y="246.2" text-anchor="end" font-size="8.8">36.0</text>
<text x="41.3" y="214.5" text-anchor="end" font-size="8.8">36.5</text>
<text x="41.3" y="182.8" text-anchor="end" font-size="8.8">37.0</text>
<text x="41.3" y="151.1" text-anchor="end" font-size="8.8">37.5</text>
<text x="41.3" y="119.4" text-anchor="end" font-size="8.8">38.0</text>
<text x="41.3" y="87.7" text-anchor="end" font-size="8.8">38.5</text>
<text x="41.3" y="56.0" text-anchor="end" font-size="8.8">39.0</text>
<text x="41.3" y="24.3" text-anchor="end" font-size="8.8">39.5</text>
<text x="296.0" y="275.9" text-anchor="middle" font-size="9.2">Longitude(°)</text>
<text transform="translate(16.2,131.2) rotate(-90)" text-anchor="middle" font-size="9.2">Latitude(°)</text>
<text x="277.7" y="294.6" text-anchor="middle" font-family="'Liberation Serif',serif" font-weight="bold" font-size="13.7">(a)</text>
<rect x="51.6" y="302.4" width="487.8" height="241.2" fill="#fff"/>
<path d="M56.0 302.4V543.6M98.5 302.4V543.6M140.9 302.4V543.6M183.4 302.4V543.6M225.8 302.4V543.6M268.3 302.4V543.6M310.8 302.4V543.6M353.2 302.4V543.6M395.7 302.4V543.6M438.1 302.4V543.6M480.6 302.4V543.6M523.1 302.4V543.6M51.6 533.6H539.4M51.6 499.7H539.4M51.6 465.7H539.4M51.6 431.8H539.4M51.6 397.8H539.4M51.6 363.9H539.4M51.6 329.9H539.4" stroke="#e6e6e6" stroke-width="0.65" fill="none"/>
<g clip-path="url(#cb)"><g fill="none" transform="matrix(0.98744 0 0 1.07098 6.628 273.46)">
<use href="#a_b_d1" stroke="#1f77b4" stroke-width="1.15" stroke-dasharray="3.6 1.5"/>
<use href="#a_b_d1" stroke="#1f77b4" stroke-width="1.85" stroke-dasharray="0.01 2.6" stroke-linecap="round"/>
<use href="#a_b_d2" stroke="#1f77b4" stroke-width="1.15" stroke-dasharray="5 1.8"/>
<use href="#a_b_d2" stroke="#1f77b4" stroke-width="1.85" stroke-dasharray="0.01 3.2" stroke-linecap="round"/>
<use href="#a_b_sp" stroke="#1f77b4" stroke-width="1.50" stroke-dasharray="6 2.6"/>
<use href="#a_b_sp" stroke="#1f77b4" stroke-width="1.90" stroke-dasharray="0.01 6.3" stroke-linecap="round"/>
<use href="#a_p_d2" stroke="#9467bd" stroke-width="1.15" stroke-dasharray="5 1.8"/>
<use href="#a_p_d2" stroke="#9467bd" stroke-width="1.85" stroke-dasharray="0.01 3.2" stroke-linecap="round"/>
<use href="#a_p_d1" stroke="#9467bd" stroke-width="1.15" stroke-dasharray="3.6 1.5"/>
<use href="#a_p_d1" stroke="#9467bd" stroke-width="1.85" stroke-dasharray="0.01 2.6" stroke-linecap="round"/>
<use href="#a_p_sp" stroke="#9467bd" stroke-width="1.50" stroke-dasharray="6 2.6"/>
<use href="#a_p_sp" stroke="#9467bd" stroke-width="1.90" stroke-dasharray="0.01 6.3" stroke-linecap="round"/>
<use href="#a_pk0_d1" stroke="#e377c2" stroke-width="1.15" stroke-dasharray="3.6 1.5"/>
<use href="#a_pk0_d1" stroke="#e377c2" stroke-width="1.85" stroke-dasharray="0.01 2.6" stroke-linecap="round"/>
<use href="#a_pk0_d2" stroke="#e377c2" stroke-width="1.15" stroke-dasharray="5 1.8"/>
<use href="#a_pk0_d2" stroke="#e377c2" stroke-width="1.85" stroke-dasharray="0.01 3.2" stroke-linecap="round"/>
<use href="#a_br_d2" stroke="#8c564b" stroke-width="1.15" stroke-dasharray="5 1.8"/>
<use href="#a_br_d2" stroke="#8c564b" stroke-width="1.85" stroke-dasharray="0.01 3.2" stroke-linecap="round"/>
<use href="#a_br_d1" stroke="#8c564b" stroke-width="1.15" stroke-dasharray="3.6 1.5"/>
<use href="#a_br_d1" stroke="#8c564b" stroke-width="1.85" stroke-dasharray="0.01 2.6" stroke-linecap="round"/>
<use href="#a_br_sp" stroke="#8c564b" stroke-width="1.50" stroke-dasharray="6 2.6"/>
<use href="#a_br_sp" stroke="#8c564b" stroke-width="1.90" stroke-dasharray="0.01 6.3" stroke-linecap="round"/>
<use href="#a_o_d2" stroke="#ff7f0e" stroke-width="1.15" stroke-dasharray="5 1.8"/>
<use href="#a_o_d2" stroke="#ff7f0e" stroke-width="1.85" stroke-dasharray="0.01 3.2" stroke-linecap="round"/>
<use href="#a_o_d1" stroke="#ff7f0e" stroke-width="1.15" stroke-dasharray="3.6 1.5"/>
<use href="#a_o_d1" stroke="#ff7f0e" stroke-width="1.85" stroke-dasharray="0.01 2.6" stroke-linecap="round"/>
<use href="#a_g_sp" stroke="#2ca02c" stroke-width="1.50" stroke-dasharray="6 2.6"/>
<use href="#a_g_sp" stroke="#2ca02c" stroke-width="1.90" stroke-dasharray="0.01 6.3" stroke-linecap="round"/>
<use href="#a_g_d1" stroke="#2ca02c" stroke-width="1.15" stroke-dasharray="3.6 1.5"/>
<use href="#a_g_d1" stroke="#2ca02c" stroke-width="1.85" stroke-dasharray="0.01 2.6" stroke-linecap="round"/>
<use href="#a_g_d2" stroke="#2ca02c" stroke-width="1.15" stroke-dasharray="5 1.8"/>
<use href="#a_g_d2" stroke="#2ca02c" stroke-width="1.85" stroke-dasharray="0.01 3.2" stroke-linecap="round"/>
<use href="#a_r_d2" stroke="#d62728" stroke-width="1.15" stroke-dasharray="5 1.8"/>
<use href="#a_r_d2" stroke="#d62728" stroke-width="1.85" stroke-dasharray="0.01 3.2" stroke-linecap="round"/>
<use href="#a_r_d1" stroke="#d62728" stroke-width="1.15" stroke-dasharray="3.6 1.5"/>
<use href="#a_r_d1" stroke="#d62728" stroke-width="1.85" stroke-dasharray="0.01 2.6" stroke-linecap="round"/>
<use href="#a_pk_d2" stroke="#e377c2" stroke-width="1.15" stroke-dasharray="5 1.8"/>
<use href="#a_pk_d2" stroke="#e377c2" stroke-width="1.85" stroke-dasharray="0.01 3.2" stroke-linecap="round"/>
<use href="#a_pk_d1" stroke="#e377c2" stroke-width="1.15" stroke-dasharray="3.6 1.5"/>
<use href="#a_pk_d1" stroke="#e377c2" stroke-width="1.85" stroke-dasharray="0.01 2.6" stroke-linecap="round"/>
</g></g>
<rect x="54.5" y="418.2" width="93.9" height="121.8" rx="1.5" fill="#fff" fill-opacity="0.8" stroke="#ccc" stroke-width="0.7"/>
<line x1="57.0" y1="424.4" x2="67.3" y2="424.4" stroke="#1f77b4" stroke-width="1.4" stroke-dasharray="4.2 1.8"/>
<text x="72.7" y="426.4" font-size="5.68">Cluster 0 of the trajectory</text>
<circle cx="62.1" cy="432.9" r="1.15" fill="#1f77b4"/>
<text x="72.7" y="435.0" font-size="5.68">Vessel Trajectory Points</text>
<line x1="57.0" y1="441.5" x2="67.3" y2="441.5" stroke="#ff7f0e" stroke-width="1.4" stroke-dasharray="4.2 1.8"/>
<text x="72.7" y="443.5" font-size="5.68">Cluster 1 of the trajectory</text>
<circle cx="62.1" cy="450.0" r="1.15" fill="#ff7f0e"/>
<text x="72.7" y="452.0" font-size="5.68">Vessel Trajectory Points</text>
<line x1="57.0" y1="458.5" x2="67.3" y2="458.5" stroke="#2ca02c" stroke-width="1.4" stroke-dasharray="4.2 1.8"/>
<text x="72.7" y="460.6" font-size="5.68">Cluster 2 of the trajectory</text>
<circle cx="62.1" cy="467.0" r="1.15" fill="#2ca02c"/>
<text x="72.7" y="469.1" font-size="5.68">Vessel Trajectory Points</text>
<line x1="57.0" y1="475.6" x2="67.3" y2="475.6" stroke="#d62728" stroke-width="1.4" stroke-dasharray="4.2 1.8"/>
<text x="72.7" y="477.6" font-size="5.68">Cluster 3 of the trajectory</text>
<circle cx="62.1" cy="484.1" r="1.15" fill="#d62728"/>
<text x="72.7" y="486.2" font-size="5.68">Vessel Trajectory Points</text>
<line x1="57.0" y1="492.6" x2="67.3" y2="492.6" stroke="#9467bd" stroke-width="1.4" stroke-dasharray="4.2 1.8"/>
<text x="72.7" y="494.7" font-size="5.68">Cluster 4 of the trajectory</text>
<circle cx="62.1" cy="501.2" r="1.15" fill="#9467bd"/>
<text x="72.7" y="503.2" font-size="5.68">Vessel Trajectory Points</text>
<line x1="57.0" y1="509.7" x2="67.3" y2="509.7" stroke="#8c564b" stroke-width="1.4" stroke-dasharray="4.2 1.8"/>
<text x="72.7" y="511.7" font-size="5.68">Cluster 5 of the trajectory</text>
<circle cx="62.1" cy="518.2" r="1.15" fill="#8c564b"/>
<text x="72.7" y="520.3" font-size="5.68">Vessel Trajectory Points</text>
<line x1="57.0" y1="526.8" x2="67.3" y2="526.8" stroke="#e377c2" stroke-width="1.4" stroke-dasharray="4.2 1.8"/>
<text x="72.7" y="528.8" font-size="5.68">Cluster 6 of the trajectory</text>
<circle cx="62.1" cy="535.3" r="1.15" fill="#e377c2"/>
<text x="72.7" y="537.3" font-size="5.68">Vessel Trajectory Points</text>
<rect x="51.6" y="302.4" width="487.8" height="241.2" fill="none" stroke="#5a5a5a" stroke-width="0.85"/>
<path d="M56.0 543.6v2.2M98.5 543.6v2.2M140.9 543.6v2.2M183.4 543.6v2.2M225.8 543.6v2.2M268.3 543.6v2.2M310.8 543.6v2.2M353.2 543.6v2.2M395.7 543.6v2.2M438.1 543.6v2.2M480.6 543.6v2.2M523.1 543.6v2.2M51.6 533.6h-2.2M51.6 499.7h-2.2M51.6 465.7h-2.2M51.6 431.8h-2.2M51.6 397.8h-2.2M51.6 363.9h-2.2M51.6 329.9h-2.2" stroke="#333" stroke-width="0.7" fill="none"/>
<path d="M56.0 543.6v1.2M64.5 543.6v1.2M73.0 543.6v1.2M81.5 543.6v1.2M90.0 543.6v1.2M98.5 543.6v1.2M107.0 543.6v1.2M115.4 543.6v1.2M123.9 543.6v1.2M132.4 543.6v1.2M140.9 543.6v1.2M149.4 543.6v1.2M157.9 543.6v1.2M166.4 543.6v1.2M174.9 543.6v1.2M183.4 543.6v1.2M191.9 543.6v1.2M200.4 543.6v1.2M208.9 543.6v1.2M217.3 543.6v1.2M225.8 543.6v1.2M234.3 543.6v1.2M242.8 543.6v1.2M251.3 543.6v1.2M259.8 543.6v1.2M268.3 543.6v1.2M276.8 543.6v1.2M285.3 543.6v1.2M293.8 543.6v1.2M302.3 543.6v1.2M310.8 543.6v1.2M319.3 543.6v1.2M327.7 543.6v1.2M336.2 543.6v1.2M344.7 543.6v1.2M353.2 543.6v1.2M361.7 543.6v1.2M370.2 543.6v1.2M378.7 543.6v1.2M387.2 543.6v1.2M395.7 543.6v1.2M404.2 543.6v1.2M412.7 543.6v1.2M421.2 543.6v1.2M429.6 543.6v1.2M438.1 543.6v1.2M446.6 543.6v1.2M455.1 543.6v1.2M463.6 543.6v1.2M472.1 543.6v1.2M480.6 543.6v1.2M489.1 543.6v1.2M497.6 543.6v1.2M506.1 543.6v1.2M514.6 543.6v1.2M523.1 543.6v1.2M531.6 543.6v1.2M51.6 540.4h-1.2M51.6 533.6h-1.2M51.6 526.8h-1.2M51.6 520.0h-1.2M51.6 513.2h-1.2M51.6 506.4h-1.2M51.6 499.7h-1.2M51.6 492.9h-1.2M51.6 486.1h-1.2M51.6 479.3h-1.2M51.6 472.5h-1.2M51.6 465.7h-1.2M51.6 458.9h-1.2M51.6 452.1h-1.2M51.6 445.3h-1.2M51.6 438.5h-1.2M51.6 431.8h-1.2M51.6 425.0h-1.2M51.6 418.2h-1.2M51.6 411.4h-1.2M51.6 404.6h-1.2M51.6 397.8h-1.2M51.6 391.0h-1.2M51.6 384.2h-1.2M51.6 377.4h-1.2M51.6 370.6h-1.2M51.6 363.9h-1.2M51.6 357.1h-1.2M51.6 350.3h-1.2M51.6 343.5h-1.2M51.6 336.7h-1.2M51.6 329.9h-1.2M51.6 323.1h-1.2M51.6 316.3h-1.2M51.6 309.5h-1.2M51.6 302.7h-1.2" stroke="#666" stroke-width="0.5" fill="none"/>
<text x="56.0" y="554.9" text-anchor="middle" font-size="8.8">118.0</text>
<text x="98.5" y="554.9" text-anchor="middle" font-size="8.8">118.5</text>
<text x="140.9" y="554.9" text-anchor="middle" font-size="8.8">119.0</text>
<text x="183.4" y="554.9" text-anchor="middle" font-size="8.8">119.5</text>
<text x="225.8" y="554.9" text-anchor="middle" font-size="8.8">120.0</text>
<text x="268.3" y="554.9" text-anchor="middle" font-size="8.8">120.5</text>
<text x="310.8" y="554.9" text-anchor="middle" font-size="8.8">121.0</text>
<text x="353.2" y="554.9" text-anchor="middle" font-size="8.8">121.5</text>
<text x="395.7" y="554.9" text-anchor="middle" font-size="8.8">122.0</text>
<text x="438.1" y="554.9" text-anchor="middle" font-size="8.8">122.5</text>
<text x="480.6" y="554.9" text-anchor="middle" font-size="8.8">123.0</text>
<text x="523.1" y="554.9" text-anchor="middle" font-size="8.8">123.5</text>
<text x="47.4" y="536.9" text-anchor="end" font-size="8.8">36.0</text>
<text x="47.4" y="503.0" text-anchor="end" font-size="8.8">36.5</text>
<text x="47.4" y="469.0" text-anchor="end" font-size="8.8">37.0</text>
<text x="47.4" y="435.1" text-anchor="end" font-size="8.8">37.5</text>
<text x="47.4" y="401.1" text-anchor="end" font-size="8.8">38.0</text>
<text x="47.4" y="367.2" text-anchor="end" font-size="8.8">38.5</text>
<text x="47.4" y="333.2" text-anchor="end" font-size="8.8">39.0</text>
<text x="295.5" y="566.0" text-anchor="middle" font-size="9.2">Longitude(°)</text>
<text transform="translate(23.3,425.0) rotate(-90)" text-anchor="middle" font-size="9.2">Latitude(°)</text>
<text x="62.3" y="394.8" font-size="14.4" class="s" font-family="'Liberation Serif',serif">Caofeidian port</text>
<text x="353.6" y="328.6" font-size="14.25" class="s" font-family="'Liberation Serif',serif">Laotieshan waterway</text>
<text x="225.5" y="440.4" font-size="14.4" class="s" font-family="'Liberation Serif',serif">Penglai waters</text>
<text x="303.2" y="465.6" font-size="14.35" class="s" font-family="'Liberation Serif',serif">Chengshanjiao waters</text>
<path d="M104.7,379.4L104.7,346.6M107.3,353.1L104.7,346.6L102.1,353.1" fill="none" stroke="#000" stroke-width="1.10" stroke-linecap="round"/>
<path d="M351.0,330.6L331.6,355.0M333.6,348.3L331.6,355.0L337.7,351.5" fill="none" stroke="#000" stroke-width="1.10" stroke-linecap="round"/>
<path d="M281.8,424.0L299.0,402.3M297.0,409.0L299.0,402.3L292.9,405.8" fill="none" stroke="#000" stroke-width="1.10" stroke-linecap="round"/>
<path d="M429.3,455.3L446.4,432.7M444.6,439.5L446.4,432.7L440.4,436.3" fill="none" stroke="#000" stroke-width="1.10" stroke-linecap="round"/>
<text x="277.7" y="584.5" text-anchor="middle" font-family="'Liberation Serif',serif" font-weight="bold" font-size="13.7">(b)</text>
<rect x="39.2" y="615.5" width="502.6" height="248.7" fill="#fff"/>
<path d="M206.4 615.5V864.2M476.7 615.5V864.2M39.2 727.4H541.8" stroke="#e6e6e6" stroke-width="0.65" fill="none"/>
<g clip-path="url(#cc)"><g fill="none">
<use href="#c_b_c1" stroke="#1f77b4" stroke-width="1.30" stroke-dasharray="4.5 2"/>
<use href="#c_b_c1" stroke="#1f77b4" stroke-width="1.90" stroke-dasharray="0.01 3.7" stroke-linecap="round"/>
<use href="#c_b_c2" stroke="#1f77b4" stroke-width="1.30" stroke-dasharray="6 2.3"/>
<use href="#c_b_c2" stroke="#1f77b4" stroke-width="1.90" stroke-dasharray="0.01 4.6" stroke-linecap="round"/>
<use href="#c_b_cs" stroke="#1f77b4" stroke-width="1.40" stroke-dasharray="5 2.2"/>
<use href="#c_b_cs" stroke="#1f77b4" stroke-width="1.80" stroke-dasharray="0.01 7.2" stroke-linecap="round"/>
<use href="#c_o_cs" stroke="#ff7f0e" stroke-width="1.40" stroke-dasharray="5 2.2"/>
<use href="#c_o_cs" stroke="#ff7f0e" stroke-width="1.80" stroke-dasharray="0.01 7.2" stroke-linecap="round"/>
<use href="#c_o_c1" stroke="#ff7f0e" stroke-width="1.30" stroke-dasharray="4.5 2"/>
<use href="#c_o_c1" stroke="#ff7f0e" stroke-width="1.90" stroke-dasharray="0.01 3.7" stroke-linecap="round"/>
<use href="#c_o_c2" stroke="#ff7f0e" stroke-width="1.30" stroke-dasharray="6 2.3"/>
<use href="#c_o_c2" stroke="#ff7f0e" stroke-width="1.90" stroke-dasharray="0.01 4.6" stroke-linecap="round"/>
<use href="#c_g_c1" stroke="#2ca02c" stroke-width="1.30" stroke-dasharray="4.5 2"/>
<use href="#c_g_c1" stroke="#2ca02c" stroke-width="1.90" stroke-dasharray="0.01 3.7" stroke-linecap="round"/>
<use href="#c_g_c2" stroke="#2ca02c" stroke-width="1.30" stroke-dasharray="6 2.3"/>
<use href="#c_g_c2" stroke="#2ca02c" stroke-width="1.90" stroke-dasharray="0.01 4.6" stroke-linecap="round"/>
<use href="#c_g_cs" stroke="#2ca02c" stroke-width="1.40" stroke-dasharray="5 2.2"/>
<use href="#c_g_cs" stroke="#2ca02c" stroke-width="1.80" stroke-dasharray="0.01 7.2" stroke-linecap="round"/>
</g>
<line x1="141.6" y1="694.4" x2="473.6" y2="792" stroke="#000" stroke-width="4.7" stroke-dasharray="19.4 5.8"/>
<circle cx="278" cy="627.5" r="1.8" fill="#1f77b4"/>
</g>
<rect x="40.9" y="805.2" width="100.1" height="56.4" rx="1.5" fill="#fff" fill-opacity="0.8" stroke="#ccc" stroke-width="0.7"/>
<line x1="44.0" y1="811.5" x2="55.5" y2="811.5" stroke="#1f77b4" stroke-width="1.4" stroke-dasharray="4.2 1.8"/>
<text x="60.3" y="813.6" font-size="5.86">Cluster 0 of the trajectory</text>
<circle cx="49.8" cy="820.2" r="1.15" fill="#1f77b4"/>
<text x="60.3" y="822.4" font-size="5.86">Vessel Trajectory Points</text>
<line x1="44.0" y1="829.0" x2="55.5" y2="829.0" stroke="#ff7f0e" stroke-width="1.4" stroke-dasharray="4.2 1.8"/>
<text x="60.3" y="831.1" font-size="5.86">Cluster 1 of the trajectory</text>
<circle cx="49.8" cy="837.8" r="1.15" fill="#ff7f0e"/>
<text x="60.3" y="839.9" font-size="5.86">Vessel Trajectory Points</text>
<line x1="44.0" y1="846.5" x2="55.5" y2="846.5" stroke="#2ca02c" stroke-width="1.4" stroke-dasharray="4.2 1.8"/>
<text x="60.3" y="848.6" font-size="5.86">Cluster 2 of the trajectory</text>
<circle cx="49.8" cy="855.2" r="1.15" fill="#2ca02c"/>
<text x="60.3" y="857.4" font-size="5.86">Vessel Trajectory Points</text>
<rect x="39.2" y="615.5" width="502.6" height="248.7" fill="none" stroke="#5a5a5a" stroke-width="0.85"/>
<path d="M206.4 864.2v2.2M476.7 864.2v2.2M39.2 727.4h-2.2" stroke="#333" stroke-width="0.7" fill="none"/>
<path d="M98.3 864.2v1.2M152.3 864.2v1.2M260.5 864.2v1.2M314.5 864.2v1.2M368.6 864.2v1.2M422.6 864.2v1.2M530.8 864.2v1.2M39.2 631.7h-1.2M39.2 663.6h-1.2M39.2 695.5h-1.2M39.2 759.3h-1.2M39.2 791.2h-1.2M39.2 823.1h-1.2M39.2 855.0h-1.2" stroke="#666" stroke-width="0.5" fill="none"/>
<text x="206.4" y="875.5" text-anchor="middle" font-size="8.8">121.0</text>
<text x="476.7" y="875.5" text-anchor="middle" font-size="8.8">121.5</text>
<text x="35.0" y="730.7" text-anchor="end" font-size="8.8">38.5</text>
<text x="290.0" y="886.9" text-anchor="middle" font-size="9.2">Longitude(°)</text>
<text transform="translate(10.8,742.0) rotate(-90)" text-anchor="middle" font-size="9.2">Latitude(°)</text>
<text x="260.6" y="655.9" font-size="14.74" class="s" font-family="'Liberation Serif',serif">Ships traveling eastward towards the Bohai Sea</text>
<text x="367.5" y="730.1" font-size="14.7" class="s" font-family="'Liberation Serif',serif">Trajectory demarcation Line</text>
<text y="829.8" font-size="14.65" class="s" font-family="'Liberation Serif',serif"><tspan x="148.7">Ships traveling westward </tspan><tspan x="302.2" textLength="132.2" lengthAdjust="spacingAndGlyphs">towards the Yellow Sea</tspan></text>
<path d="M305.5,659.5L300.0,679.5M299.6,674.2L300.0,679.5L303.1,675.2" fill="none" stroke="#000" stroke-width="0.90" stroke-linecap="round"/>
<path d="M443.8,731.0L435.5,774.5M434.7,769.3L435.5,774.5L438.2,769.9" fill="none" stroke="#000" stroke-width="0.90" stroke-linecap="round"/>
<path d="M307.0,814.0L315.0,792.0M315.0,797.3L315.0,792.0L311.6,796.1" fill="none" stroke="#000" stroke-width="0.90" stroke-linecap="round"/>
<path d="M360.0,713.0L287.0,690.5M303.2,688.7L287.0,690.5L299.4,701.1" fill="none" stroke="#90ee90" stroke-width="2.40" stroke-linecap="round"/>
<path d="M259.7,765.0L327.4,784.6M311.2,786.7L327.4,784.6L314.8,774.2" fill="none" stroke="#4169e1" stroke-width="2.40" stroke-linecap="round"/>
<text x="277.3" y="906.8" text-anchor="middle" font-family="'Liberation Serif',serif" font-weight="bold" font-size="13.7">(c)</text>
</svg>
</body></html>
